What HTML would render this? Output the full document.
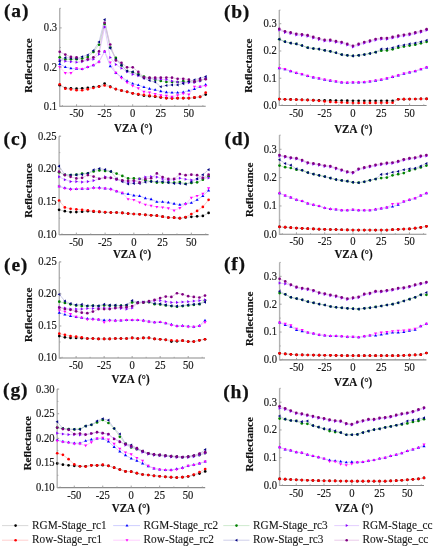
<!DOCTYPE html>
<html><head><meta charset="utf-8"><style>
html,body{margin:0;padding:0;background:#fff;}
body{width:435px;height:550px;overflow:hidden;}
svg{display:block;will-change:transform;filter:blur(0.3px);}
.t{font-family:"Liberation Serif",serif;font-size:10.6px;fill:#1a1a1a;stroke:#1a1a1a;stroke-width:0.18px;}
.al{font-family:"Liberation Serif",serif;font-size:11px;font-weight:bold;fill:#111;stroke:#111;stroke-width:0.15px;word-spacing:1.2px;}
.pl{font-family:"Liberation Serif",serif;font-size:19.5px;font-weight:bold;fill:#111;stroke:#111;stroke-width:0.25px;letter-spacing:0.8px;}
.lg{font-family:"Liberation Serif",serif;font-size:11.3px;fill:#1a1a1a;stroke:#1a1a1a;stroke-width:0.12px;}
</style></head><body>
<svg width="435" height="550" viewBox="0 0 435 550">
<rect width="435" height="550" fill="#fff"/>
<line x1="59.70" y1="106.30" x2="205.70" y2="106.30" stroke="#8a8a8a" stroke-width="1.1"/>
<line x1="59.70" y1="106.80" x2="59.70" y2="8.30" stroke="#b2b2b2" stroke-width="1.4"/>
<path d="M59.70,85.13 L65.32,88.07 L70.93,88.37 L76.55,88.66 L82.16,88.27 L87.78,87.88 L93.39,87.09 L99.01,86.31 L104.62,83.56 L110.24,86.70 L115.85,89.05 L121.47,90.62 L127.08,91.80 L132.70,93.36 L138.32,94.54 L143.93,95.72 L149.55,96.21 L155.16,96.70 L160.78,97.38 L166.39,98.07 L172.01,98.11 L177.62,98.15 L183.24,98.11 L188.85,98.07 L194.47,97.68 L200.08,96.89 L205.70,94.54" fill="none" stroke="#c4c4c4" stroke-width="0.7"/>
<path d="M59.70,57.30 L65.32,59.46 L70.93,59.36 L76.55,59.26 L82.16,58.48 L87.78,57.10 L93.39,51.93 L99.01,44.76 L104.62,23.98 L110.24,47.50 L115.85,57.97 L121.47,65.38 L127.08,71.02 L132.70,72.20 L138.32,74.35 L143.93,76.51 L149.55,78.08 L155.16,79.64 L160.78,80.98 L166.39,82.00 L172.01,82.00 L177.62,82.00 L183.24,81.21 L188.85,81.60 L194.47,82.00 L200.08,80.82 L205.70,78.86" fill="none" stroke="#b0dcb0" stroke-width="0.7"/>
<path d="M59.70,63.96 L65.32,67.10 L70.93,68.28 L76.55,68.86 L82.16,69.06 L87.78,67.10 L93.39,65.14 L99.01,61.61 L104.62,51.42 L110.24,66.20 L115.85,72.98 L121.47,76.90 L127.08,80.98 L132.70,83.56 L138.32,85.13 L143.93,87.09 L149.55,88.66 L155.16,89.84 L160.78,91.21 L166.39,92.19 L172.01,92.58 L177.62,92.58 L183.24,92.19 L188.85,90.62 L194.47,89.13 L200.08,86.70 L205.70,84.74" fill="none" stroke="#b8b8ff" stroke-width="0.7"/>
<path d="M59.70,60.04 L65.32,61.22 L70.93,61.71 L76.55,62.20 L82.16,61.61 L87.78,60.04 L93.39,59.26 L99.01,54.16 L104.62,27.12 L110.24,57.46 L115.85,64.47 L121.47,68.28 L127.08,71.80 L132.70,74.35 L138.32,75.72 L143.93,78.08 L149.55,78.47 L155.16,78.86 L160.78,79.25 L166.39,79.64 L172.01,80.98 L177.62,82.00 L183.24,82.78 L188.85,82.78 L194.47,82.39 L200.08,80.98 L205.70,78.08" fill="none" stroke="#d8b8ff" stroke-width="0.7"/>
<path d="M59.70,84.35 L65.32,88.66 L70.93,89.44 L76.55,90.23 L82.16,90.23 L87.78,89.33 L93.39,88.01 L99.01,86.70 L104.62,85.52 L110.24,87.09 L115.85,89.05 L121.47,90.62 L127.08,91.80 L132.70,93.36 L138.32,94.15 L143.93,94.93 L149.55,95.60 L155.16,96.26 L160.78,97.17 L166.39,98.15 L172.01,98.58 L177.62,98.15 L183.24,98.15 L188.85,98.15 L194.47,97.44 L200.08,96.77 L205.70,92.58" fill="none" stroke="#ffb8b8" stroke-width="0.7"/>
<path d="M59.70,61.22 L65.32,57.69 L70.93,58.08 L76.55,58.48 L82.16,56.71 L87.78,54.95 L93.39,50.64 L99.01,42.01 L104.62,19.67 L110.24,48.09 L115.85,59.26 L121.47,65.14 L127.08,71.02 L132.70,71.80 L138.32,74.94 L143.93,78.08 L149.55,80.55 L155.16,82.00 L160.78,86.70 L166.39,85.52 L172.01,84.90 L177.62,84.90 L183.24,83.56 L188.85,81.49 L194.47,79.88 L200.08,78.27 L205.70,76.51" fill="none" stroke="#b8b8e0" stroke-width="0.7"/>
<path d="M59.70,67.10 L65.32,72.98 L70.93,72.98 L76.55,68.28 L82.16,69.06 L87.78,67.10 L93.39,65.14 L99.01,62.00 L104.62,51.42 L110.24,62.40 L115.85,72.74 L121.47,78.08 L127.08,82.58 L132.70,85.92 L138.32,88.27 L143.93,91.80 L149.55,92.58 L155.16,93.95 L160.78,95.32 L166.39,95.83 L172.01,96.77 L177.62,95.32 L183.24,93.52 L188.85,94.54 L194.47,86.70 L200.08,86.70 L205.70,85.92" fill="none" stroke="#ffb8ff" stroke-width="0.7"/>
<path d="M59.70,51.81 L65.32,54.56 L70.93,56.91 L76.55,57.30 L82.16,60.98 L87.78,59.26 L93.39,57.30 L99.01,51.42 L104.62,22.80 L110.24,44.48 L115.85,60.44 L121.47,62.87 L127.08,67.30 L132.70,67.30 L138.32,71.92 L143.93,77.29 L149.55,77.68 L155.16,77.68 L160.78,77.68 L166.39,77.57 L172.01,77.68 L177.62,78.86 L183.24,78.86 L188.85,79.64 L194.47,81.49 L200.08,79.64 L205.70,79.25" fill="none" stroke="#dcb4dc" stroke-width="0.7"/>
<circle cx="59.70" cy="85.13" r="1.35" fill="#000000"/>
<circle cx="65.32" cy="88.07" r="1.35" fill="#000000"/>
<circle cx="70.93" cy="88.37" r="1.35" fill="#000000"/>
<circle cx="76.55" cy="88.66" r="1.35" fill="#000000"/>
<circle cx="82.16" cy="88.27" r="1.35" fill="#000000"/>
<circle cx="87.78" cy="87.88" r="1.35" fill="#000000"/>
<circle cx="93.39" cy="87.09" r="1.35" fill="#000000"/>
<circle cx="99.01" cy="86.31" r="1.35" fill="#000000"/>
<circle cx="104.62" cy="83.56" r="1.35" fill="#000000"/>
<circle cx="110.24" cy="86.70" r="1.35" fill="#000000"/>
<circle cx="115.85" cy="89.05" r="1.35" fill="#000000"/>
<circle cx="121.47" cy="90.62" r="1.35" fill="#000000"/>
<circle cx="127.08" cy="91.80" r="1.35" fill="#000000"/>
<circle cx="132.70" cy="93.36" r="1.35" fill="#000000"/>
<circle cx="138.32" cy="94.54" r="1.35" fill="#000000"/>
<circle cx="143.93" cy="95.72" r="1.35" fill="#000000"/>
<circle cx="149.55" cy="96.21" r="1.35" fill="#000000"/>
<circle cx="155.16" cy="96.70" r="1.35" fill="#000000"/>
<circle cx="160.78" cy="97.38" r="1.35" fill="#000000"/>
<circle cx="166.39" cy="98.07" r="1.35" fill="#000000"/>
<circle cx="172.01" cy="98.11" r="1.35" fill="#000000"/>
<circle cx="177.62" cy="98.15" r="1.35" fill="#000000"/>
<circle cx="183.24" cy="98.11" r="1.35" fill="#000000"/>
<circle cx="188.85" cy="98.07" r="1.35" fill="#000000"/>
<circle cx="194.47" cy="97.68" r="1.35" fill="#000000"/>
<circle cx="200.08" cy="96.89" r="1.35" fill="#000000"/>
<circle cx="205.70" cy="94.54" r="1.35" fill="#000000"/>
<circle cx="59.70" cy="57.30" r="1.35" fill="#008000"/>
<circle cx="65.32" cy="59.46" r="1.35" fill="#008000"/>
<circle cx="70.93" cy="59.36" r="1.35" fill="#008000"/>
<circle cx="76.55" cy="59.26" r="1.35" fill="#008000"/>
<circle cx="82.16" cy="58.48" r="1.35" fill="#008000"/>
<circle cx="87.78" cy="57.10" r="1.35" fill="#008000"/>
<circle cx="93.39" cy="51.93" r="1.35" fill="#008000"/>
<circle cx="99.01" cy="44.76" r="1.35" fill="#008000"/>
<circle cx="104.62" cy="23.98" r="1.35" fill="#008000"/>
<circle cx="110.24" cy="47.50" r="1.35" fill="#008000"/>
<circle cx="115.85" cy="57.97" r="1.35" fill="#008000"/>
<circle cx="121.47" cy="65.38" r="1.35" fill="#008000"/>
<circle cx="127.08" cy="71.02" r="1.35" fill="#008000"/>
<circle cx="132.70" cy="72.20" r="1.35" fill="#008000"/>
<circle cx="138.32" cy="74.35" r="1.35" fill="#008000"/>
<circle cx="143.93" cy="76.51" r="1.35" fill="#008000"/>
<circle cx="149.55" cy="78.08" r="1.35" fill="#008000"/>
<circle cx="155.16" cy="79.64" r="1.35" fill="#008000"/>
<circle cx="160.78" cy="80.98" r="1.35" fill="#008000"/>
<circle cx="166.39" cy="82.00" r="1.35" fill="#008000"/>
<circle cx="172.01" cy="82.00" r="1.35" fill="#008000"/>
<circle cx="177.62" cy="82.00" r="1.35" fill="#008000"/>
<circle cx="183.24" cy="81.21" r="1.35" fill="#008000"/>
<circle cx="188.85" cy="81.60" r="1.35" fill="#008000"/>
<circle cx="194.47" cy="82.00" r="1.35" fill="#008000"/>
<circle cx="200.08" cy="80.82" r="1.35" fill="#008000"/>
<circle cx="205.70" cy="78.86" r="1.35" fill="#008000"/>
<polygon points="59.70,62.31 58.13,64.95 61.27,64.95" fill="#0000ff"/>
<polygon points="65.32,65.45 63.75,68.09 66.88,68.09" fill="#0000ff"/>
<polygon points="70.93,66.63 69.36,69.27 72.50,69.27" fill="#0000ff"/>
<polygon points="76.55,67.21 74.98,69.85 78.11,69.85" fill="#0000ff"/>
<polygon points="82.16,67.41 80.59,70.05 83.73,70.05" fill="#0000ff"/>
<polygon points="87.78,65.45 86.21,68.09 89.34,68.09" fill="#0000ff"/>
<polygon points="93.39,63.49 91.82,66.13 94.96,66.13" fill="#0000ff"/>
<polygon points="99.01,59.96 97.44,62.60 100.58,62.60" fill="#0000ff"/>
<polygon points="104.62,49.77 103.06,52.41 106.19,52.41" fill="#0000ff"/>
<polygon points="110.24,64.55 108.67,67.19 111.81,67.19" fill="#0000ff"/>
<polygon points="115.85,71.33 114.29,73.97 117.42,73.97" fill="#0000ff"/>
<polygon points="121.47,75.25 119.90,77.89 123.04,77.89" fill="#0000ff"/>
<polygon points="127.08,79.33 125.52,81.97 128.65,81.97" fill="#0000ff"/>
<polygon points="132.70,81.91 131.13,84.55 134.27,84.55" fill="#0000ff"/>
<polygon points="138.32,83.48 136.75,86.12 139.88,86.12" fill="#0000ff"/>
<polygon points="143.93,85.44 142.36,88.08 145.50,88.08" fill="#0000ff"/>
<polygon points="149.55,87.01 147.98,89.65 151.11,89.65" fill="#0000ff"/>
<polygon points="155.16,88.19 153.59,90.83 156.73,90.83" fill="#0000ff"/>
<polygon points="160.78,89.56 159.21,92.20 162.34,92.20" fill="#0000ff"/>
<polygon points="166.39,90.54 164.82,93.18 167.96,93.18" fill="#0000ff"/>
<polygon points="172.01,90.93 170.44,93.57 173.58,93.57" fill="#0000ff"/>
<polygon points="177.62,90.93 176.06,93.57 179.19,93.57" fill="#0000ff"/>
<polygon points="183.24,90.54 181.67,93.18 184.81,93.18" fill="#0000ff"/>
<polygon points="188.85,88.97 187.29,91.61 190.42,91.61" fill="#0000ff"/>
<polygon points="194.47,87.48 192.90,90.12 196.04,90.12" fill="#0000ff"/>
<polygon points="200.08,85.05 198.52,87.69 201.65,87.69" fill="#0000ff"/>
<polygon points="205.70,83.09 204.13,85.73 207.27,85.73" fill="#0000ff"/>
<polygon points="61.35,60.04 58.71,58.48 58.71,61.61" fill="#8a00ff"/>
<polygon points="66.97,61.22 64.33,59.65 64.33,62.79" fill="#8a00ff"/>
<polygon points="72.58,61.71 69.94,60.14 69.94,63.28" fill="#8a00ff"/>
<polygon points="78.20,62.20 75.56,60.63 75.56,63.77" fill="#8a00ff"/>
<polygon points="83.81,61.61 81.17,60.04 81.17,63.18" fill="#8a00ff"/>
<polygon points="89.43,60.04 86.79,58.48 86.79,61.61" fill="#8a00ff"/>
<polygon points="95.04,59.26 92.40,57.69 92.40,60.83" fill="#8a00ff"/>
<polygon points="100.66,54.16 98.02,52.60 98.02,55.73" fill="#8a00ff"/>
<polygon points="106.27,27.12 103.63,25.55 103.63,28.68" fill="#8a00ff"/>
<polygon points="111.89,57.46 109.25,55.89 109.25,59.02" fill="#8a00ff"/>
<polygon points="117.50,64.47 114.86,62.91 114.86,66.04" fill="#8a00ff"/>
<polygon points="123.12,68.28 120.48,66.71 120.48,69.84" fill="#8a00ff"/>
<polygon points="128.73,71.80 126.09,70.24 126.09,73.37" fill="#8a00ff"/>
<polygon points="134.35,74.35 131.71,72.78 131.71,75.92" fill="#8a00ff"/>
<polygon points="139.97,75.72 137.33,74.16 137.33,77.29" fill="#8a00ff"/>
<polygon points="145.58,78.08 142.94,76.51 142.94,79.64" fill="#8a00ff"/>
<polygon points="151.20,78.47 148.56,76.90 148.56,80.04" fill="#8a00ff"/>
<polygon points="156.81,78.86 154.17,77.29 154.17,80.43" fill="#8a00ff"/>
<polygon points="162.43,79.25 159.79,77.68 159.79,80.82" fill="#8a00ff"/>
<polygon points="168.04,79.64 165.40,78.08 165.40,81.21" fill="#8a00ff"/>
<polygon points="173.66,80.98 171.02,79.41 171.02,82.54" fill="#8a00ff"/>
<polygon points="179.27,82.00 176.63,80.43 176.63,83.56" fill="#8a00ff"/>
<polygon points="184.89,82.78 182.25,81.21 182.25,84.35" fill="#8a00ff"/>
<polygon points="190.50,82.78 187.86,81.21 187.86,84.35" fill="#8a00ff"/>
<polygon points="196.12,82.39 193.48,80.82 193.48,83.96" fill="#8a00ff"/>
<polygon points="201.73,80.98 199.09,79.41 199.09,82.54" fill="#8a00ff"/>
<polygon points="207.35,78.08 204.71,76.51 204.71,79.64" fill="#8a00ff"/>
<circle cx="59.70" cy="84.35" r="1.35" fill="#ff0000"/>
<circle cx="65.32" cy="88.66" r="1.35" fill="#ff0000"/>
<circle cx="70.93" cy="89.44" r="1.35" fill="#ff0000"/>
<circle cx="76.55" cy="90.23" r="1.35" fill="#ff0000"/>
<circle cx="82.16" cy="90.23" r="1.35" fill="#ff0000"/>
<circle cx="87.78" cy="89.33" r="1.35" fill="#ff0000"/>
<circle cx="93.39" cy="88.01" r="1.35" fill="#ff0000"/>
<circle cx="99.01" cy="86.70" r="1.35" fill="#ff0000"/>
<circle cx="104.62" cy="85.52" r="1.35" fill="#ff0000"/>
<circle cx="110.24" cy="87.09" r="1.35" fill="#ff0000"/>
<circle cx="115.85" cy="89.05" r="1.35" fill="#ff0000"/>
<circle cx="121.47" cy="90.62" r="1.35" fill="#ff0000"/>
<circle cx="127.08" cy="91.80" r="1.35" fill="#ff0000"/>
<circle cx="132.70" cy="93.36" r="1.35" fill="#ff0000"/>
<circle cx="138.32" cy="94.15" r="1.35" fill="#ff0000"/>
<circle cx="143.93" cy="94.93" r="1.35" fill="#ff0000"/>
<circle cx="149.55" cy="95.60" r="1.35" fill="#ff0000"/>
<circle cx="155.16" cy="96.26" r="1.35" fill="#ff0000"/>
<circle cx="160.78" cy="97.17" r="1.35" fill="#ff0000"/>
<circle cx="166.39" cy="98.15" r="1.35" fill="#ff0000"/>
<circle cx="172.01" cy="98.58" r="1.35" fill="#ff0000"/>
<circle cx="177.62" cy="98.15" r="1.35" fill="#ff0000"/>
<circle cx="183.24" cy="98.15" r="1.35" fill="#ff0000"/>
<circle cx="188.85" cy="98.15" r="1.35" fill="#ff0000"/>
<circle cx="194.47" cy="97.44" r="1.35" fill="#ff0000"/>
<circle cx="200.08" cy="96.77" r="1.35" fill="#ff0000"/>
<circle cx="205.70" cy="92.58" r="1.35" fill="#ff0000"/>
<polygon points="58.05,61.22 60.69,59.65 60.69,62.79" fill="#000080"/>
<polygon points="63.67,57.69 66.31,56.12 66.31,59.26" fill="#000080"/>
<polygon points="69.28,58.08 71.92,56.52 71.92,59.65" fill="#000080"/>
<polygon points="74.90,58.48 77.54,56.91 77.54,60.04" fill="#000080"/>
<polygon points="80.51,56.71 83.15,55.14 83.15,58.28" fill="#000080"/>
<polygon points="86.13,54.95 88.77,53.38 88.77,56.52" fill="#000080"/>
<polygon points="91.74,50.64 94.38,49.07 94.38,52.20" fill="#000080"/>
<polygon points="97.36,42.01 100.00,40.44 100.00,43.58" fill="#000080"/>
<polygon points="102.97,19.67 105.61,18.10 105.61,21.24" fill="#000080"/>
<polygon points="108.59,48.09 111.23,46.52 111.23,49.66" fill="#000080"/>
<polygon points="114.20,59.26 116.84,57.69 116.84,60.83" fill="#000080"/>
<polygon points="119.82,65.14 122.46,63.57 122.46,66.71" fill="#000080"/>
<polygon points="125.43,71.02 128.07,69.45 128.07,72.59" fill="#000080"/>
<polygon points="131.05,71.80 133.69,70.24 133.69,73.37" fill="#000080"/>
<polygon points="136.67,74.94 139.31,73.37 139.31,76.51" fill="#000080"/>
<polygon points="142.28,78.08 144.92,76.51 144.92,79.64" fill="#000080"/>
<polygon points="147.90,80.55 150.54,78.98 150.54,82.11" fill="#000080"/>
<polygon points="153.51,82.00 156.15,80.43 156.15,83.56" fill="#000080"/>
<polygon points="159.13,86.70 161.77,85.13 161.77,88.27" fill="#000080"/>
<polygon points="164.74,85.52 167.38,83.96 167.38,87.09" fill="#000080"/>
<polygon points="170.36,84.90 173.00,83.33 173.00,86.46" fill="#000080"/>
<polygon points="175.97,84.90 178.61,83.33 178.61,86.46" fill="#000080"/>
<polygon points="181.59,83.56 184.23,82.00 184.23,85.13" fill="#000080"/>
<polygon points="187.20,81.49 189.84,79.92 189.84,83.05" fill="#000080"/>
<polygon points="192.82,79.88 195.46,78.31 195.46,81.45" fill="#000080"/>
<polygon points="198.43,78.27 201.07,76.70 201.07,79.84" fill="#000080"/>
<polygon points="204.05,76.51 206.69,74.94 206.69,78.08" fill="#000080"/>
<polygon points="59.70,68.75 58.13,66.11 61.27,66.11" fill="#ff00ff"/>
<polygon points="65.32,74.63 63.75,71.99 66.88,71.99" fill="#ff00ff"/>
<polygon points="70.93,74.63 69.36,71.99 72.50,71.99" fill="#ff00ff"/>
<polygon points="76.55,69.93 74.98,67.29 78.11,67.29" fill="#ff00ff"/>
<polygon points="82.16,70.71 80.59,68.07 83.73,68.07" fill="#ff00ff"/>
<polygon points="87.78,68.75 86.21,66.11 89.34,66.11" fill="#ff00ff"/>
<polygon points="93.39,66.79 91.82,64.15 94.96,64.15" fill="#ff00ff"/>
<polygon points="99.01,63.65 97.44,61.01 100.58,61.01" fill="#ff00ff"/>
<polygon points="104.62,53.07 103.06,50.43 106.19,50.43" fill="#ff00ff"/>
<polygon points="110.24,64.05 108.67,61.41 111.81,61.41" fill="#ff00ff"/>
<polygon points="115.85,74.39 114.29,71.75 117.42,71.75" fill="#ff00ff"/>
<polygon points="121.47,79.73 119.90,77.09 123.04,77.09" fill="#ff00ff"/>
<polygon points="127.08,84.23 125.52,81.59 128.65,81.59" fill="#ff00ff"/>
<polygon points="132.70,87.57 131.13,84.93 134.27,84.93" fill="#ff00ff"/>
<polygon points="138.32,89.92 136.75,87.28 139.88,87.28" fill="#ff00ff"/>
<polygon points="143.93,93.45 142.36,90.81 145.50,90.81" fill="#ff00ff"/>
<polygon points="149.55,94.23 147.98,91.59 151.11,91.59" fill="#ff00ff"/>
<polygon points="155.16,95.60 153.59,92.96 156.73,92.96" fill="#ff00ff"/>
<polygon points="160.78,96.97 159.21,94.33 162.34,94.33" fill="#ff00ff"/>
<polygon points="166.39,97.48 164.82,94.84 167.96,94.84" fill="#ff00ff"/>
<polygon points="172.01,98.42 170.44,95.78 173.58,95.78" fill="#ff00ff"/>
<polygon points="177.62,96.97 176.06,94.33 179.19,94.33" fill="#ff00ff"/>
<polygon points="183.24,95.17 181.67,92.53 184.81,92.53" fill="#ff00ff"/>
<polygon points="188.85,96.19 187.29,93.55 190.42,93.55" fill="#ff00ff"/>
<polygon points="194.47,88.35 192.90,85.71 196.04,85.71" fill="#ff00ff"/>
<polygon points="200.08,88.35 198.52,85.71 201.65,85.71" fill="#ff00ff"/>
<polygon points="205.70,87.57 204.13,84.93 207.27,84.93" fill="#ff00ff"/>
<circle cx="59.70" cy="51.81" r="1.35" fill="#800080"/>
<circle cx="65.32" cy="54.56" r="1.35" fill="#800080"/>
<circle cx="70.93" cy="56.91" r="1.35" fill="#800080"/>
<circle cx="76.55" cy="57.30" r="1.35" fill="#800080"/>
<circle cx="82.16" cy="60.98" r="1.35" fill="#800080"/>
<circle cx="87.78" cy="59.26" r="1.35" fill="#800080"/>
<circle cx="93.39" cy="57.30" r="1.35" fill="#800080"/>
<circle cx="99.01" cy="51.42" r="1.35" fill="#800080"/>
<circle cx="104.62" cy="22.80" r="1.35" fill="#800080"/>
<circle cx="110.24" cy="44.48" r="1.35" fill="#800080"/>
<circle cx="115.85" cy="60.44" r="1.35" fill="#800080"/>
<circle cx="121.47" cy="62.87" r="1.35" fill="#800080"/>
<circle cx="127.08" cy="67.30" r="1.35" fill="#800080"/>
<circle cx="132.70" cy="67.30" r="1.35" fill="#800080"/>
<circle cx="138.32" cy="71.92" r="1.35" fill="#800080"/>
<circle cx="143.93" cy="77.29" r="1.35" fill="#800080"/>
<circle cx="149.55" cy="77.68" r="1.35" fill="#800080"/>
<circle cx="155.16" cy="77.68" r="1.35" fill="#800080"/>
<circle cx="160.78" cy="77.68" r="1.35" fill="#800080"/>
<circle cx="166.39" cy="77.57" r="1.35" fill="#800080"/>
<circle cx="172.01" cy="77.68" r="1.35" fill="#800080"/>
<circle cx="177.62" cy="78.86" r="1.35" fill="#800080"/>
<circle cx="183.24" cy="78.86" r="1.35" fill="#800080"/>
<circle cx="188.85" cy="79.64" r="1.35" fill="#800080"/>
<circle cx="194.47" cy="81.49" r="1.35" fill="#800080"/>
<circle cx="200.08" cy="79.64" r="1.35" fill="#800080"/>
<circle cx="205.70" cy="79.25" r="1.35" fill="#800080"/>
<line x1="76.55" y1="106.30" x2="76.55" y2="104.30" stroke="#9a9a9a" stroke-width="0.9"/>
<text x="0" y="0" class="t" text-anchor="middle" transform="translate(76.55,117.30) scale(1,1.1)">-50</text>
<line x1="104.62" y1="106.30" x2="104.62" y2="104.30" stroke="#9a9a9a" stroke-width="0.9"/>
<text x="0" y="0" class="t" text-anchor="middle" transform="translate(104.62,117.30) scale(1,1.1)">-25</text>
<line x1="132.70" y1="106.30" x2="132.70" y2="104.30" stroke="#9a9a9a" stroke-width="0.9"/>
<text x="0" y="0" class="t" text-anchor="middle" transform="translate(132.70,117.30) scale(1,1.1)">0</text>
<line x1="160.78" y1="106.30" x2="160.78" y2="104.30" stroke="#9a9a9a" stroke-width="0.9"/>
<text x="0" y="0" class="t" text-anchor="middle" transform="translate(160.78,117.30) scale(1,1.1)">25</text>
<line x1="188.85" y1="106.30" x2="188.85" y2="104.30" stroke="#9a9a9a" stroke-width="0.9"/>
<text x="0" y="0" class="t" text-anchor="middle" transform="translate(188.85,117.30) scale(1,1.1)">50</text>
<line x1="62.51" y1="106.30" x2="62.51" y2="105.10" stroke="#9a9a9a" stroke-width="0.8"/>
<line x1="90.58" y1="106.30" x2="90.58" y2="105.10" stroke="#9a9a9a" stroke-width="0.8"/>
<line x1="118.66" y1="106.30" x2="118.66" y2="105.10" stroke="#9a9a9a" stroke-width="0.8"/>
<line x1="146.74" y1="106.30" x2="146.74" y2="105.10" stroke="#9a9a9a" stroke-width="0.8"/>
<line x1="174.82" y1="106.30" x2="174.82" y2="105.10" stroke="#9a9a9a" stroke-width="0.8"/>
<line x1="202.89" y1="106.30" x2="202.89" y2="105.10" stroke="#9a9a9a" stroke-width="0.8"/>
<line x1="59.70" y1="106.30" x2="61.70" y2="106.30" stroke="#9a9a9a" stroke-width="0.9"/>
<text x="0" y="0" class="t" text-anchor="end" transform="translate(57.10,109.70) scale(1,1.1)">0.1</text>
<line x1="59.70" y1="67.10" x2="61.70" y2="67.10" stroke="#9a9a9a" stroke-width="0.9"/>
<text x="0" y="0" class="t" text-anchor="end" transform="translate(57.10,70.50) scale(1,1.1)">0.2</text>
<line x1="59.70" y1="27.90" x2="61.70" y2="27.90" stroke="#9a9a9a" stroke-width="0.9"/>
<text x="0" y="0" class="t" text-anchor="end" transform="translate(57.10,31.30) scale(1,1.1)">0.3</text>
<line x1="59.70" y1="86.70" x2="60.90" y2="86.70" stroke="#9a9a9a" stroke-width="0.8"/>
<line x1="59.70" y1="47.50" x2="60.90" y2="47.50" stroke="#9a9a9a" stroke-width="0.8"/>
<line x1="59.70" y1="8.30" x2="60.90" y2="8.30" stroke="#9a9a9a" stroke-width="0.8"/>
<text x="4.06" y="17.00" class="pl">(a)</text>
<text x="0" y="0" class="al" text-anchor="middle" transform="translate(32.40,65.50) rotate(-90)">Reflectance</text>
<text x="0" y="0" class="al" text-anchor="middle" transform="translate(133.20,131.70) scale(1,1.1)">VZA (&#176;)</text>
<line x1="279.30" y1="105.50" x2="426.60" y2="105.50" stroke="#8a8a8a" stroke-width="1.1"/>
<line x1="279.30" y1="106.00" x2="279.30" y2="10.10" stroke="#b2b2b2" stroke-width="1.4"/>
<path d="M279.30,99.09 L284.97,99.27 L290.63,99.45 L296.30,99.62 L301.96,99.80 L307.63,99.97 L313.29,100.15 L318.96,100.32 L324.62,100.39 L330.29,100.46 L335.95,100.53 L341.62,100.59 L347.28,100.66 L352.95,100.73 L358.62,100.73 L364.28,100.73 L369.95,100.73 L375.61,100.73 L381.28,100.73 L386.94,100.73 L392.61,100.73 L398.27,99.23 L403.94,99.15 L409.60,99.07 L415.27,98.99 L420.93,98.90 L426.60,98.82" fill="none" stroke="#c4c4c4" stroke-width="0.7"/>
<path d="M279.30,39.27 L284.97,41.72 L290.63,43.08 L296.30,43.90 L301.96,45.53 L307.63,47.71 L313.29,48.53 L318.96,49.08 L324.62,50.33 L330.29,51.31 L335.95,52.73 L341.62,54.61 L347.28,55.35 L352.95,55.89 L358.62,55.35 L364.28,54.61 L369.95,53.52 L375.61,52.21 L381.28,50.71 L386.94,50.44 L392.61,49.35 L398.27,47.71 L403.94,46.62 L409.60,45.53 L415.27,44.72 L420.93,43.35 L426.60,41.85" fill="none" stroke="#b0dcb0" stroke-width="0.7"/>
<path d="M279.30,68.21 L284.97,69.30 L290.63,71.16 L296.30,73.06 L301.96,74.32 L307.63,76.12 L313.29,77.43 L318.96,78.52 L324.62,79.88 L330.29,80.70 L335.95,81.62 L341.62,82.52 L347.28,82.88 L352.95,82.52 L358.62,82.52 L364.28,82.20 L369.95,81.62 L375.61,80.70 L381.28,79.88 L386.94,78.52 L392.61,77.02 L398.27,75.52 L403.94,73.72 L409.60,72.41 L415.27,71.16 L420.93,69.30 L426.60,67.42" fill="none" stroke="#b8b8ff" stroke-width="0.7"/>
<path d="M279.30,30.00 L284.97,32.45 L290.63,33.54 L296.30,34.90 L301.96,35.45 L307.63,36.27 L313.29,38.01 L318.96,39.54 L324.62,41.01 L330.29,41.01 L335.95,42.26 L341.62,43.08 L347.28,44.99 L352.95,46.90 L358.62,44.99 L364.28,43.08 L369.95,41.72 L375.61,40.08 L381.28,39.13 L386.94,39.13 L392.61,38.01 L398.27,36.81 L403.94,35.83 L409.60,34.90 L415.27,33.54 L420.93,32.18 L426.60,30.27" fill="none" stroke="#d8b8ff" stroke-width="0.7"/>
<path d="M279.30,99.09 L284.97,99.30 L290.63,99.50 L296.30,99.71 L301.96,99.91 L307.63,100.12 L313.29,100.32 L318.96,100.87 L324.62,101.41 L330.29,101.96 L335.95,102.23 L341.62,102.50 L347.28,102.77 L352.95,103.05 L358.62,103.01 L364.28,102.97 L369.95,102.93 L375.61,102.89 L381.28,102.85 L386.94,102.81 L392.61,102.77 L398.27,99.23 L403.94,99.15 L409.60,99.07 L415.27,98.99 L420.93,98.90 L426.60,98.82" fill="none" stroke="#ffb8b8" stroke-width="0.7"/>
<path d="M279.30,39.27 L284.97,41.72 L290.63,43.08 L296.30,43.90 L301.96,45.53 L307.63,47.71 L313.29,48.53 L318.96,49.08 L324.62,50.33 L330.29,51.31 L335.95,52.73 L341.62,54.61 L347.28,55.35 L352.95,55.89 L358.62,55.35 L364.28,54.61 L369.95,53.52 L375.61,52.21 L381.28,49.08 L386.94,48.81 L392.61,47.71 L398.27,46.08 L403.94,44.99 L409.60,43.90 L415.27,43.08 L420.93,41.72 L426.60,40.22" fill="none" stroke="#b8b8e0" stroke-width="0.7"/>
<path d="M279.30,67.94 L284.97,69.03 L290.63,70.88 L296.30,72.79 L301.96,74.05 L307.63,75.84 L313.29,77.15 L318.96,78.24 L324.62,79.61 L330.29,80.42 L335.95,81.35 L341.62,82.25 L347.28,82.60 L352.95,82.25 L358.62,82.25 L364.28,81.92 L369.95,81.35 L375.61,80.42 L381.28,79.61 L386.94,78.24 L392.61,76.74 L398.27,75.24 L403.94,73.45 L409.60,72.14 L415.27,70.88 L420.93,69.03 L426.60,67.15" fill="none" stroke="#ffb8ff" stroke-width="0.7"/>
<path d="M279.30,28.91 L284.97,31.36 L290.63,32.45 L296.30,33.81 L301.96,34.36 L307.63,35.18 L313.29,36.92 L318.96,38.45 L324.62,39.92 L330.29,39.92 L335.95,41.17 L341.62,41.99 L347.28,43.90 L352.95,45.81 L358.62,43.90 L364.28,41.99 L369.95,40.63 L375.61,38.99 L381.28,38.04 L386.94,38.04 L392.61,36.92 L398.27,35.72 L403.94,34.74 L409.60,33.81 L415.27,32.45 L420.93,31.09 L426.60,29.18" fill="none" stroke="#dcb4dc" stroke-width="0.7"/>
<circle cx="279.30" cy="99.09" r="1.35" fill="#000000"/>
<circle cx="284.97" cy="99.27" r="1.35" fill="#000000"/>
<circle cx="290.63" cy="99.45" r="1.35" fill="#000000"/>
<circle cx="296.30" cy="99.62" r="1.35" fill="#000000"/>
<circle cx="301.96" cy="99.80" r="1.35" fill="#000000"/>
<circle cx="307.63" cy="99.97" r="1.35" fill="#000000"/>
<circle cx="313.29" cy="100.15" r="1.35" fill="#000000"/>
<circle cx="318.96" cy="100.32" r="1.35" fill="#000000"/>
<circle cx="324.62" cy="100.39" r="1.35" fill="#000000"/>
<circle cx="330.29" cy="100.46" r="1.35" fill="#000000"/>
<circle cx="335.95" cy="100.53" r="1.35" fill="#000000"/>
<circle cx="341.62" cy="100.59" r="1.35" fill="#000000"/>
<circle cx="347.28" cy="100.66" r="1.35" fill="#000000"/>
<circle cx="352.95" cy="100.73" r="1.35" fill="#000000"/>
<circle cx="358.62" cy="100.73" r="1.35" fill="#000000"/>
<circle cx="364.28" cy="100.73" r="1.35" fill="#000000"/>
<circle cx="369.95" cy="100.73" r="1.35" fill="#000000"/>
<circle cx="375.61" cy="100.73" r="1.35" fill="#000000"/>
<circle cx="381.28" cy="100.73" r="1.35" fill="#000000"/>
<circle cx="386.94" cy="100.73" r="1.35" fill="#000000"/>
<circle cx="392.61" cy="100.73" r="1.35" fill="#000000"/>
<circle cx="398.27" cy="99.23" r="1.35" fill="#000000"/>
<circle cx="403.94" cy="99.15" r="1.35" fill="#000000"/>
<circle cx="409.60" cy="99.07" r="1.35" fill="#000000"/>
<circle cx="415.27" cy="98.99" r="1.35" fill="#000000"/>
<circle cx="420.93" cy="98.90" r="1.35" fill="#000000"/>
<circle cx="426.60" cy="98.82" r="1.35" fill="#000000"/>
<circle cx="279.30" cy="39.27" r="1.35" fill="#008000"/>
<circle cx="284.97" cy="41.72" r="1.35" fill="#008000"/>
<circle cx="290.63" cy="43.08" r="1.35" fill="#008000"/>
<circle cx="296.30" cy="43.90" r="1.35" fill="#008000"/>
<circle cx="301.96" cy="45.53" r="1.35" fill="#008000"/>
<circle cx="307.63" cy="47.71" r="1.35" fill="#008000"/>
<circle cx="313.29" cy="48.53" r="1.35" fill="#008000"/>
<circle cx="318.96" cy="49.08" r="1.35" fill="#008000"/>
<circle cx="324.62" cy="50.33" r="1.35" fill="#008000"/>
<circle cx="330.29" cy="51.31" r="1.35" fill="#008000"/>
<circle cx="335.95" cy="52.73" r="1.35" fill="#008000"/>
<circle cx="341.62" cy="54.61" r="1.35" fill="#008000"/>
<circle cx="347.28" cy="55.35" r="1.35" fill="#008000"/>
<circle cx="352.95" cy="55.89" r="1.35" fill="#008000"/>
<circle cx="358.62" cy="55.35" r="1.35" fill="#008000"/>
<circle cx="364.28" cy="54.61" r="1.35" fill="#008000"/>
<circle cx="369.95" cy="53.52" r="1.35" fill="#008000"/>
<circle cx="375.61" cy="52.21" r="1.35" fill="#008000"/>
<circle cx="381.28" cy="50.71" r="1.35" fill="#008000"/>
<circle cx="386.94" cy="50.44" r="1.35" fill="#008000"/>
<circle cx="392.61" cy="49.35" r="1.35" fill="#008000"/>
<circle cx="398.27" cy="47.71" r="1.35" fill="#008000"/>
<circle cx="403.94" cy="46.62" r="1.35" fill="#008000"/>
<circle cx="409.60" cy="45.53" r="1.35" fill="#008000"/>
<circle cx="415.27" cy="44.72" r="1.35" fill="#008000"/>
<circle cx="420.93" cy="43.35" r="1.35" fill="#008000"/>
<circle cx="426.60" cy="41.85" r="1.35" fill="#008000"/>
<polygon points="279.30,66.56 277.73,69.20 280.87,69.20" fill="#0000ff"/>
<polygon points="284.97,67.65 283.40,70.29 286.53,70.29" fill="#0000ff"/>
<polygon points="290.63,69.51 289.06,72.15 292.20,72.15" fill="#0000ff"/>
<polygon points="296.30,71.41 294.73,74.05 297.86,74.05" fill="#0000ff"/>
<polygon points="301.96,72.67 300.39,75.31 303.53,75.31" fill="#0000ff"/>
<polygon points="307.63,74.47 306.06,77.11 309.19,77.11" fill="#0000ff"/>
<polygon points="313.29,75.78 311.72,78.42 314.86,78.42" fill="#0000ff"/>
<polygon points="318.96,76.87 317.39,79.51 320.53,79.51" fill="#0000ff"/>
<polygon points="324.62,78.23 323.06,80.87 326.19,80.87" fill="#0000ff"/>
<polygon points="330.29,79.05 328.72,81.69 331.86,81.69" fill="#0000ff"/>
<polygon points="335.95,79.97 334.39,82.61 337.52,82.61" fill="#0000ff"/>
<polygon points="341.62,80.87 340.05,83.51 343.19,83.51" fill="#0000ff"/>
<polygon points="347.28,81.23 345.72,83.87 348.85,83.87" fill="#0000ff"/>
<polygon points="352.95,80.87 351.38,83.51 354.52,83.51" fill="#0000ff"/>
<polygon points="358.62,80.87 357.05,83.51 360.18,83.51" fill="#0000ff"/>
<polygon points="364.28,80.55 362.71,83.19 365.85,83.19" fill="#0000ff"/>
<polygon points="369.95,79.97 368.38,82.61 371.51,82.61" fill="#0000ff"/>
<polygon points="375.61,79.05 374.04,81.69 377.18,81.69" fill="#0000ff"/>
<polygon points="381.28,78.23 379.71,80.87 382.84,80.87" fill="#0000ff"/>
<polygon points="386.94,76.87 385.37,79.51 388.51,79.51" fill="#0000ff"/>
<polygon points="392.61,75.37 391.04,78.01 394.18,78.01" fill="#0000ff"/>
<polygon points="398.27,73.87 396.71,76.51 399.84,76.51" fill="#0000ff"/>
<polygon points="403.94,72.07 402.37,74.71 405.51,74.71" fill="#0000ff"/>
<polygon points="409.60,70.76 408.04,73.40 411.17,73.40" fill="#0000ff"/>
<polygon points="415.27,69.51 413.70,72.15 416.84,72.15" fill="#0000ff"/>
<polygon points="420.93,67.65 419.37,70.29 422.50,70.29" fill="#0000ff"/>
<polygon points="426.60,65.77 425.03,68.41 428.17,68.41" fill="#0000ff"/>
<polygon points="280.95,30.00 278.31,28.43 278.31,31.57" fill="#8a00ff"/>
<polygon points="286.62,32.45 283.98,30.88 283.98,34.02" fill="#8a00ff"/>
<polygon points="292.28,33.54 289.64,31.97 289.64,35.11" fill="#8a00ff"/>
<polygon points="297.95,34.90 295.31,33.34 295.31,36.47" fill="#8a00ff"/>
<polygon points="303.61,35.45 300.97,33.88 300.97,37.02" fill="#8a00ff"/>
<polygon points="309.28,36.27 306.64,34.70 306.64,37.83" fill="#8a00ff"/>
<polygon points="314.94,38.01 312.30,36.44 312.30,39.58" fill="#8a00ff"/>
<polygon points="320.61,39.54 317.97,37.97 317.97,41.11" fill="#8a00ff"/>
<polygon points="326.27,41.01 323.63,39.44 323.63,42.58" fill="#8a00ff"/>
<polygon points="331.94,41.01 329.30,39.44 329.30,42.58" fill="#8a00ff"/>
<polygon points="337.60,42.26 334.96,40.70 334.96,43.83" fill="#8a00ff"/>
<polygon points="343.27,43.08 340.63,41.51 340.63,44.65" fill="#8a00ff"/>
<polygon points="348.93,44.99 346.29,43.42 346.29,46.56" fill="#8a00ff"/>
<polygon points="354.60,46.90 351.96,45.33 351.96,48.46" fill="#8a00ff"/>
<polygon points="360.27,44.99 357.63,43.42 357.63,46.56" fill="#8a00ff"/>
<polygon points="365.93,43.08 363.29,41.51 363.29,44.65" fill="#8a00ff"/>
<polygon points="371.60,41.72 368.96,40.15 368.96,43.29" fill="#8a00ff"/>
<polygon points="377.26,40.08 374.62,38.52 374.62,41.65" fill="#8a00ff"/>
<polygon points="382.93,39.13 380.29,37.56 380.29,40.70" fill="#8a00ff"/>
<polygon points="388.59,39.13 385.95,37.56 385.95,40.70" fill="#8a00ff"/>
<polygon points="394.26,38.01 391.62,36.44 391.62,39.58" fill="#8a00ff"/>
<polygon points="399.92,36.81 397.28,35.24 397.28,38.38" fill="#8a00ff"/>
<polygon points="405.59,35.83 402.95,34.26 402.95,37.40" fill="#8a00ff"/>
<polygon points="411.25,34.90 408.61,33.34 408.61,36.47" fill="#8a00ff"/>
<polygon points="416.92,33.54 414.28,31.97 414.28,35.11" fill="#8a00ff"/>
<polygon points="422.58,32.18 419.94,30.61 419.94,33.75" fill="#8a00ff"/>
<polygon points="428.25,30.27 425.61,28.70 425.61,31.84" fill="#8a00ff"/>
<circle cx="279.30" cy="99.09" r="1.35" fill="#ff0000"/>
<circle cx="284.97" cy="99.30" r="1.35" fill="#ff0000"/>
<circle cx="290.63" cy="99.50" r="1.35" fill="#ff0000"/>
<circle cx="296.30" cy="99.71" r="1.35" fill="#ff0000"/>
<circle cx="301.96" cy="99.91" r="1.35" fill="#ff0000"/>
<circle cx="307.63" cy="100.12" r="1.35" fill="#ff0000"/>
<circle cx="313.29" cy="100.32" r="1.35" fill="#ff0000"/>
<circle cx="318.96" cy="100.87" r="1.35" fill="#ff0000"/>
<circle cx="324.62" cy="101.41" r="1.35" fill="#ff0000"/>
<circle cx="330.29" cy="101.96" r="1.35" fill="#ff0000"/>
<circle cx="335.95" cy="102.23" r="1.35" fill="#ff0000"/>
<circle cx="341.62" cy="102.50" r="1.35" fill="#ff0000"/>
<circle cx="347.28" cy="102.77" r="1.35" fill="#ff0000"/>
<circle cx="352.95" cy="103.05" r="1.35" fill="#ff0000"/>
<circle cx="358.62" cy="103.01" r="1.35" fill="#ff0000"/>
<circle cx="364.28" cy="102.97" r="1.35" fill="#ff0000"/>
<circle cx="369.95" cy="102.93" r="1.35" fill="#ff0000"/>
<circle cx="375.61" cy="102.89" r="1.35" fill="#ff0000"/>
<circle cx="381.28" cy="102.85" r="1.35" fill="#ff0000"/>
<circle cx="386.94" cy="102.81" r="1.35" fill="#ff0000"/>
<circle cx="392.61" cy="102.77" r="1.35" fill="#ff0000"/>
<circle cx="398.27" cy="99.23" r="1.35" fill="#ff0000"/>
<circle cx="403.94" cy="99.15" r="1.35" fill="#ff0000"/>
<circle cx="409.60" cy="99.07" r="1.35" fill="#ff0000"/>
<circle cx="415.27" cy="98.99" r="1.35" fill="#ff0000"/>
<circle cx="420.93" cy="98.90" r="1.35" fill="#ff0000"/>
<circle cx="426.60" cy="98.82" r="1.35" fill="#ff0000"/>
<polygon points="277.65,39.27 280.29,37.70 280.29,40.83" fill="#000080"/>
<polygon points="283.32,41.72 285.96,40.15 285.96,43.29" fill="#000080"/>
<polygon points="288.98,43.08 291.62,41.51 291.62,44.65" fill="#000080"/>
<polygon points="294.65,43.90 297.29,42.33 297.29,45.47" fill="#000080"/>
<polygon points="300.31,45.53 302.95,43.97 302.95,47.10" fill="#000080"/>
<polygon points="305.98,47.71 308.62,46.15 308.62,49.28" fill="#000080"/>
<polygon points="311.64,48.53 314.28,46.97 314.28,50.10" fill="#000080"/>
<polygon points="317.31,49.08 319.95,47.51 319.95,50.65" fill="#000080"/>
<polygon points="322.97,50.33 325.61,48.76 325.61,51.90" fill="#000080"/>
<polygon points="328.64,51.31 331.28,49.75 331.28,52.88" fill="#000080"/>
<polygon points="334.30,52.73 336.94,51.16 336.94,54.30" fill="#000080"/>
<polygon points="339.97,54.61 342.61,53.04 342.61,56.18" fill="#000080"/>
<polygon points="345.63,55.35 348.27,53.78 348.27,56.91" fill="#000080"/>
<polygon points="351.30,55.89 353.94,54.32 353.94,57.46" fill="#000080"/>
<polygon points="356.97,55.35 359.61,53.78 359.61,56.91" fill="#000080"/>
<polygon points="362.63,54.61 365.27,53.04 365.27,56.18" fill="#000080"/>
<polygon points="368.30,53.52 370.94,51.95 370.94,55.09" fill="#000080"/>
<polygon points="373.96,52.21 376.60,50.64 376.60,53.78" fill="#000080"/>
<polygon points="379.63,49.08 382.27,47.51 382.27,50.65" fill="#000080"/>
<polygon points="385.29,48.81 387.93,47.24 387.93,50.37" fill="#000080"/>
<polygon points="390.96,47.71 393.60,46.15 393.60,49.28" fill="#000080"/>
<polygon points="396.62,46.08 399.26,44.51 399.26,47.65" fill="#000080"/>
<polygon points="402.29,44.99 404.93,43.42 404.93,46.56" fill="#000080"/>
<polygon points="407.95,43.90 410.59,42.33 410.59,45.47" fill="#000080"/>
<polygon points="413.62,43.08 416.26,41.51 416.26,44.65" fill="#000080"/>
<polygon points="419.28,41.72 421.92,40.15 421.92,43.29" fill="#000080"/>
<polygon points="424.95,40.22 427.59,38.65 427.59,41.79" fill="#000080"/>
<polygon points="279.30,69.59 277.73,66.95 280.87,66.95" fill="#ff00ff"/>
<polygon points="284.97,70.68 283.40,68.04 286.53,68.04" fill="#ff00ff"/>
<polygon points="290.63,72.53 289.06,69.89 292.20,69.89" fill="#ff00ff"/>
<polygon points="296.30,74.44 294.73,71.80 297.86,71.80" fill="#ff00ff"/>
<polygon points="301.96,75.70 300.39,73.06 303.53,73.06" fill="#ff00ff"/>
<polygon points="307.63,77.49 306.06,74.85 309.19,74.85" fill="#ff00ff"/>
<polygon points="313.29,78.80 311.72,76.16 314.86,76.16" fill="#ff00ff"/>
<polygon points="318.96,79.89 317.39,77.25 320.53,77.25" fill="#ff00ff"/>
<polygon points="324.62,81.26 323.06,78.62 326.19,78.62" fill="#ff00ff"/>
<polygon points="330.29,82.07 328.72,79.43 331.86,79.43" fill="#ff00ff"/>
<polygon points="335.95,83.00 334.39,80.36 337.52,80.36" fill="#ff00ff"/>
<polygon points="341.62,83.90 340.05,81.26 343.19,81.26" fill="#ff00ff"/>
<polygon points="347.28,84.25 345.72,81.61 348.85,81.61" fill="#ff00ff"/>
<polygon points="352.95,83.90 351.38,81.26 354.52,81.26" fill="#ff00ff"/>
<polygon points="358.62,83.90 357.05,81.26 360.18,81.26" fill="#ff00ff"/>
<polygon points="364.28,83.57 362.71,80.93 365.85,80.93" fill="#ff00ff"/>
<polygon points="369.95,83.00 368.38,80.36 371.51,80.36" fill="#ff00ff"/>
<polygon points="375.61,82.07 374.04,79.43 377.18,79.43" fill="#ff00ff"/>
<polygon points="381.28,81.26 379.71,78.62 382.84,78.62" fill="#ff00ff"/>
<polygon points="386.94,79.89 385.37,77.25 388.51,77.25" fill="#ff00ff"/>
<polygon points="392.61,78.39 391.04,75.75 394.18,75.75" fill="#ff00ff"/>
<polygon points="398.27,76.89 396.71,74.25 399.84,74.25" fill="#ff00ff"/>
<polygon points="403.94,75.10 402.37,72.46 405.51,72.46" fill="#ff00ff"/>
<polygon points="409.60,73.79 408.04,71.15 411.17,71.15" fill="#ff00ff"/>
<polygon points="415.27,72.53 413.70,69.89 416.84,69.89" fill="#ff00ff"/>
<polygon points="420.93,70.68 419.37,68.04 422.50,68.04" fill="#ff00ff"/>
<polygon points="426.60,68.80 425.03,66.16 428.17,66.16" fill="#ff00ff"/>
<circle cx="279.30" cy="28.91" r="1.35" fill="#800080"/>
<circle cx="284.97" cy="31.36" r="1.35" fill="#800080"/>
<circle cx="290.63" cy="32.45" r="1.35" fill="#800080"/>
<circle cx="296.30" cy="33.81" r="1.35" fill="#800080"/>
<circle cx="301.96" cy="34.36" r="1.35" fill="#800080"/>
<circle cx="307.63" cy="35.18" r="1.35" fill="#800080"/>
<circle cx="313.29" cy="36.92" r="1.35" fill="#800080"/>
<circle cx="318.96" cy="38.45" r="1.35" fill="#800080"/>
<circle cx="324.62" cy="39.92" r="1.35" fill="#800080"/>
<circle cx="330.29" cy="39.92" r="1.35" fill="#800080"/>
<circle cx="335.95" cy="41.17" r="1.35" fill="#800080"/>
<circle cx="341.62" cy="41.99" r="1.35" fill="#800080"/>
<circle cx="347.28" cy="43.90" r="1.35" fill="#800080"/>
<circle cx="352.95" cy="45.81" r="1.35" fill="#800080"/>
<circle cx="358.62" cy="43.90" r="1.35" fill="#800080"/>
<circle cx="364.28" cy="41.99" r="1.35" fill="#800080"/>
<circle cx="369.95" cy="40.63" r="1.35" fill="#800080"/>
<circle cx="375.61" cy="38.99" r="1.35" fill="#800080"/>
<circle cx="381.28" cy="38.04" r="1.35" fill="#800080"/>
<circle cx="386.94" cy="38.04" r="1.35" fill="#800080"/>
<circle cx="392.61" cy="36.92" r="1.35" fill="#800080"/>
<circle cx="398.27" cy="35.72" r="1.35" fill="#800080"/>
<circle cx="403.94" cy="34.74" r="1.35" fill="#800080"/>
<circle cx="409.60" cy="33.81" r="1.35" fill="#800080"/>
<circle cx="415.27" cy="32.45" r="1.35" fill="#800080"/>
<circle cx="420.93" cy="31.09" r="1.35" fill="#800080"/>
<circle cx="426.60" cy="29.18" r="1.35" fill="#800080"/>
<line x1="296.30" y1="105.50" x2="296.30" y2="103.50" stroke="#9a9a9a" stroke-width="0.9"/>
<text x="0" y="0" class="t" text-anchor="middle" transform="translate(296.30,116.50) scale(1,1.1)">-50</text>
<line x1="324.62" y1="105.50" x2="324.62" y2="103.50" stroke="#9a9a9a" stroke-width="0.9"/>
<text x="0" y="0" class="t" text-anchor="middle" transform="translate(324.62,116.50) scale(1,1.1)">-25</text>
<line x1="352.95" y1="105.50" x2="352.95" y2="103.50" stroke="#9a9a9a" stroke-width="0.9"/>
<text x="0" y="0" class="t" text-anchor="middle" transform="translate(352.95,116.50) scale(1,1.1)">0</text>
<line x1="381.28" y1="105.50" x2="381.28" y2="103.50" stroke="#9a9a9a" stroke-width="0.9"/>
<text x="0" y="0" class="t" text-anchor="middle" transform="translate(381.28,116.50) scale(1,1.1)">25</text>
<line x1="409.60" y1="105.50" x2="409.60" y2="103.50" stroke="#9a9a9a" stroke-width="0.9"/>
<text x="0" y="0" class="t" text-anchor="middle" transform="translate(409.60,116.50) scale(1,1.1)">50</text>
<line x1="282.13" y1="105.50" x2="282.13" y2="104.30" stroke="#9a9a9a" stroke-width="0.8"/>
<line x1="310.46" y1="105.50" x2="310.46" y2="104.30" stroke="#9a9a9a" stroke-width="0.8"/>
<line x1="338.79" y1="105.50" x2="338.79" y2="104.30" stroke="#9a9a9a" stroke-width="0.8"/>
<line x1="367.11" y1="105.50" x2="367.11" y2="104.30" stroke="#9a9a9a" stroke-width="0.8"/>
<line x1="395.44" y1="105.50" x2="395.44" y2="104.30" stroke="#9a9a9a" stroke-width="0.8"/>
<line x1="423.77" y1="105.50" x2="423.77" y2="104.30" stroke="#9a9a9a" stroke-width="0.8"/>
<line x1="279.30" y1="105.50" x2="281.30" y2="105.50" stroke="#9a9a9a" stroke-width="0.9"/>
<text x="0" y="0" class="t" text-anchor="end" transform="translate(276.70,108.90) scale(1,1.1)">0.0</text>
<line x1="279.30" y1="78.24" x2="281.30" y2="78.24" stroke="#9a9a9a" stroke-width="0.9"/>
<text x="0" y="0" class="t" text-anchor="end" transform="translate(276.70,81.64) scale(1,1.1)">0.1</text>
<line x1="279.30" y1="50.99" x2="281.30" y2="50.99" stroke="#9a9a9a" stroke-width="0.9"/>
<text x="0" y="0" class="t" text-anchor="end" transform="translate(276.70,54.39) scale(1,1.1)">0.2</text>
<line x1="279.30" y1="23.73" x2="281.30" y2="23.73" stroke="#9a9a9a" stroke-width="0.9"/>
<text x="0" y="0" class="t" text-anchor="end" transform="translate(276.70,27.13) scale(1,1.1)">0.3</text>
<line x1="279.30" y1="91.87" x2="280.50" y2="91.87" stroke="#9a9a9a" stroke-width="0.8"/>
<line x1="279.30" y1="64.61" x2="280.50" y2="64.61" stroke="#9a9a9a" stroke-width="0.8"/>
<line x1="279.30" y1="37.36" x2="280.50" y2="37.36" stroke="#9a9a9a" stroke-width="0.8"/>
<line x1="279.30" y1="10.10" x2="280.50" y2="10.10" stroke="#9a9a9a" stroke-width="0.8"/>
<text x="223.90" y="17.90" class="pl">(b)</text>
<text x="0" y="0" class="al" text-anchor="middle" transform="translate(252.40,65.70) rotate(-90)">Reflectance</text>
<text x="0" y="0" class="al" text-anchor="middle" transform="translate(353.30,132.50) scale(1,1.1)">VZA (&#176;)</text>
<line x1="59.10" y1="234.60" x2="208.60" y2="234.60" stroke="#8a8a8a" stroke-width="1.1"/>
<line x1="59.10" y1="235.10" x2="59.10" y2="136.20" stroke="#b2b2b2" stroke-width="1.4"/>
<path d="M59.10,209.87 L64.85,211.18 L70.60,212.10 L76.35,212.10 L82.10,211.64 L87.85,211.18 L93.60,211.64 L99.35,211.97 L105.10,212.30 L110.85,212.49 L116.60,212.49 L122.35,212.95 L128.10,213.61 L133.85,214.00 L139.60,214.26 L145.35,214.79 L151.10,215.25 L156.85,215.71 L162.60,216.63 L168.35,217.54 L174.10,217.68 L179.85,218.20 L185.60,217.41 L191.35,216.82 L197.10,216.30 L202.85,215.97 L208.60,212.95" fill="none" stroke="#c4c4c4" stroke-width="0.7"/>
<path d="M59.10,172.28 L64.85,174.90 L70.60,175.04 L76.35,174.71 L82.10,173.59 L87.85,173.26 L93.60,171.43 L99.35,170.44 L105.10,170.97 L110.85,171.62 L116.60,173.59 L122.35,175.95 L128.10,178.38 L133.85,178.38 L139.60,178.84 L145.35,180.15 L151.10,181.46 L156.85,182.58 L162.60,182.58 L168.35,182.38 L174.10,182.58 L179.85,182.12 L185.60,183.76 L191.35,182.91 L197.10,182.32 L202.85,179.63 L208.60,176.28" fill="none" stroke="#b0dcb0" stroke-width="0.7"/>
<path d="M59.10,186.19 L64.85,188.02 L70.60,188.94 L76.35,188.94 L82.10,188.68 L87.85,188.68 L93.60,187.63 L99.35,187.63 L105.10,188.42 L110.85,188.94 L116.60,191.30 L122.35,193.27 L128.10,193.93 L133.85,195.50 L139.60,195.90 L145.35,198.19 L151.10,199.18 L156.85,201.87 L162.60,201.87 L168.35,202.46 L174.10,203.70 L179.85,204.69 L185.60,203.57 L191.35,202.78 L197.10,199.83 L202.85,195.96 L208.60,190.52" fill="none" stroke="#b8b8ff" stroke-width="0.7"/>
<path d="M59.10,176.87 L64.85,179.69 L70.60,181.60 L76.35,181.60 L82.10,182.12 L87.85,181.60 L93.60,180.61 L99.35,178.77 L105.10,176.87 L110.85,177.86 L116.60,179.69 L122.35,180.94 L128.10,182.51 L133.85,181.60 L139.60,178.91 L145.35,177.07 L151.10,176.54 L156.85,177.07 L162.60,178.91 L168.35,180.15 L174.10,179.50 L179.85,178.18 L185.60,179.23 L191.35,180.09 L197.10,179.23 L202.85,177.92 L208.60,177.92" fill="none" stroke="#d8b8ff" stroke-width="0.7"/>
<path d="M59.10,200.62 L64.85,207.44 L70.60,208.75 L76.35,209.34 L82.10,209.87 L87.85,210.26 L93.60,211.18 L99.35,211.64 L105.10,212.10 L110.85,212.49 L116.60,212.49 L122.35,212.95 L128.10,213.61 L133.85,214.00 L139.60,214.26 L145.35,214.79 L151.10,215.25 L156.85,215.71 L162.60,216.63 L168.35,217.54 L174.10,217.68 L179.85,218.20 L185.60,217.08 L191.35,214.00 L197.10,210.92 L202.85,206.92 L208.60,199.83" fill="none" stroke="#ffb8b8" stroke-width="0.7"/>
<path d="M59.10,166.18 L64.85,174.71 L70.60,175.04 L76.35,174.90 L82.10,174.58 L87.85,173.26 L93.60,169.92 L99.35,168.61 L105.10,169.52 L110.85,171.43 L116.60,178.77 L122.35,181.60 L128.10,183.96 L133.85,183.43 L139.60,183.43 L145.35,182.12 L151.10,181.46 L156.85,181.46 L162.60,181.46 L168.35,182.58 L174.10,183.43 L179.85,183.43 L185.60,184.28 L191.35,182.12 L197.10,178.84 L202.85,174.71 L208.60,169.66" fill="none" stroke="#b8b8e0" stroke-width="0.7"/>
<path d="M59.10,186.52 L64.85,188.42 L70.60,189.53 L76.35,188.94 L82.10,188.68 L87.85,188.68 L93.60,188.02 L99.35,188.42 L105.10,188.42 L110.85,189.53 L116.60,191.30 L122.35,192.62 L128.10,199.18 L133.85,199.96 L139.60,202.39 L145.35,204.69 L151.10,205.74 L156.85,206.92 L162.60,207.38 L168.35,208.36 L174.10,210.52 L179.85,208.03 L185.60,204.10 L191.35,197.80 L197.10,195.96 L202.85,193.80 L208.60,188.29" fill="none" stroke="#ffb8ff" stroke-width="0.7"/>
<path d="M59.10,171.69 L64.85,175.04 L70.60,176.87 L76.35,178.38 L82.10,177.86 L87.85,175.04 L93.60,176.54 L99.35,178.77 L105.10,177.86 L110.85,177.86 L116.60,179.17 L122.35,180.28 L128.10,180.94 L133.85,180.61 L139.60,182.45 L145.35,178.91 L151.10,178.18 L156.85,173.40 L162.60,177.07 L168.35,178.91 L174.10,178.91 L179.85,174.12 L185.60,175.17 L191.35,174.71 L197.10,175.17 L202.85,177.92 L208.60,174.71" fill="none" stroke="#dcb4dc" stroke-width="0.7"/>
<circle cx="59.10" cy="209.87" r="1.35" fill="#000000"/>
<circle cx="64.85" cy="211.18" r="1.35" fill="#000000"/>
<circle cx="70.60" cy="212.10" r="1.35" fill="#000000"/>
<circle cx="76.35" cy="212.10" r="1.35" fill="#000000"/>
<circle cx="82.10" cy="211.64" r="1.35" fill="#000000"/>
<circle cx="87.85" cy="211.18" r="1.35" fill="#000000"/>
<circle cx="93.60" cy="211.64" r="1.35" fill="#000000"/>
<circle cx="99.35" cy="211.97" r="1.35" fill="#000000"/>
<circle cx="105.10" cy="212.30" r="1.35" fill="#000000"/>
<circle cx="110.85" cy="212.49" r="1.35" fill="#000000"/>
<circle cx="116.60" cy="212.49" r="1.35" fill="#000000"/>
<circle cx="122.35" cy="212.95" r="1.35" fill="#000000"/>
<circle cx="128.10" cy="213.61" r="1.35" fill="#000000"/>
<circle cx="133.85" cy="214.00" r="1.35" fill="#000000"/>
<circle cx="139.60" cy="214.26" r="1.35" fill="#000000"/>
<circle cx="145.35" cy="214.79" r="1.35" fill="#000000"/>
<circle cx="151.10" cy="215.25" r="1.35" fill="#000000"/>
<circle cx="156.85" cy="215.71" r="1.35" fill="#000000"/>
<circle cx="162.60" cy="216.63" r="1.35" fill="#000000"/>
<circle cx="168.35" cy="217.54" r="1.35" fill="#000000"/>
<circle cx="174.10" cy="217.68" r="1.35" fill="#000000"/>
<circle cx="179.85" cy="218.20" r="1.35" fill="#000000"/>
<circle cx="185.60" cy="217.41" r="1.35" fill="#000000"/>
<circle cx="191.35" cy="216.82" r="1.35" fill="#000000"/>
<circle cx="197.10" cy="216.30" r="1.35" fill="#000000"/>
<circle cx="202.85" cy="215.97" r="1.35" fill="#000000"/>
<circle cx="208.60" cy="212.95" r="1.35" fill="#000000"/>
<circle cx="59.10" cy="172.28" r="1.35" fill="#008000"/>
<circle cx="64.85" cy="174.90" r="1.35" fill="#008000"/>
<circle cx="70.60" cy="175.04" r="1.35" fill="#008000"/>
<circle cx="76.35" cy="174.71" r="1.35" fill="#008000"/>
<circle cx="82.10" cy="173.59" r="1.35" fill="#008000"/>
<circle cx="87.85" cy="173.26" r="1.35" fill="#008000"/>
<circle cx="93.60" cy="171.43" r="1.35" fill="#008000"/>
<circle cx="99.35" cy="170.44" r="1.35" fill="#008000"/>
<circle cx="105.10" cy="170.97" r="1.35" fill="#008000"/>
<circle cx="110.85" cy="171.62" r="1.35" fill="#008000"/>
<circle cx="116.60" cy="173.59" r="1.35" fill="#008000"/>
<circle cx="122.35" cy="175.95" r="1.35" fill="#008000"/>
<circle cx="128.10" cy="178.38" r="1.35" fill="#008000"/>
<circle cx="133.85" cy="178.38" r="1.35" fill="#008000"/>
<circle cx="139.60" cy="178.84" r="1.35" fill="#008000"/>
<circle cx="145.35" cy="180.15" r="1.35" fill="#008000"/>
<circle cx="151.10" cy="181.46" r="1.35" fill="#008000"/>
<circle cx="156.85" cy="182.58" r="1.35" fill="#008000"/>
<circle cx="162.60" cy="182.58" r="1.35" fill="#008000"/>
<circle cx="168.35" cy="182.38" r="1.35" fill="#008000"/>
<circle cx="174.10" cy="182.58" r="1.35" fill="#008000"/>
<circle cx="179.85" cy="182.12" r="1.35" fill="#008000"/>
<circle cx="185.60" cy="183.76" r="1.35" fill="#008000"/>
<circle cx="191.35" cy="182.91" r="1.35" fill="#008000"/>
<circle cx="197.10" cy="182.32" r="1.35" fill="#008000"/>
<circle cx="202.85" cy="179.63" r="1.35" fill="#008000"/>
<circle cx="208.60" cy="176.28" r="1.35" fill="#008000"/>
<polygon points="59.10,184.54 57.53,187.18 60.67,187.18" fill="#0000ff"/>
<polygon points="64.85,186.37 63.28,189.01 66.42,189.01" fill="#0000ff"/>
<polygon points="70.60,187.29 69.03,189.93 72.17,189.93" fill="#0000ff"/>
<polygon points="76.35,187.29 74.78,189.93 77.92,189.93" fill="#0000ff"/>
<polygon points="82.10,187.03 80.53,189.67 83.67,189.67" fill="#0000ff"/>
<polygon points="87.85,187.03 86.28,189.67 89.42,189.67" fill="#0000ff"/>
<polygon points="93.60,185.98 92.03,188.62 95.17,188.62" fill="#0000ff"/>
<polygon points="99.35,185.98 97.78,188.62 100.92,188.62" fill="#0000ff"/>
<polygon points="105.10,186.77 103.53,189.41 106.67,189.41" fill="#0000ff"/>
<polygon points="110.85,187.29 109.28,189.93 112.42,189.93" fill="#0000ff"/>
<polygon points="116.60,189.65 115.03,192.29 118.17,192.29" fill="#0000ff"/>
<polygon points="122.35,191.62 120.78,194.26 123.92,194.26" fill="#0000ff"/>
<polygon points="128.10,192.28 126.53,194.92 129.67,194.92" fill="#0000ff"/>
<polygon points="133.85,193.85 132.28,196.49 135.42,196.49" fill="#0000ff"/>
<polygon points="139.60,194.25 138.03,196.89 141.17,196.89" fill="#0000ff"/>
<polygon points="145.35,196.54 143.78,199.18 146.92,199.18" fill="#0000ff"/>
<polygon points="151.10,197.53 149.53,200.17 152.67,200.17" fill="#0000ff"/>
<polygon points="156.85,200.22 155.28,202.86 158.42,202.86" fill="#0000ff"/>
<polygon points="162.60,200.22 161.03,202.86 164.17,202.86" fill="#0000ff"/>
<polygon points="168.35,200.81 166.78,203.45 169.92,203.45" fill="#0000ff"/>
<polygon points="174.10,202.05 172.53,204.69 175.67,204.69" fill="#0000ff"/>
<polygon points="179.85,203.04 178.28,205.68 181.42,205.68" fill="#0000ff"/>
<polygon points="185.60,201.92 184.03,204.56 187.17,204.56" fill="#0000ff"/>
<polygon points="191.35,201.13 189.78,203.77 192.92,203.77" fill="#0000ff"/>
<polygon points="197.10,198.18 195.53,200.82 198.67,200.82" fill="#0000ff"/>
<polygon points="202.85,194.31 201.28,196.95 204.42,196.95" fill="#0000ff"/>
<polygon points="208.60,188.87 207.03,191.51 210.17,191.51" fill="#0000ff"/>
<polygon points="60.75,176.87 58.11,175.30 58.11,178.44" fill="#8a00ff"/>
<polygon points="66.50,179.69 63.86,178.13 63.86,181.26" fill="#8a00ff"/>
<polygon points="72.25,181.60 69.61,180.03 69.61,183.16" fill="#8a00ff"/>
<polygon points="78.00,181.60 75.36,180.03 75.36,183.16" fill="#8a00ff"/>
<polygon points="83.75,182.12 81.11,180.55 81.11,183.69" fill="#8a00ff"/>
<polygon points="89.50,181.60 86.86,180.03 86.86,183.16" fill="#8a00ff"/>
<polygon points="95.25,180.61 92.61,179.04 92.61,182.18" fill="#8a00ff"/>
<polygon points="101.00,178.77 98.36,177.21 98.36,180.34" fill="#8a00ff"/>
<polygon points="106.75,176.87 104.11,175.30 104.11,178.44" fill="#8a00ff"/>
<polygon points="112.50,177.86 109.86,176.29 109.86,179.42" fill="#8a00ff"/>
<polygon points="118.25,179.69 115.61,178.13 115.61,181.26" fill="#8a00ff"/>
<polygon points="124.00,180.94 121.36,179.37 121.36,182.51" fill="#8a00ff"/>
<polygon points="129.75,182.51 127.11,180.95 127.11,184.08" fill="#8a00ff"/>
<polygon points="135.50,181.60 132.86,180.03 132.86,183.16" fill="#8a00ff"/>
<polygon points="141.25,178.91 138.61,177.34 138.61,180.47" fill="#8a00ff"/>
<polygon points="147.00,177.07 144.36,175.50 144.36,178.64" fill="#8a00ff"/>
<polygon points="152.75,176.54 150.11,174.98 150.11,178.11" fill="#8a00ff"/>
<polygon points="158.50,177.07 155.86,175.50 155.86,178.64" fill="#8a00ff"/>
<polygon points="164.25,178.91 161.61,177.34 161.61,180.47" fill="#8a00ff"/>
<polygon points="170.00,180.15 167.36,178.58 167.36,181.72" fill="#8a00ff"/>
<polygon points="175.75,179.50 173.11,177.93 173.11,181.06" fill="#8a00ff"/>
<polygon points="181.50,178.18 178.86,176.62 178.86,179.75" fill="#8a00ff"/>
<polygon points="187.25,179.23 184.61,177.67 184.61,180.80" fill="#8a00ff"/>
<polygon points="193.00,180.09 190.36,178.52 190.36,181.65" fill="#8a00ff"/>
<polygon points="198.75,179.23 196.11,177.67 196.11,180.80" fill="#8a00ff"/>
<polygon points="204.50,177.92 201.86,176.35 201.86,179.49" fill="#8a00ff"/>
<polygon points="210.25,177.92 207.61,176.35 207.61,179.49" fill="#8a00ff"/>
<circle cx="59.10" cy="200.62" r="1.35" fill="#ff0000"/>
<circle cx="64.85" cy="207.44" r="1.35" fill="#ff0000"/>
<circle cx="70.60" cy="208.75" r="1.35" fill="#ff0000"/>
<circle cx="76.35" cy="209.34" r="1.35" fill="#ff0000"/>
<circle cx="82.10" cy="209.87" r="1.35" fill="#ff0000"/>
<circle cx="87.85" cy="210.26" r="1.35" fill="#ff0000"/>
<circle cx="93.60" cy="211.18" r="1.35" fill="#ff0000"/>
<circle cx="99.35" cy="211.64" r="1.35" fill="#ff0000"/>
<circle cx="105.10" cy="212.10" r="1.35" fill="#ff0000"/>
<circle cx="110.85" cy="212.49" r="1.35" fill="#ff0000"/>
<circle cx="116.60" cy="212.49" r="1.35" fill="#ff0000"/>
<circle cx="122.35" cy="212.95" r="1.35" fill="#ff0000"/>
<circle cx="128.10" cy="213.61" r="1.35" fill="#ff0000"/>
<circle cx="133.85" cy="214.00" r="1.35" fill="#ff0000"/>
<circle cx="139.60" cy="214.26" r="1.35" fill="#ff0000"/>
<circle cx="145.35" cy="214.79" r="1.35" fill="#ff0000"/>
<circle cx="151.10" cy="215.25" r="1.35" fill="#ff0000"/>
<circle cx="156.85" cy="215.71" r="1.35" fill="#ff0000"/>
<circle cx="162.60" cy="216.63" r="1.35" fill="#ff0000"/>
<circle cx="168.35" cy="217.54" r="1.35" fill="#ff0000"/>
<circle cx="174.10" cy="217.68" r="1.35" fill="#ff0000"/>
<circle cx="179.85" cy="218.20" r="1.35" fill="#ff0000"/>
<circle cx="185.60" cy="217.08" r="1.35" fill="#ff0000"/>
<circle cx="191.35" cy="214.00" r="1.35" fill="#ff0000"/>
<circle cx="197.10" cy="210.92" r="1.35" fill="#ff0000"/>
<circle cx="202.85" cy="206.92" r="1.35" fill="#ff0000"/>
<circle cx="208.60" cy="199.83" r="1.35" fill="#ff0000"/>
<polygon points="57.45,166.18 60.09,164.61 60.09,167.75" fill="#000080"/>
<polygon points="63.20,174.71 65.84,173.14 65.84,176.27" fill="#000080"/>
<polygon points="68.95,175.04 71.59,173.47 71.59,176.60" fill="#000080"/>
<polygon points="74.70,174.90 77.34,173.34 77.34,176.47" fill="#000080"/>
<polygon points="80.45,174.58 83.09,173.01 83.09,176.14" fill="#000080"/>
<polygon points="86.20,173.26 88.84,171.70 88.84,174.83" fill="#000080"/>
<polygon points="91.95,169.92 94.59,168.35 94.59,171.49" fill="#000080"/>
<polygon points="97.70,168.61 100.34,167.04 100.34,170.17" fill="#000080"/>
<polygon points="103.45,169.52 106.09,167.96 106.09,171.09" fill="#000080"/>
<polygon points="109.20,171.43 111.84,169.86 111.84,172.99" fill="#000080"/>
<polygon points="114.95,178.77 117.59,177.21 117.59,180.34" fill="#000080"/>
<polygon points="120.70,181.60 123.34,180.03 123.34,183.16" fill="#000080"/>
<polygon points="126.45,183.96 129.09,182.39 129.09,185.52" fill="#000080"/>
<polygon points="132.20,183.43 134.84,181.86 134.84,185.00" fill="#000080"/>
<polygon points="137.95,183.43 140.59,181.86 140.59,185.00" fill="#000080"/>
<polygon points="143.70,182.12 146.34,180.55 146.34,183.69" fill="#000080"/>
<polygon points="149.45,181.46 152.09,179.90 152.09,183.03" fill="#000080"/>
<polygon points="155.20,181.46 157.84,179.90 157.84,183.03" fill="#000080"/>
<polygon points="160.95,181.46 163.59,179.90 163.59,183.03" fill="#000080"/>
<polygon points="166.70,182.58 169.34,181.01 169.34,184.15" fill="#000080"/>
<polygon points="172.45,183.43 175.09,181.86 175.09,185.00" fill="#000080"/>
<polygon points="178.20,183.43 180.84,181.86 180.84,185.00" fill="#000080"/>
<polygon points="183.95,184.28 186.59,182.72 186.59,185.85" fill="#000080"/>
<polygon points="189.70,182.12 192.34,180.55 192.34,183.69" fill="#000080"/>
<polygon points="195.45,178.84 198.09,177.27 198.09,180.41" fill="#000080"/>
<polygon points="201.20,174.71 203.84,173.14 203.84,176.27" fill="#000080"/>
<polygon points="206.95,169.66 209.59,168.09 209.59,171.22" fill="#000080"/>
<polygon points="59.10,188.17 57.53,185.53 60.67,185.53" fill="#ff00ff"/>
<polygon points="64.85,190.07 63.28,187.43 66.42,187.43" fill="#ff00ff"/>
<polygon points="70.60,191.18 69.03,188.54 72.17,188.54" fill="#ff00ff"/>
<polygon points="76.35,190.59 74.78,187.95 77.92,187.95" fill="#ff00ff"/>
<polygon points="82.10,190.33 80.53,187.69 83.67,187.69" fill="#ff00ff"/>
<polygon points="87.85,190.33 86.28,187.69 89.42,187.69" fill="#ff00ff"/>
<polygon points="93.60,189.67 92.03,187.03 95.17,187.03" fill="#ff00ff"/>
<polygon points="99.35,190.07 97.78,187.43 100.92,187.43" fill="#ff00ff"/>
<polygon points="105.10,190.07 103.53,187.43 106.67,187.43" fill="#ff00ff"/>
<polygon points="110.85,191.18 109.28,188.54 112.42,188.54" fill="#ff00ff"/>
<polygon points="116.60,192.95 115.03,190.31 118.17,190.31" fill="#ff00ff"/>
<polygon points="122.35,194.27 120.78,191.63 123.92,191.63" fill="#ff00ff"/>
<polygon points="128.10,200.83 126.53,198.19 129.67,198.19" fill="#ff00ff"/>
<polygon points="133.85,201.61 132.28,198.97 135.42,198.97" fill="#ff00ff"/>
<polygon points="139.60,204.04 138.03,201.40 141.17,201.40" fill="#ff00ff"/>
<polygon points="145.35,206.34 143.78,203.70 146.92,203.70" fill="#ff00ff"/>
<polygon points="151.10,207.39 149.53,204.75 152.67,204.75" fill="#ff00ff"/>
<polygon points="156.85,208.57 155.28,205.93 158.42,205.93" fill="#ff00ff"/>
<polygon points="162.60,209.03 161.03,206.39 164.17,206.39" fill="#ff00ff"/>
<polygon points="168.35,210.01 166.78,207.37 169.92,207.37" fill="#ff00ff"/>
<polygon points="174.10,212.17 172.53,209.53 175.67,209.53" fill="#ff00ff"/>
<polygon points="179.85,209.68 178.28,207.04 181.42,207.04" fill="#ff00ff"/>
<polygon points="185.60,205.75 184.03,203.11 187.17,203.11" fill="#ff00ff"/>
<polygon points="191.35,199.45 189.78,196.81 192.92,196.81" fill="#ff00ff"/>
<polygon points="197.10,197.61 195.53,194.97 198.67,194.97" fill="#ff00ff"/>
<polygon points="202.85,195.45 201.28,192.81 204.42,192.81" fill="#ff00ff"/>
<polygon points="208.60,189.94 207.03,187.30 210.17,187.30" fill="#ff00ff"/>
<circle cx="59.10" cy="171.69" r="1.35" fill="#800080"/>
<circle cx="64.85" cy="175.04" r="1.35" fill="#800080"/>
<circle cx="70.60" cy="176.87" r="1.35" fill="#800080"/>
<circle cx="76.35" cy="178.38" r="1.35" fill="#800080"/>
<circle cx="82.10" cy="177.86" r="1.35" fill="#800080"/>
<circle cx="87.85" cy="175.04" r="1.35" fill="#800080"/>
<circle cx="93.60" cy="176.54" r="1.35" fill="#800080"/>
<circle cx="99.35" cy="178.77" r="1.35" fill="#800080"/>
<circle cx="105.10" cy="177.86" r="1.35" fill="#800080"/>
<circle cx="110.85" cy="177.86" r="1.35" fill="#800080"/>
<circle cx="116.60" cy="179.17" r="1.35" fill="#800080"/>
<circle cx="122.35" cy="180.28" r="1.35" fill="#800080"/>
<circle cx="128.10" cy="180.94" r="1.35" fill="#800080"/>
<circle cx="133.85" cy="180.61" r="1.35" fill="#800080"/>
<circle cx="139.60" cy="182.45" r="1.35" fill="#800080"/>
<circle cx="145.35" cy="178.91" r="1.35" fill="#800080"/>
<circle cx="151.10" cy="178.18" r="1.35" fill="#800080"/>
<circle cx="156.85" cy="173.40" r="1.35" fill="#800080"/>
<circle cx="162.60" cy="177.07" r="1.35" fill="#800080"/>
<circle cx="168.35" cy="178.91" r="1.35" fill="#800080"/>
<circle cx="174.10" cy="178.91" r="1.35" fill="#800080"/>
<circle cx="179.85" cy="174.12" r="1.35" fill="#800080"/>
<circle cx="185.60" cy="175.17" r="1.35" fill="#800080"/>
<circle cx="191.35" cy="174.71" r="1.35" fill="#800080"/>
<circle cx="197.10" cy="175.17" r="1.35" fill="#800080"/>
<circle cx="202.85" cy="177.92" r="1.35" fill="#800080"/>
<circle cx="208.60" cy="174.71" r="1.35" fill="#800080"/>
<line x1="76.35" y1="234.60" x2="76.35" y2="232.60" stroke="#9a9a9a" stroke-width="0.9"/>
<text x="0" y="0" class="t" text-anchor="middle" transform="translate(76.35,245.60) scale(1,1.1)">-50</text>
<line x1="105.10" y1="234.60" x2="105.10" y2="232.60" stroke="#9a9a9a" stroke-width="0.9"/>
<text x="0" y="0" class="t" text-anchor="middle" transform="translate(105.10,245.60) scale(1,1.1)">-25</text>
<line x1="133.85" y1="234.60" x2="133.85" y2="232.60" stroke="#9a9a9a" stroke-width="0.9"/>
<text x="0" y="0" class="t" text-anchor="middle" transform="translate(133.85,245.60) scale(1,1.1)">0</text>
<line x1="162.60" y1="234.60" x2="162.60" y2="232.60" stroke="#9a9a9a" stroke-width="0.9"/>
<text x="0" y="0" class="t" text-anchor="middle" transform="translate(162.60,245.60) scale(1,1.1)">25</text>
<line x1="191.35" y1="234.60" x2="191.35" y2="232.60" stroke="#9a9a9a" stroke-width="0.9"/>
<text x="0" y="0" class="t" text-anchor="middle" transform="translate(191.35,245.60) scale(1,1.1)">50</text>
<line x1="61.97" y1="234.60" x2="61.97" y2="233.40" stroke="#9a9a9a" stroke-width="0.8"/>
<line x1="90.72" y1="234.60" x2="90.72" y2="233.40" stroke="#9a9a9a" stroke-width="0.8"/>
<line x1="119.47" y1="234.60" x2="119.47" y2="233.40" stroke="#9a9a9a" stroke-width="0.8"/>
<line x1="148.22" y1="234.60" x2="148.22" y2="233.40" stroke="#9a9a9a" stroke-width="0.8"/>
<line x1="176.97" y1="234.60" x2="176.97" y2="233.40" stroke="#9a9a9a" stroke-width="0.8"/>
<line x1="205.72" y1="234.60" x2="205.72" y2="233.40" stroke="#9a9a9a" stroke-width="0.8"/>
<line x1="59.10" y1="234.60" x2="61.10" y2="234.60" stroke="#9a9a9a" stroke-width="0.9"/>
<text x="0" y="0" class="t" text-anchor="end" transform="translate(56.50,238.00) scale(1,1.1)">0.10</text>
<line x1="59.10" y1="201.80" x2="61.10" y2="201.80" stroke="#9a9a9a" stroke-width="0.9"/>
<text x="0" y="0" class="t" text-anchor="end" transform="translate(56.50,205.20) scale(1,1.1)">0.15</text>
<line x1="59.10" y1="169.00" x2="61.10" y2="169.00" stroke="#9a9a9a" stroke-width="0.9"/>
<text x="0" y="0" class="t" text-anchor="end" transform="translate(56.50,172.40) scale(1,1.1)">0.20</text>
<line x1="59.10" y1="136.20" x2="61.10" y2="136.20" stroke="#9a9a9a" stroke-width="0.9"/>
<text x="0" y="0" class="t" text-anchor="end" transform="translate(56.50,139.60) scale(1,1.1)">0.25</text>
<line x1="59.10" y1="218.20" x2="60.30" y2="218.20" stroke="#9a9a9a" stroke-width="0.8"/>
<line x1="59.10" y1="185.40" x2="60.30" y2="185.40" stroke="#9a9a9a" stroke-width="0.8"/>
<line x1="59.10" y1="152.60" x2="60.30" y2="152.60" stroke="#9a9a9a" stroke-width="0.8"/>
<line x1="59.10" y1="136.20" x2="60.30" y2="136.20" stroke="#9a9a9a" stroke-width="0.8"/>
<text x="3.60" y="144.80" class="pl">(c)</text>
<text x="0" y="0" class="al" text-anchor="middle" transform="translate(32.20,190.50) rotate(-90)">Reflectance</text>
<text x="0" y="0" class="al" text-anchor="middle" transform="translate(132.00,258.30) scale(1,1.1)">VZA (&#176;)</text>
<line x1="279.50" y1="234.30" x2="426.40" y2="234.30" stroke="#8a8a8a" stroke-width="1.1"/>
<line x1="279.50" y1="234.80" x2="279.50" y2="135.10" stroke="#b2b2b2" stroke-width="1.4"/>
<path d="M279.50,226.79 L285.15,227.21 L290.80,227.64 L296.45,228.06 L302.10,228.35 L307.75,228.63 L313.40,228.91 L319.05,229.20 L324.70,229.34 L330.35,229.48 L336.00,229.62 L341.65,229.77 L347.30,229.91 L352.95,230.05 L358.60,230.05 L364.25,230.05 L369.90,230.05 L375.55,230.05 L381.20,230.05 L386.85,230.05 L392.50,229.68 L398.15,229.31 L403.80,229.11 L409.45,228.91 L415.10,228.16 L420.75,227.41 L426.40,226.36" fill="none" stroke="#c4c4c4" stroke-width="0.7"/>
<path d="M279.50,165.57 L285.15,167.13 L290.80,167.98 L296.45,169.76 L302.10,170.25 L307.75,172.57 L313.40,174.07 L319.05,175.35 L324.70,176.57 L330.35,178.07 L336.00,179.60 L341.65,180.45 L347.30,181.19 L352.95,182.29 L358.60,182.72 L364.25,181.78 L369.90,180.28 L375.55,179.03 L381.20,178.07 L386.85,177.61 L392.50,175.35 L398.15,174.21 L403.80,173.08 L409.45,170.67 L415.10,169.11 L420.75,167.41 L426.40,165.57" fill="none" stroke="#b0dcb0" stroke-width="0.7"/>
<path d="M279.50,193.20 L285.15,195.58 L290.80,197.45 L296.45,199.78 L302.10,201.08 L307.75,203.49 L313.40,204.82 L319.05,206.10 L324.70,207.88 L330.35,208.99 L336.00,209.39 L341.65,210.29 L347.30,210.29 L352.95,209.70 L358.60,210.29 L364.25,210.29 L369.90,210.29 L375.55,209.39 L381.20,208.39 L386.85,207.49 L392.50,206.58 L398.15,204.82 L403.80,201.59 L409.45,199.78 L415.10,198.30 L420.75,195.58 L426.40,193.20" fill="none" stroke="#b8b8ff" stroke-width="0.7"/>
<path d="M279.50,155.90 L285.15,157.21 L290.80,158.34 L296.45,159.02 L302.10,160.89 L307.75,163.33 L313.40,164.29 L319.05,165.14 L324.70,166.42 L330.35,166.93 L336.00,168.83 L341.65,170.61 L347.30,172.51 L352.95,173.08 L358.60,169.68 L364.25,168.26 L369.90,166.93 L375.55,165.71 L381.20,164.63 L386.85,163.81 L392.50,163.33 L398.15,162.03 L403.80,160.13 L409.45,159.02 L415.10,158.34 L420.75,156.81 L426.40,155.90" fill="none" stroke="#d8b8ff" stroke-width="0.7"/>
<path d="M279.50,226.79 L285.15,227.21 L290.80,227.64 L296.45,228.06 L302.10,228.35 L307.75,228.63 L313.40,228.91 L319.05,229.20 L324.70,229.34 L330.35,229.48 L336.00,229.62 L341.65,229.77 L347.30,229.91 L352.95,230.05 L358.60,230.05 L364.25,230.05 L369.90,230.05 L375.55,230.05 L381.20,230.05 L386.85,230.05 L392.50,229.68 L398.15,229.31 L403.80,229.11 L409.45,228.91 L415.10,228.16 L420.75,227.41 L426.40,226.36" fill="none" stroke="#ffb8b8" stroke-width="0.7"/>
<path d="M279.50,159.76 L285.15,163.44 L290.80,165.14 L296.45,168.83 L302.10,170.25 L307.75,172.57 L313.40,174.07 L319.05,175.35 L324.70,176.57 L330.35,178.07 L336.00,179.60 L341.65,180.45 L347.30,181.19 L352.95,182.29 L358.60,182.72 L364.25,181.78 L369.90,180.28 L375.55,179.03 L381.20,174.38 L386.85,173.93 L392.50,172.23 L398.15,171.38 L403.80,169.76 L409.45,168.83 L415.10,168.26 L420.75,166.08 L426.40,163.44" fill="none" stroke="#b8b8e0" stroke-width="0.7"/>
<path d="M279.50,193.20 L285.15,195.58 L290.80,197.45 L296.45,199.78 L302.10,201.08 L307.75,203.49 L313.40,204.82 L319.05,206.10 L324.70,207.88 L330.35,208.99 L336.00,209.39 L341.65,210.29 L347.30,210.29 L352.95,209.70 L358.60,210.29 L364.25,210.29 L369.90,210.29 L375.55,209.39 L381.20,208.39 L386.85,207.49 L392.50,203.97 L398.15,203.69 L403.80,201.59 L409.45,199.78 L415.10,198.30 L420.75,195.58 L426.40,193.20" fill="none" stroke="#ffb8ff" stroke-width="0.7"/>
<path d="M279.50,155.05 L285.15,156.36 L290.80,157.49 L296.45,158.17 L302.10,160.04 L307.75,162.48 L313.40,163.44 L319.05,164.29 L324.70,165.57 L330.35,166.08 L336.00,167.98 L341.65,169.76 L347.30,171.66 L352.95,172.23 L358.60,168.83 L364.25,167.41 L369.90,166.08 L375.55,164.86 L381.20,163.78 L386.85,162.96 L392.50,162.48 L398.15,161.18 L403.80,159.28 L409.45,158.17 L415.10,157.49 L420.75,155.96 L426.40,155.05" fill="none" stroke="#dcb4dc" stroke-width="0.7"/>
<circle cx="279.50" cy="226.79" r="1.35" fill="#000000"/>
<circle cx="285.15" cy="227.21" r="1.35" fill="#000000"/>
<circle cx="290.80" cy="227.64" r="1.35" fill="#000000"/>
<circle cx="296.45" cy="228.06" r="1.35" fill="#000000"/>
<circle cx="302.10" cy="228.35" r="1.35" fill="#000000"/>
<circle cx="307.75" cy="228.63" r="1.35" fill="#000000"/>
<circle cx="313.40" cy="228.91" r="1.35" fill="#000000"/>
<circle cx="319.05" cy="229.20" r="1.35" fill="#000000"/>
<circle cx="324.70" cy="229.34" r="1.35" fill="#000000"/>
<circle cx="330.35" cy="229.48" r="1.35" fill="#000000"/>
<circle cx="336.00" cy="229.62" r="1.35" fill="#000000"/>
<circle cx="341.65" cy="229.77" r="1.35" fill="#000000"/>
<circle cx="347.30" cy="229.91" r="1.35" fill="#000000"/>
<circle cx="352.95" cy="230.05" r="1.35" fill="#000000"/>
<circle cx="358.60" cy="230.05" r="1.35" fill="#000000"/>
<circle cx="364.25" cy="230.05" r="1.35" fill="#000000"/>
<circle cx="369.90" cy="230.05" r="1.35" fill="#000000"/>
<circle cx="375.55" cy="230.05" r="1.35" fill="#000000"/>
<circle cx="381.20" cy="230.05" r="1.35" fill="#000000"/>
<circle cx="386.85" cy="230.05" r="1.35" fill="#000000"/>
<circle cx="392.50" cy="229.68" r="1.35" fill="#000000"/>
<circle cx="398.15" cy="229.31" r="1.35" fill="#000000"/>
<circle cx="403.80" cy="229.11" r="1.35" fill="#000000"/>
<circle cx="409.45" cy="228.91" r="1.35" fill="#000000"/>
<circle cx="415.10" cy="228.16" r="1.35" fill="#000000"/>
<circle cx="420.75" cy="227.41" r="1.35" fill="#000000"/>
<circle cx="426.40" cy="226.36" r="1.35" fill="#000000"/>
<circle cx="279.50" cy="165.57" r="1.35" fill="#008000"/>
<circle cx="285.15" cy="167.13" r="1.35" fill="#008000"/>
<circle cx="290.80" cy="167.98" r="1.35" fill="#008000"/>
<circle cx="296.45" cy="169.76" r="1.35" fill="#008000"/>
<circle cx="302.10" cy="170.25" r="1.35" fill="#008000"/>
<circle cx="307.75" cy="172.57" r="1.35" fill="#008000"/>
<circle cx="313.40" cy="174.07" r="1.35" fill="#008000"/>
<circle cx="319.05" cy="175.35" r="1.35" fill="#008000"/>
<circle cx="324.70" cy="176.57" r="1.35" fill="#008000"/>
<circle cx="330.35" cy="178.07" r="1.35" fill="#008000"/>
<circle cx="336.00" cy="179.60" r="1.35" fill="#008000"/>
<circle cx="341.65" cy="180.45" r="1.35" fill="#008000"/>
<circle cx="347.30" cy="181.19" r="1.35" fill="#008000"/>
<circle cx="352.95" cy="182.29" r="1.35" fill="#008000"/>
<circle cx="358.60" cy="182.72" r="1.35" fill="#008000"/>
<circle cx="364.25" cy="181.78" r="1.35" fill="#008000"/>
<circle cx="369.90" cy="180.28" r="1.35" fill="#008000"/>
<circle cx="375.55" cy="179.03" r="1.35" fill="#008000"/>
<circle cx="381.20" cy="178.07" r="1.35" fill="#008000"/>
<circle cx="386.85" cy="177.61" r="1.35" fill="#008000"/>
<circle cx="392.50" cy="175.35" r="1.35" fill="#008000"/>
<circle cx="398.15" cy="174.21" r="1.35" fill="#008000"/>
<circle cx="403.80" cy="173.08" r="1.35" fill="#008000"/>
<circle cx="409.45" cy="170.67" r="1.35" fill="#008000"/>
<circle cx="415.10" cy="169.11" r="1.35" fill="#008000"/>
<circle cx="420.75" cy="167.41" r="1.35" fill="#008000"/>
<circle cx="426.40" cy="165.57" r="1.35" fill="#008000"/>
<polygon points="279.50,191.55 277.93,194.19 281.07,194.19" fill="#0000ff"/>
<polygon points="285.15,193.93 283.58,196.57 286.72,196.57" fill="#0000ff"/>
<polygon points="290.80,195.80 289.23,198.44 292.37,198.44" fill="#0000ff"/>
<polygon points="296.45,198.13 294.88,200.77 298.02,200.77" fill="#0000ff"/>
<polygon points="302.10,199.43 300.53,202.07 303.67,202.07" fill="#0000ff"/>
<polygon points="307.75,201.84 306.18,204.48 309.32,204.48" fill="#0000ff"/>
<polygon points="313.40,203.17 311.83,205.81 314.97,205.81" fill="#0000ff"/>
<polygon points="319.05,204.45 317.48,207.09 320.62,207.09" fill="#0000ff"/>
<polygon points="324.70,206.23 323.13,208.87 326.27,208.87" fill="#0000ff"/>
<polygon points="330.35,207.34 328.78,209.98 331.92,209.98" fill="#0000ff"/>
<polygon points="336.00,207.74 334.43,210.38 337.57,210.38" fill="#0000ff"/>
<polygon points="341.65,208.64 340.08,211.28 343.22,211.28" fill="#0000ff"/>
<polygon points="347.30,208.64 345.73,211.28 348.87,211.28" fill="#0000ff"/>
<polygon points="352.95,208.05 351.38,210.69 354.52,210.69" fill="#0000ff"/>
<polygon points="358.60,208.64 357.03,211.28 360.17,211.28" fill="#0000ff"/>
<polygon points="364.25,208.64 362.68,211.28 365.82,211.28" fill="#0000ff"/>
<polygon points="369.90,208.64 368.33,211.28 371.47,211.28" fill="#0000ff"/>
<polygon points="375.55,207.74 373.98,210.38 377.12,210.38" fill="#0000ff"/>
<polygon points="381.20,206.74 379.63,209.38 382.77,209.38" fill="#0000ff"/>
<polygon points="386.85,205.84 385.28,208.48 388.42,208.48" fill="#0000ff"/>
<polygon points="392.50,204.93 390.93,207.57 394.07,207.57" fill="#0000ff"/>
<polygon points="398.15,203.17 396.58,205.81 399.72,205.81" fill="#0000ff"/>
<polygon points="403.80,199.94 402.23,202.58 405.37,202.58" fill="#0000ff"/>
<polygon points="409.45,198.13 407.88,200.77 411.02,200.77" fill="#0000ff"/>
<polygon points="415.10,196.65 413.53,199.29 416.67,199.29" fill="#0000ff"/>
<polygon points="420.75,193.93 419.18,196.57 422.32,196.57" fill="#0000ff"/>
<polygon points="426.40,191.55 424.83,194.19 427.97,194.19" fill="#0000ff"/>
<polygon points="281.15,155.90 278.51,154.34 278.51,157.47" fill="#8a00ff"/>
<polygon points="286.80,157.21 284.16,155.64 284.16,158.77" fill="#8a00ff"/>
<polygon points="292.45,158.34 289.81,156.77 289.81,159.91" fill="#8a00ff"/>
<polygon points="298.10,159.02 295.46,157.45 295.46,160.59" fill="#8a00ff"/>
<polygon points="303.75,160.89 301.11,159.32 301.11,162.46" fill="#8a00ff"/>
<polygon points="309.40,163.33 306.76,161.76 306.76,164.90" fill="#8a00ff"/>
<polygon points="315.05,164.29 312.41,162.73 312.41,165.86" fill="#8a00ff"/>
<polygon points="320.70,165.14 318.06,163.58 318.06,166.71" fill="#8a00ff"/>
<polygon points="326.35,166.42 323.71,164.85 323.71,167.99" fill="#8a00ff"/>
<polygon points="332.00,166.93 329.36,165.36 329.36,168.50" fill="#8a00ff"/>
<polygon points="337.65,168.83 335.01,167.26 335.01,170.40" fill="#8a00ff"/>
<polygon points="343.30,170.61 340.66,169.05 340.66,172.18" fill="#8a00ff"/>
<polygon points="348.95,172.51 346.31,170.95 346.31,174.08" fill="#8a00ff"/>
<polygon points="354.60,173.08 351.96,171.51 351.96,174.65" fill="#8a00ff"/>
<polygon points="360.25,169.68 357.61,168.11 357.61,171.25" fill="#8a00ff"/>
<polygon points="365.90,168.26 363.26,166.69 363.26,169.83" fill="#8a00ff"/>
<polygon points="371.55,166.93 368.91,165.36 368.91,168.50" fill="#8a00ff"/>
<polygon points="377.20,165.71 374.56,164.14 374.56,167.28" fill="#8a00ff"/>
<polygon points="382.85,164.63 380.21,163.07 380.21,166.20" fill="#8a00ff"/>
<polygon points="388.50,163.81 385.86,162.24 385.86,165.38" fill="#8a00ff"/>
<polygon points="394.15,163.33 391.51,161.76 391.51,164.90" fill="#8a00ff"/>
<polygon points="399.80,162.03 397.16,160.46 397.16,163.59" fill="#8a00ff"/>
<polygon points="405.45,160.13 402.81,158.56 402.81,161.69" fill="#8a00ff"/>
<polygon points="411.10,159.02 408.46,157.45 408.46,160.59" fill="#8a00ff"/>
<polygon points="416.75,158.34 414.11,156.77 414.11,159.91" fill="#8a00ff"/>
<polygon points="422.40,156.81 419.76,155.24 419.76,158.38" fill="#8a00ff"/>
<polygon points="428.05,155.90 425.41,154.34 425.41,157.47" fill="#8a00ff"/>
<circle cx="279.50" cy="226.79" r="1.35" fill="#ff0000"/>
<circle cx="285.15" cy="227.21" r="1.35" fill="#ff0000"/>
<circle cx="290.80" cy="227.64" r="1.35" fill="#ff0000"/>
<circle cx="296.45" cy="228.06" r="1.35" fill="#ff0000"/>
<circle cx="302.10" cy="228.35" r="1.35" fill="#ff0000"/>
<circle cx="307.75" cy="228.63" r="1.35" fill="#ff0000"/>
<circle cx="313.40" cy="228.91" r="1.35" fill="#ff0000"/>
<circle cx="319.05" cy="229.20" r="1.35" fill="#ff0000"/>
<circle cx="324.70" cy="229.34" r="1.35" fill="#ff0000"/>
<circle cx="330.35" cy="229.48" r="1.35" fill="#ff0000"/>
<circle cx="336.00" cy="229.62" r="1.35" fill="#ff0000"/>
<circle cx="341.65" cy="229.77" r="1.35" fill="#ff0000"/>
<circle cx="347.30" cy="229.91" r="1.35" fill="#ff0000"/>
<circle cx="352.95" cy="230.05" r="1.35" fill="#ff0000"/>
<circle cx="358.60" cy="230.05" r="1.35" fill="#ff0000"/>
<circle cx="364.25" cy="230.05" r="1.35" fill="#ff0000"/>
<circle cx="369.90" cy="230.05" r="1.35" fill="#ff0000"/>
<circle cx="375.55" cy="230.05" r="1.35" fill="#ff0000"/>
<circle cx="381.20" cy="230.05" r="1.35" fill="#ff0000"/>
<circle cx="386.85" cy="230.05" r="1.35" fill="#ff0000"/>
<circle cx="392.50" cy="229.68" r="1.35" fill="#ff0000"/>
<circle cx="398.15" cy="229.31" r="1.35" fill="#ff0000"/>
<circle cx="403.80" cy="229.11" r="1.35" fill="#ff0000"/>
<circle cx="409.45" cy="228.91" r="1.35" fill="#ff0000"/>
<circle cx="415.10" cy="228.16" r="1.35" fill="#ff0000"/>
<circle cx="420.75" cy="227.41" r="1.35" fill="#ff0000"/>
<circle cx="426.40" cy="226.36" r="1.35" fill="#ff0000"/>
<polygon points="277.85,159.76 280.49,158.19 280.49,161.33" fill="#000080"/>
<polygon points="283.50,163.44 286.14,161.88 286.14,165.01" fill="#000080"/>
<polygon points="289.15,165.14 291.79,163.58 291.79,166.71" fill="#000080"/>
<polygon points="294.80,168.83 297.44,167.26 297.44,170.40" fill="#000080"/>
<polygon points="300.45,170.25 303.09,168.68 303.09,171.81" fill="#000080"/>
<polygon points="306.10,172.57 308.74,171.00 308.74,174.14" fill="#000080"/>
<polygon points="311.75,174.07 314.39,172.50 314.39,175.64" fill="#000080"/>
<polygon points="317.40,175.35 320.04,173.78 320.04,176.91" fill="#000080"/>
<polygon points="323.05,176.57 325.69,175.00 325.69,178.13" fill="#000080"/>
<polygon points="328.70,178.07 331.34,176.50 331.34,179.64" fill="#000080"/>
<polygon points="334.35,179.60 336.99,178.03 336.99,181.17" fill="#000080"/>
<polygon points="340.00,180.45 342.64,178.88 342.64,182.02" fill="#000080"/>
<polygon points="345.65,181.19 348.29,179.62 348.29,182.75" fill="#000080"/>
<polygon points="351.30,182.29 353.94,180.72 353.94,183.86" fill="#000080"/>
<polygon points="356.95,182.72 359.59,181.15 359.59,184.28" fill="#000080"/>
<polygon points="362.60,181.78 365.24,180.21 365.24,183.35" fill="#000080"/>
<polygon points="368.25,180.28 370.89,178.71 370.89,181.85" fill="#000080"/>
<polygon points="373.90,179.03 376.54,177.46 376.54,180.60" fill="#000080"/>
<polygon points="379.55,174.38 382.19,172.82 382.19,175.95" fill="#000080"/>
<polygon points="385.20,173.93 387.84,172.36 387.84,175.50" fill="#000080"/>
<polygon points="390.85,172.23 393.49,170.66 393.49,173.80" fill="#000080"/>
<polygon points="396.50,171.38 399.14,169.81 399.14,172.95" fill="#000080"/>
<polygon points="402.15,169.76 404.79,168.20 404.79,171.33" fill="#000080"/>
<polygon points="407.80,168.83 410.44,167.26 410.44,170.40" fill="#000080"/>
<polygon points="413.45,168.26 416.09,166.69 416.09,169.83" fill="#000080"/>
<polygon points="419.10,166.08 421.74,164.51 421.74,167.65" fill="#000080"/>
<polygon points="424.75,163.44 427.39,161.88 427.39,165.01" fill="#000080"/>
<polygon points="279.50,194.85 277.93,192.21 281.07,192.21" fill="#ff00ff"/>
<polygon points="285.15,197.23 283.58,194.59 286.72,194.59" fill="#ff00ff"/>
<polygon points="290.80,199.10 289.23,196.46 292.37,196.46" fill="#ff00ff"/>
<polygon points="296.45,201.43 294.88,198.79 298.02,198.79" fill="#ff00ff"/>
<polygon points="302.10,202.73 300.53,200.09 303.67,200.09" fill="#ff00ff"/>
<polygon points="307.75,205.14 306.18,202.50 309.32,202.50" fill="#ff00ff"/>
<polygon points="313.40,206.47 311.83,203.83 314.97,203.83" fill="#ff00ff"/>
<polygon points="319.05,207.75 317.48,205.11 320.62,205.11" fill="#ff00ff"/>
<polygon points="324.70,209.53 323.13,206.89 326.27,206.89" fill="#ff00ff"/>
<polygon points="330.35,210.64 328.78,208.00 331.92,208.00" fill="#ff00ff"/>
<polygon points="336.00,211.04 334.43,208.40 337.57,208.40" fill="#ff00ff"/>
<polygon points="341.65,211.94 340.08,209.30 343.22,209.30" fill="#ff00ff"/>
<polygon points="347.30,211.94 345.73,209.30 348.87,209.30" fill="#ff00ff"/>
<polygon points="352.95,211.35 351.38,208.71 354.52,208.71" fill="#ff00ff"/>
<polygon points="358.60,211.94 357.03,209.30 360.17,209.30" fill="#ff00ff"/>
<polygon points="364.25,211.94 362.68,209.30 365.82,209.30" fill="#ff00ff"/>
<polygon points="369.90,211.94 368.33,209.30 371.47,209.30" fill="#ff00ff"/>
<polygon points="375.55,211.04 373.98,208.40 377.12,208.40" fill="#ff00ff"/>
<polygon points="381.20,210.04 379.63,207.40 382.77,207.40" fill="#ff00ff"/>
<polygon points="386.85,209.14 385.28,206.50 388.42,206.50" fill="#ff00ff"/>
<polygon points="392.50,205.62 390.93,202.98 394.07,202.98" fill="#ff00ff"/>
<polygon points="398.15,205.34 396.58,202.70 399.72,202.70" fill="#ff00ff"/>
<polygon points="403.80,203.24 402.23,200.60 405.37,200.60" fill="#ff00ff"/>
<polygon points="409.45,201.43 407.88,198.79 411.02,198.79" fill="#ff00ff"/>
<polygon points="415.10,199.95 413.53,197.31 416.67,197.31" fill="#ff00ff"/>
<polygon points="420.75,197.23 419.18,194.59 422.32,194.59" fill="#ff00ff"/>
<polygon points="426.40,194.85 424.83,192.21 427.97,192.21" fill="#ff00ff"/>
<circle cx="279.50" cy="155.05" r="1.35" fill="#800080"/>
<circle cx="285.15" cy="156.36" r="1.35" fill="#800080"/>
<circle cx="290.80" cy="157.49" r="1.35" fill="#800080"/>
<circle cx="296.45" cy="158.17" r="1.35" fill="#800080"/>
<circle cx="302.10" cy="160.04" r="1.35" fill="#800080"/>
<circle cx="307.75" cy="162.48" r="1.35" fill="#800080"/>
<circle cx="313.40" cy="163.44" r="1.35" fill="#800080"/>
<circle cx="319.05" cy="164.29" r="1.35" fill="#800080"/>
<circle cx="324.70" cy="165.57" r="1.35" fill="#800080"/>
<circle cx="330.35" cy="166.08" r="1.35" fill="#800080"/>
<circle cx="336.00" cy="167.98" r="1.35" fill="#800080"/>
<circle cx="341.65" cy="169.76" r="1.35" fill="#800080"/>
<circle cx="347.30" cy="171.66" r="1.35" fill="#800080"/>
<circle cx="352.95" cy="172.23" r="1.35" fill="#800080"/>
<circle cx="358.60" cy="168.83" r="1.35" fill="#800080"/>
<circle cx="364.25" cy="167.41" r="1.35" fill="#800080"/>
<circle cx="369.90" cy="166.08" r="1.35" fill="#800080"/>
<circle cx="375.55" cy="164.86" r="1.35" fill="#800080"/>
<circle cx="381.20" cy="163.78" r="1.35" fill="#800080"/>
<circle cx="386.85" cy="162.96" r="1.35" fill="#800080"/>
<circle cx="392.50" cy="162.48" r="1.35" fill="#800080"/>
<circle cx="398.15" cy="161.18" r="1.35" fill="#800080"/>
<circle cx="403.80" cy="159.28" r="1.35" fill="#800080"/>
<circle cx="409.45" cy="158.17" r="1.35" fill="#800080"/>
<circle cx="415.10" cy="157.49" r="1.35" fill="#800080"/>
<circle cx="420.75" cy="155.96" r="1.35" fill="#800080"/>
<circle cx="426.40" cy="155.05" r="1.35" fill="#800080"/>
<line x1="296.45" y1="234.30" x2="296.45" y2="232.30" stroke="#9a9a9a" stroke-width="0.9"/>
<text x="0" y="0" class="t" text-anchor="middle" transform="translate(296.45,245.30) scale(1,1.1)">-50</text>
<line x1="324.70" y1="234.30" x2="324.70" y2="232.30" stroke="#9a9a9a" stroke-width="0.9"/>
<text x="0" y="0" class="t" text-anchor="middle" transform="translate(324.70,245.30) scale(1,1.1)">-25</text>
<line x1="352.95" y1="234.30" x2="352.95" y2="232.30" stroke="#9a9a9a" stroke-width="0.9"/>
<text x="0" y="0" class="t" text-anchor="middle" transform="translate(352.95,245.30) scale(1,1.1)">0</text>
<line x1="381.20" y1="234.30" x2="381.20" y2="232.30" stroke="#9a9a9a" stroke-width="0.9"/>
<text x="0" y="0" class="t" text-anchor="middle" transform="translate(381.20,245.30) scale(1,1.1)">25</text>
<line x1="409.45" y1="234.30" x2="409.45" y2="232.30" stroke="#9a9a9a" stroke-width="0.9"/>
<text x="0" y="0" class="t" text-anchor="middle" transform="translate(409.45,245.30) scale(1,1.1)">50</text>
<line x1="282.32" y1="234.30" x2="282.32" y2="233.10" stroke="#9a9a9a" stroke-width="0.8"/>
<line x1="310.57" y1="234.30" x2="310.57" y2="233.10" stroke="#9a9a9a" stroke-width="0.8"/>
<line x1="338.82" y1="234.30" x2="338.82" y2="233.10" stroke="#9a9a9a" stroke-width="0.8"/>
<line x1="367.07" y1="234.30" x2="367.07" y2="233.10" stroke="#9a9a9a" stroke-width="0.8"/>
<line x1="395.32" y1="234.30" x2="395.32" y2="233.10" stroke="#9a9a9a" stroke-width="0.8"/>
<line x1="423.57" y1="234.30" x2="423.57" y2="233.10" stroke="#9a9a9a" stroke-width="0.8"/>
<line x1="279.50" y1="234.30" x2="281.50" y2="234.30" stroke="#9a9a9a" stroke-width="0.9"/>
<text x="0" y="0" class="t" text-anchor="end" transform="translate(276.90,237.70) scale(1,1.1)">0.0</text>
<line x1="279.50" y1="205.96" x2="281.50" y2="205.96" stroke="#9a9a9a" stroke-width="0.9"/>
<text x="0" y="0" class="t" text-anchor="end" transform="translate(276.90,209.36) scale(1,1.1)">0.1</text>
<line x1="279.50" y1="177.61" x2="281.50" y2="177.61" stroke="#9a9a9a" stroke-width="0.9"/>
<text x="0" y="0" class="t" text-anchor="end" transform="translate(276.90,181.01) scale(1,1.1)">0.2</text>
<line x1="279.50" y1="149.27" x2="281.50" y2="149.27" stroke="#9a9a9a" stroke-width="0.9"/>
<text x="0" y="0" class="t" text-anchor="end" transform="translate(276.90,152.67) scale(1,1.1)">0.3</text>
<line x1="279.50" y1="220.13" x2="280.70" y2="220.13" stroke="#9a9a9a" stroke-width="0.8"/>
<line x1="279.50" y1="191.79" x2="280.70" y2="191.79" stroke="#9a9a9a" stroke-width="0.8"/>
<line x1="279.50" y1="163.44" x2="280.70" y2="163.44" stroke="#9a9a9a" stroke-width="0.8"/>
<line x1="279.50" y1="135.10" x2="280.70" y2="135.10" stroke="#9a9a9a" stroke-width="0.8"/>
<text x="224.40" y="145.20" class="pl">(d)</text>
<text x="0" y="0" class="al" text-anchor="middle" transform="translate(253.10,189.80) rotate(-90)">Reflectance</text>
<text x="0" y="0" class="al" text-anchor="middle" transform="translate(353.50,258.30) scale(1,1.1)">VZA (&#176;)</text>
<line x1="59.30" y1="358.00" x2="205.00" y2="358.00" stroke="#8a8a8a" stroke-width="1.1"/>
<line x1="59.30" y1="358.50" x2="59.30" y2="261.90" stroke="#b2b2b2" stroke-width="1.4"/>
<path d="M59.30,336.09 L64.90,337.37 L70.51,337.88 L76.11,337.88 L81.72,338.14 L87.32,338.52 L92.92,338.52 L98.53,338.91 L104.13,338.91 L109.73,338.91 L115.34,338.52 L120.94,338.52 L126.55,338.52 L132.15,337.88 L137.75,338.52 L143.36,337.88 L148.96,337.88 L154.57,338.91 L160.17,339.23 L165.77,339.81 L171.38,341.60 L176.98,341.34 L182.58,340.70 L188.19,341.60 L193.79,341.60 L199.40,340.32 L205.00,339.23" fill="none" stroke="#c4c4c4" stroke-width="0.7"/>
<path d="M59.30,301.69 L64.90,302.97 L70.51,304.31 L76.11,305.47 L81.72,306.11 L87.32,306.11 L92.92,305.72 L98.53,306.11 L104.13,305.47 L109.73,305.72 L115.34,305.72 L120.94,305.72 L126.55,305.47 L132.15,302.39 L137.75,302.90 L143.36,302.58 L148.96,302.26 L154.57,304.18 L160.17,304.50 L165.77,305.47 L171.38,306.11 L176.98,306.75 L182.58,306.11 L188.19,305.47 L193.79,304.82 L199.40,304.18 L205.00,300.34" fill="none" stroke="#b0dcb0" stroke-width="0.7"/>
<path d="M59.30,312.70 L64.90,314.56 L70.51,315.91 L76.11,317.13 L81.72,317.70 L87.32,318.60 L92.92,318.98 L98.53,319.56 L104.13,320.07 L109.73,320.07 L115.34,320.46 L120.94,320.46 L126.55,320.07 L132.15,320.07 L137.75,320.07 L143.36,320.46 L148.96,321.42 L154.57,322.31 L160.17,322.12 L165.77,323.21 L171.38,324.49 L176.98,325.97 L182.58,325.77 L188.19,326.29 L193.79,326.86 L199.40,325.65 L205.00,320.46" fill="none" stroke="#b8b8ff" stroke-width="0.7"/>
<path d="M59.30,307.20 L64.90,308.03 L70.51,309.12 L76.11,309.12 L81.72,309.12 L87.32,308.48 L92.92,308.48 L98.53,308.03 L104.13,308.03 L109.73,308.28 L115.34,308.03 L120.94,308.48 L126.55,309.12 L132.15,308.03 L137.75,302.97 L143.36,302.01 L148.96,301.69 L154.57,300.60 L160.17,300.60 L165.77,301.69 L171.38,302.39 L176.98,302.39 L182.58,302.01 L188.19,301.69 L193.79,301.11 L199.40,300.60 L205.00,299.89" fill="none" stroke="#d8b8ff" stroke-width="0.7"/>
<path d="M59.30,333.65 L64.90,334.81 L70.51,336.09 L76.11,336.60 L81.72,337.37 L87.32,338.52 L92.92,338.52 L98.53,338.91 L104.13,338.91 L109.73,338.91 L115.34,338.52 L120.94,338.52 L126.55,338.52 L132.15,337.88 L137.75,338.52 L143.36,337.88 L148.96,337.88 L154.57,338.91 L160.17,339.23 L165.77,339.81 L171.38,340.32 L176.98,340.70 L182.58,340.70 L188.19,341.60 L193.79,341.60 L199.40,340.32 L205.00,339.23" fill="none" stroke="#ffb8b8" stroke-width="0.7"/>
<path d="M59.30,294.32 L64.90,301.11 L70.51,303.54 L76.11,304.82 L81.72,304.38 L87.32,305.72 L92.92,305.72 L98.53,305.72 L104.13,304.31 L109.73,305.14 L115.34,305.14 L120.94,305.72 L126.55,304.82 L132.15,300.60 L137.75,302.26 L143.36,302.01 L148.96,301.69 L154.57,303.54 L160.17,303.86 L165.77,304.82 L171.38,305.72 L176.98,306.11 L182.58,305.72 L188.19,304.82 L193.79,304.31 L199.40,303.86 L205.00,302.13" fill="none" stroke="#b8b8e0" stroke-width="0.7"/>
<path d="M59.30,310.27 L64.90,311.62 L70.51,313.99 L76.11,316.81 L81.72,317.64 L87.32,319.56 L92.92,319.56 L98.53,319.56 L104.13,322.31 L109.73,320.84 L115.34,320.84 L120.94,320.46 L126.55,320.07 L132.15,320.07 L137.75,320.07 L143.36,320.84 L148.96,321.80 L154.57,322.44 L160.17,321.93 L165.77,323.21 L171.38,325.07 L176.98,326.29 L182.58,325.97 L188.19,326.86 L193.79,326.86 L199.40,325.97 L205.00,322.31" fill="none" stroke="#ffb8ff" stroke-width="0.7"/>
<path d="M59.30,307.58 L64.90,309.12 L70.51,309.82 L76.11,311.30 L81.72,312.70 L87.32,313.15 L92.92,311.62 L98.53,309.12 L104.13,309.12 L109.73,309.12 L115.34,308.03 L120.94,307.20 L126.55,307.20 L132.15,306.11 L137.75,302.97 L143.36,302.39 L148.96,301.11 L154.57,299.89 L160.17,298.03 L165.77,296.62 L171.38,296.94 L176.98,293.23 L182.58,294.32 L188.19,296.18 L193.79,296.94 L199.40,297.52 L205.00,295.60" fill="none" stroke="#dcb4dc" stroke-width="0.7"/>
<circle cx="59.30" cy="336.09" r="1.35" fill="#000000"/>
<circle cx="64.90" cy="337.37" r="1.35" fill="#000000"/>
<circle cx="70.51" cy="337.88" r="1.35" fill="#000000"/>
<circle cx="76.11" cy="337.88" r="1.35" fill="#000000"/>
<circle cx="81.72" cy="338.14" r="1.35" fill="#000000"/>
<circle cx="87.32" cy="338.52" r="1.35" fill="#000000"/>
<circle cx="92.92" cy="338.52" r="1.35" fill="#000000"/>
<circle cx="98.53" cy="338.91" r="1.35" fill="#000000"/>
<circle cx="104.13" cy="338.91" r="1.35" fill="#000000"/>
<circle cx="109.73" cy="338.91" r="1.35" fill="#000000"/>
<circle cx="115.34" cy="338.52" r="1.35" fill="#000000"/>
<circle cx="120.94" cy="338.52" r="1.35" fill="#000000"/>
<circle cx="126.55" cy="338.52" r="1.35" fill="#000000"/>
<circle cx="132.15" cy="337.88" r="1.35" fill="#000000"/>
<circle cx="137.75" cy="338.52" r="1.35" fill="#000000"/>
<circle cx="143.36" cy="337.88" r="1.35" fill="#000000"/>
<circle cx="148.96" cy="337.88" r="1.35" fill="#000000"/>
<circle cx="154.57" cy="338.91" r="1.35" fill="#000000"/>
<circle cx="160.17" cy="339.23" r="1.35" fill="#000000"/>
<circle cx="165.77" cy="339.81" r="1.35" fill="#000000"/>
<circle cx="171.38" cy="341.60" r="1.35" fill="#000000"/>
<circle cx="176.98" cy="341.34" r="1.35" fill="#000000"/>
<circle cx="182.58" cy="340.70" r="1.35" fill="#000000"/>
<circle cx="188.19" cy="341.60" r="1.35" fill="#000000"/>
<circle cx="193.79" cy="341.60" r="1.35" fill="#000000"/>
<circle cx="199.40" cy="340.32" r="1.35" fill="#000000"/>
<circle cx="205.00" cy="339.23" r="1.35" fill="#000000"/>
<circle cx="59.30" cy="301.69" r="1.35" fill="#008000"/>
<circle cx="64.90" cy="302.97" r="1.35" fill="#008000"/>
<circle cx="70.51" cy="304.31" r="1.35" fill="#008000"/>
<circle cx="76.11" cy="305.47" r="1.35" fill="#008000"/>
<circle cx="81.72" cy="306.11" r="1.35" fill="#008000"/>
<circle cx="87.32" cy="306.11" r="1.35" fill="#008000"/>
<circle cx="92.92" cy="305.72" r="1.35" fill="#008000"/>
<circle cx="98.53" cy="306.11" r="1.35" fill="#008000"/>
<circle cx="104.13" cy="305.47" r="1.35" fill="#008000"/>
<circle cx="109.73" cy="305.72" r="1.35" fill="#008000"/>
<circle cx="115.34" cy="305.72" r="1.35" fill="#008000"/>
<circle cx="120.94" cy="305.72" r="1.35" fill="#008000"/>
<circle cx="126.55" cy="305.47" r="1.35" fill="#008000"/>
<circle cx="132.15" cy="302.39" r="1.35" fill="#008000"/>
<circle cx="137.75" cy="302.90" r="1.35" fill="#008000"/>
<circle cx="143.36" cy="302.58" r="1.35" fill="#008000"/>
<circle cx="148.96" cy="302.26" r="1.35" fill="#008000"/>
<circle cx="154.57" cy="304.18" r="1.35" fill="#008000"/>
<circle cx="160.17" cy="304.50" r="1.35" fill="#008000"/>
<circle cx="165.77" cy="305.47" r="1.35" fill="#008000"/>
<circle cx="171.38" cy="306.11" r="1.35" fill="#008000"/>
<circle cx="176.98" cy="306.75" r="1.35" fill="#008000"/>
<circle cx="182.58" cy="306.11" r="1.35" fill="#008000"/>
<circle cx="188.19" cy="305.47" r="1.35" fill="#008000"/>
<circle cx="193.79" cy="304.82" r="1.35" fill="#008000"/>
<circle cx="199.40" cy="304.18" r="1.35" fill="#008000"/>
<circle cx="205.00" cy="300.34" r="1.35" fill="#008000"/>
<polygon points="59.30,311.05 57.73,313.69 60.87,313.69" fill="#0000ff"/>
<polygon points="64.90,312.91 63.34,315.55 66.47,315.55" fill="#0000ff"/>
<polygon points="70.51,314.26 68.94,316.90 72.08,316.90" fill="#0000ff"/>
<polygon points="76.11,315.48 74.54,318.12 77.68,318.12" fill="#0000ff"/>
<polygon points="81.72,316.05 80.15,318.69 83.28,318.69" fill="#0000ff"/>
<polygon points="87.32,316.95 85.75,319.59 88.89,319.59" fill="#0000ff"/>
<polygon points="92.92,317.33 91.36,319.97 94.49,319.97" fill="#0000ff"/>
<polygon points="98.53,317.91 96.96,320.55 100.09,320.55" fill="#0000ff"/>
<polygon points="104.13,318.42 102.56,321.06 105.70,321.06" fill="#0000ff"/>
<polygon points="109.73,318.42 108.17,321.06 111.30,321.06" fill="#0000ff"/>
<polygon points="115.34,318.81 113.77,321.45 116.91,321.45" fill="#0000ff"/>
<polygon points="120.94,318.81 119.37,321.45 122.51,321.45" fill="#0000ff"/>
<polygon points="126.55,318.42 124.98,321.06 128.11,321.06" fill="#0000ff"/>
<polygon points="132.15,318.42 130.58,321.06 133.72,321.06" fill="#0000ff"/>
<polygon points="137.75,318.42 136.19,321.06 139.32,321.06" fill="#0000ff"/>
<polygon points="143.36,318.81 141.79,321.45 144.93,321.45" fill="#0000ff"/>
<polygon points="148.96,319.77 147.39,322.41 150.53,322.41" fill="#0000ff"/>
<polygon points="154.57,320.66 153.00,323.30 156.13,323.30" fill="#0000ff"/>
<polygon points="160.17,320.47 158.60,323.11 161.74,323.11" fill="#0000ff"/>
<polygon points="165.77,321.56 164.21,324.20 167.34,324.20" fill="#0000ff"/>
<polygon points="171.38,322.84 169.81,325.48 172.94,325.48" fill="#0000ff"/>
<polygon points="176.98,324.32 175.41,326.96 178.55,326.96" fill="#0000ff"/>
<polygon points="182.58,324.12 181.02,326.76 184.15,326.76" fill="#0000ff"/>
<polygon points="188.19,324.64 186.62,327.28 189.76,327.28" fill="#0000ff"/>
<polygon points="193.79,325.21 192.22,327.85 195.36,327.85" fill="#0000ff"/>
<polygon points="199.40,324.00 197.83,326.64 200.96,326.64" fill="#0000ff"/>
<polygon points="205.00,318.81 203.43,321.45 206.57,321.45" fill="#0000ff"/>
<polygon points="60.95,307.20 58.31,305.63 58.31,308.76" fill="#8a00ff"/>
<polygon points="66.55,308.03 63.91,306.46 63.91,309.60" fill="#8a00ff"/>
<polygon points="72.16,309.12 69.52,307.55 69.52,310.68" fill="#8a00ff"/>
<polygon points="77.76,309.12 75.12,307.55 75.12,310.68" fill="#8a00ff"/>
<polygon points="83.37,309.12 80.73,307.55 80.73,310.68" fill="#8a00ff"/>
<polygon points="88.97,308.48 86.33,306.91 86.33,310.04" fill="#8a00ff"/>
<polygon points="94.57,308.48 91.93,306.91 91.93,310.04" fill="#8a00ff"/>
<polygon points="100.18,308.03 97.54,306.46 97.54,309.60" fill="#8a00ff"/>
<polygon points="105.78,308.03 103.14,306.46 103.14,309.60" fill="#8a00ff"/>
<polygon points="111.38,308.28 108.74,306.72 108.74,309.85" fill="#8a00ff"/>
<polygon points="116.99,308.03 114.35,306.46 114.35,309.60" fill="#8a00ff"/>
<polygon points="122.59,308.48 119.95,306.91 119.95,310.04" fill="#8a00ff"/>
<polygon points="128.20,309.12 125.56,307.55 125.56,310.68" fill="#8a00ff"/>
<polygon points="133.80,308.03 131.16,306.46 131.16,309.60" fill="#8a00ff"/>
<polygon points="139.40,302.97 136.76,301.40 136.76,304.53" fill="#8a00ff"/>
<polygon points="145.01,302.01 142.37,300.44 142.37,303.57" fill="#8a00ff"/>
<polygon points="150.61,301.69 147.97,300.12 147.97,303.25" fill="#8a00ff"/>
<polygon points="156.22,300.60 153.58,299.03 153.58,302.16" fill="#8a00ff"/>
<polygon points="161.82,300.60 159.18,299.03 159.18,302.16" fill="#8a00ff"/>
<polygon points="167.42,301.69 164.78,300.12 164.78,303.25" fill="#8a00ff"/>
<polygon points="173.03,302.39 170.39,300.82 170.39,303.96" fill="#8a00ff"/>
<polygon points="178.63,302.39 175.99,300.82 175.99,303.96" fill="#8a00ff"/>
<polygon points="184.23,302.01 181.59,300.44 181.59,303.57" fill="#8a00ff"/>
<polygon points="189.84,301.69 187.20,300.12 187.20,303.25" fill="#8a00ff"/>
<polygon points="195.44,301.11 192.80,299.54 192.80,302.68" fill="#8a00ff"/>
<polygon points="201.05,300.60 198.41,299.03 198.41,302.16" fill="#8a00ff"/>
<polygon points="206.65,299.89 204.01,298.32 204.01,301.46" fill="#8a00ff"/>
<circle cx="59.30" cy="333.65" r="1.35" fill="#ff0000"/>
<circle cx="64.90" cy="334.81" r="1.35" fill="#ff0000"/>
<circle cx="70.51" cy="336.09" r="1.35" fill="#ff0000"/>
<circle cx="76.11" cy="336.60" r="1.35" fill="#ff0000"/>
<circle cx="81.72" cy="337.37" r="1.35" fill="#ff0000"/>
<circle cx="87.32" cy="338.52" r="1.35" fill="#ff0000"/>
<circle cx="92.92" cy="338.52" r="1.35" fill="#ff0000"/>
<circle cx="98.53" cy="338.91" r="1.35" fill="#ff0000"/>
<circle cx="104.13" cy="338.91" r="1.35" fill="#ff0000"/>
<circle cx="109.73" cy="338.91" r="1.35" fill="#ff0000"/>
<circle cx="115.34" cy="338.52" r="1.35" fill="#ff0000"/>
<circle cx="120.94" cy="338.52" r="1.35" fill="#ff0000"/>
<circle cx="126.55" cy="338.52" r="1.35" fill="#ff0000"/>
<circle cx="132.15" cy="337.88" r="1.35" fill="#ff0000"/>
<circle cx="137.75" cy="338.52" r="1.35" fill="#ff0000"/>
<circle cx="143.36" cy="337.88" r="1.35" fill="#ff0000"/>
<circle cx="148.96" cy="337.88" r="1.35" fill="#ff0000"/>
<circle cx="154.57" cy="338.91" r="1.35" fill="#ff0000"/>
<circle cx="160.17" cy="339.23" r="1.35" fill="#ff0000"/>
<circle cx="165.77" cy="339.81" r="1.35" fill="#ff0000"/>
<circle cx="171.38" cy="340.32" r="1.35" fill="#ff0000"/>
<circle cx="176.98" cy="340.70" r="1.35" fill="#ff0000"/>
<circle cx="182.58" cy="340.70" r="1.35" fill="#ff0000"/>
<circle cx="188.19" cy="341.60" r="1.35" fill="#ff0000"/>
<circle cx="193.79" cy="341.60" r="1.35" fill="#ff0000"/>
<circle cx="199.40" cy="340.32" r="1.35" fill="#ff0000"/>
<circle cx="205.00" cy="339.23" r="1.35" fill="#ff0000"/>
<polygon points="57.65,294.32 60.29,292.75 60.29,295.89" fill="#000080"/>
<polygon points="63.25,301.11 65.89,299.54 65.89,302.68" fill="#000080"/>
<polygon points="68.86,303.54 71.50,301.98 71.50,305.11" fill="#000080"/>
<polygon points="74.46,304.82 77.10,303.26 77.10,306.39" fill="#000080"/>
<polygon points="80.07,304.38 82.71,302.81 82.71,305.94" fill="#000080"/>
<polygon points="85.67,305.72 88.31,304.15 88.31,307.29" fill="#000080"/>
<polygon points="91.27,305.72 93.91,304.15 93.91,307.29" fill="#000080"/>
<polygon points="96.88,305.72 99.52,304.15 99.52,307.29" fill="#000080"/>
<polygon points="102.48,304.31 105.12,302.74 105.12,305.88" fill="#000080"/>
<polygon points="108.08,305.14 110.72,303.58 110.72,306.71" fill="#000080"/>
<polygon points="113.69,305.14 116.33,303.58 116.33,306.71" fill="#000080"/>
<polygon points="119.29,305.72 121.93,304.15 121.93,307.29" fill="#000080"/>
<polygon points="124.90,304.82 127.54,303.26 127.54,306.39" fill="#000080"/>
<polygon points="130.50,300.60 133.14,299.03 133.14,302.16" fill="#000080"/>
<polygon points="136.10,302.26 138.74,300.69 138.74,303.83" fill="#000080"/>
<polygon points="141.71,302.01 144.35,300.44 144.35,303.57" fill="#000080"/>
<polygon points="147.31,301.69 149.95,300.12 149.95,303.25" fill="#000080"/>
<polygon points="152.92,303.54 155.56,301.98 155.56,305.11" fill="#000080"/>
<polygon points="158.52,303.86 161.16,302.30 161.16,305.43" fill="#000080"/>
<polygon points="164.12,304.82 166.76,303.26 166.76,306.39" fill="#000080"/>
<polygon points="169.73,305.72 172.37,304.15 172.37,307.29" fill="#000080"/>
<polygon points="175.33,306.11 177.97,304.54 177.97,307.67" fill="#000080"/>
<polygon points="180.93,305.72 183.57,304.15 183.57,307.29" fill="#000080"/>
<polygon points="186.54,304.82 189.18,303.26 189.18,306.39" fill="#000080"/>
<polygon points="192.14,304.31 194.78,302.74 194.78,305.88" fill="#000080"/>
<polygon points="197.75,303.86 200.39,302.30 200.39,305.43" fill="#000080"/>
<polygon points="203.35,302.13 205.99,300.57 205.99,303.70" fill="#000080"/>
<polygon points="59.30,311.92 57.73,309.28 60.87,309.28" fill="#ff00ff"/>
<polygon points="64.90,313.27 63.34,310.63 66.47,310.63" fill="#ff00ff"/>
<polygon points="70.51,315.64 68.94,313.00 72.08,313.00" fill="#ff00ff"/>
<polygon points="76.11,318.46 74.54,315.82 77.68,315.82" fill="#ff00ff"/>
<polygon points="81.72,319.29 80.15,316.65 83.28,316.65" fill="#ff00ff"/>
<polygon points="87.32,321.21 85.75,318.57 88.89,318.57" fill="#ff00ff"/>
<polygon points="92.92,321.21 91.36,318.57 94.49,318.57" fill="#ff00ff"/>
<polygon points="98.53,321.21 96.96,318.57 100.09,318.57" fill="#ff00ff"/>
<polygon points="104.13,323.96 102.56,321.32 105.70,321.32" fill="#ff00ff"/>
<polygon points="109.73,322.49 108.17,319.85 111.30,319.85" fill="#ff00ff"/>
<polygon points="115.34,322.49 113.77,319.85 116.91,319.85" fill="#ff00ff"/>
<polygon points="120.94,322.11 119.37,319.47 122.51,319.47" fill="#ff00ff"/>
<polygon points="126.55,321.72 124.98,319.08 128.11,319.08" fill="#ff00ff"/>
<polygon points="132.15,321.72 130.58,319.08 133.72,319.08" fill="#ff00ff"/>
<polygon points="137.75,321.72 136.19,319.08 139.32,319.08" fill="#ff00ff"/>
<polygon points="143.36,322.49 141.79,319.85 144.93,319.85" fill="#ff00ff"/>
<polygon points="148.96,323.45 147.39,320.81 150.53,320.81" fill="#ff00ff"/>
<polygon points="154.57,324.09 153.00,321.45 156.13,321.45" fill="#ff00ff"/>
<polygon points="160.17,323.58 158.60,320.94 161.74,320.94" fill="#ff00ff"/>
<polygon points="165.77,324.86 164.21,322.22 167.34,322.22" fill="#ff00ff"/>
<polygon points="171.38,326.72 169.81,324.08 172.94,324.08" fill="#ff00ff"/>
<polygon points="176.98,327.94 175.41,325.30 178.55,325.30" fill="#ff00ff"/>
<polygon points="182.58,327.62 181.02,324.98 184.15,324.98" fill="#ff00ff"/>
<polygon points="188.19,328.51 186.62,325.87 189.76,325.87" fill="#ff00ff"/>
<polygon points="193.79,328.51 192.22,325.87 195.36,325.87" fill="#ff00ff"/>
<polygon points="199.40,327.62 197.83,324.98 200.96,324.98" fill="#ff00ff"/>
<polygon points="205.00,323.96 203.43,321.32 206.57,321.32" fill="#ff00ff"/>
<circle cx="59.30" cy="307.58" r="1.35" fill="#800080"/>
<circle cx="64.90" cy="309.12" r="1.35" fill="#800080"/>
<circle cx="70.51" cy="309.82" r="1.35" fill="#800080"/>
<circle cx="76.11" cy="311.30" r="1.35" fill="#800080"/>
<circle cx="81.72" cy="312.70" r="1.35" fill="#800080"/>
<circle cx="87.32" cy="313.15" r="1.35" fill="#800080"/>
<circle cx="92.92" cy="311.62" r="1.35" fill="#800080"/>
<circle cx="98.53" cy="309.12" r="1.35" fill="#800080"/>
<circle cx="104.13" cy="309.12" r="1.35" fill="#800080"/>
<circle cx="109.73" cy="309.12" r="1.35" fill="#800080"/>
<circle cx="115.34" cy="308.03" r="1.35" fill="#800080"/>
<circle cx="120.94" cy="307.20" r="1.35" fill="#800080"/>
<circle cx="126.55" cy="307.20" r="1.35" fill="#800080"/>
<circle cx="132.15" cy="306.11" r="1.35" fill="#800080"/>
<circle cx="137.75" cy="302.97" r="1.35" fill="#800080"/>
<circle cx="143.36" cy="302.39" r="1.35" fill="#800080"/>
<circle cx="148.96" cy="301.11" r="1.35" fill="#800080"/>
<circle cx="154.57" cy="299.89" r="1.35" fill="#800080"/>
<circle cx="160.17" cy="298.03" r="1.35" fill="#800080"/>
<circle cx="165.77" cy="296.62" r="1.35" fill="#800080"/>
<circle cx="171.38" cy="296.94" r="1.35" fill="#800080"/>
<circle cx="176.98" cy="293.23" r="1.35" fill="#800080"/>
<circle cx="182.58" cy="294.32" r="1.35" fill="#800080"/>
<circle cx="188.19" cy="296.18" r="1.35" fill="#800080"/>
<circle cx="193.79" cy="296.94" r="1.35" fill="#800080"/>
<circle cx="199.40" cy="297.52" r="1.35" fill="#800080"/>
<circle cx="205.00" cy="295.60" r="1.35" fill="#800080"/>
<line x1="76.11" y1="358.00" x2="76.11" y2="356.00" stroke="#9a9a9a" stroke-width="0.9"/>
<text x="0" y="0" class="t" text-anchor="middle" transform="translate(76.11,369.00) scale(1,1.1)">-50</text>
<line x1="104.13" y1="358.00" x2="104.13" y2="356.00" stroke="#9a9a9a" stroke-width="0.9"/>
<text x="0" y="0" class="t" text-anchor="middle" transform="translate(104.13,369.00) scale(1,1.1)">-25</text>
<line x1="132.15" y1="358.00" x2="132.15" y2="356.00" stroke="#9a9a9a" stroke-width="0.9"/>
<text x="0" y="0" class="t" text-anchor="middle" transform="translate(132.15,369.00) scale(1,1.1)">0</text>
<line x1="160.17" y1="358.00" x2="160.17" y2="356.00" stroke="#9a9a9a" stroke-width="0.9"/>
<text x="0" y="0" class="t" text-anchor="middle" transform="translate(160.17,369.00) scale(1,1.1)">25</text>
<line x1="188.19" y1="358.00" x2="188.19" y2="356.00" stroke="#9a9a9a" stroke-width="0.9"/>
<text x="0" y="0" class="t" text-anchor="middle" transform="translate(188.19,369.00) scale(1,1.1)">50</text>
<line x1="62.10" y1="358.00" x2="62.10" y2="356.80" stroke="#9a9a9a" stroke-width="0.8"/>
<line x1="90.12" y1="358.00" x2="90.12" y2="356.80" stroke="#9a9a9a" stroke-width="0.8"/>
<line x1="118.14" y1="358.00" x2="118.14" y2="356.80" stroke="#9a9a9a" stroke-width="0.8"/>
<line x1="146.16" y1="358.00" x2="146.16" y2="356.80" stroke="#9a9a9a" stroke-width="0.8"/>
<line x1="174.18" y1="358.00" x2="174.18" y2="356.80" stroke="#9a9a9a" stroke-width="0.8"/>
<line x1="202.20" y1="358.00" x2="202.20" y2="356.80" stroke="#9a9a9a" stroke-width="0.8"/>
<line x1="59.30" y1="358.00" x2="61.30" y2="358.00" stroke="#9a9a9a" stroke-width="0.9"/>
<text x="0" y="0" class="t" text-anchor="end" transform="translate(56.70,361.40) scale(1,1.1)">0.10</text>
<line x1="59.30" y1="325.97" x2="61.30" y2="325.97" stroke="#9a9a9a" stroke-width="0.9"/>
<text x="0" y="0" class="t" text-anchor="end" transform="translate(56.70,329.37) scale(1,1.1)">0.15</text>
<line x1="59.30" y1="293.93" x2="61.30" y2="293.93" stroke="#9a9a9a" stroke-width="0.9"/>
<text x="0" y="0" class="t" text-anchor="end" transform="translate(56.70,297.33) scale(1,1.1)">0.20</text>
<line x1="59.30" y1="261.90" x2="61.30" y2="261.90" stroke="#9a9a9a" stroke-width="0.9"/>
<text x="0" y="0" class="t" text-anchor="end" transform="translate(56.70,265.30) scale(1,1.1)">0.25</text>
<line x1="59.30" y1="341.98" x2="60.50" y2="341.98" stroke="#9a9a9a" stroke-width="0.8"/>
<line x1="59.30" y1="309.95" x2="60.50" y2="309.95" stroke="#9a9a9a" stroke-width="0.8"/>
<line x1="59.30" y1="277.92" x2="60.50" y2="277.92" stroke="#9a9a9a" stroke-width="0.8"/>
<line x1="59.30" y1="261.90" x2="60.50" y2="261.90" stroke="#9a9a9a" stroke-width="0.8"/>
<text x="4.10" y="271.10" class="pl">(e)</text>
<text x="0" y="0" class="al" text-anchor="middle" transform="translate(32.40,314.90) rotate(-90)">Reflectance</text>
<text x="0" y="0" class="al" text-anchor="middle" transform="translate(130.50,383.00) scale(1,1.1)">VZA (&#176;)</text>
<line x1="279.60" y1="359.90" x2="426.40" y2="359.90" stroke="#8a8a8a" stroke-width="1.1"/>
<line x1="279.60" y1="360.40" x2="279.60" y2="262.40" stroke="#b2b2b2" stroke-width="1.4"/>
<path d="M279.60,353.30 L285.25,353.88 L290.89,354.34 L296.54,354.80 L302.18,354.89 L307.83,354.98 L313.48,355.07 L319.12,355.16 L324.77,355.26 L330.42,355.35 L336.06,355.44 L341.71,355.54 L347.35,355.63 L353.00,355.72 L358.65,355.72 L364.29,355.72 L369.94,355.72 L375.58,355.72 L381.23,355.72 L386.88,355.72 L392.52,355.72 L398.17,355.72 L403.82,355.47 L409.46,355.22 L415.11,354.97 L420.75,354.72 L426.40,352.99" fill="none" stroke="#c4c4c4" stroke-width="0.7"/>
<path d="M279.60,293.04 L285.25,294.35 L290.89,297.28 L296.54,298.61 L302.18,299.87 L307.83,301.68 L313.48,302.79 L319.12,304.07 L324.77,305.02 L330.42,306.50 L336.06,307.25 L341.71,307.81 L347.35,308.36 L353.00,308.70 L358.65,309.09 L364.29,308.36 L369.94,307.81 L375.58,306.97 L381.23,306.00 L386.88,305.02 L392.52,304.19 L398.17,302.79 L403.82,300.98 L409.46,299.17 L415.11,297.28 L420.75,294.85 L426.40,294.85" fill="none" stroke="#b0dcb0" stroke-width="0.7"/>
<path d="M279.60,322.57 L285.25,324.94 L290.89,326.75 L296.54,329.95 L302.18,331.21 L307.83,332.60 L313.48,333.55 L319.12,334.83 L324.77,335.44 L330.42,335.94 L336.06,335.94 L341.71,336.36 L347.35,336.78 L353.00,336.78 L358.65,337.34 L364.29,336.36 L369.94,335.44 L375.58,335.44 L381.23,334.55 L386.88,333.44 L392.52,332.60 L398.17,332.60 L403.82,332.04 L409.46,330.65 L415.11,329.81 L420.75,326.19 L426.40,323.82" fill="none" stroke="#b8b8ff" stroke-width="0.7"/>
<path d="M279.60,283.01 L285.25,283.85 L290.89,285.24 L296.54,287.75 L302.18,288.86 L307.83,289.70 L313.48,291.09 L319.12,293.32 L324.77,294.44 L330.42,295.69 L336.06,296.66 L341.71,298.11 L347.35,299.45 L353.00,298.50 L358.65,297.61 L364.29,294.80 L369.94,293.88 L375.58,291.98 L381.23,291.98 L386.88,291.09 L392.52,290.20 L398.17,288.86 L403.82,288.39 L409.46,287.08 L415.11,285.52 L420.75,284.13 L426.40,282.87" fill="none" stroke="#d8b8ff" stroke-width="0.7"/>
<path d="M279.60,353.30 L285.25,353.88 L290.89,354.34 L296.54,354.80 L302.18,354.89 L307.83,354.98 L313.48,355.07 L319.12,355.16 L324.77,355.26 L330.42,355.35 L336.06,355.44 L341.71,355.54 L347.35,355.63 L353.00,355.72 L358.65,355.72 L364.29,355.72 L369.94,355.72 L375.58,355.72 L381.23,355.72 L386.88,355.72 L392.52,355.72 L398.17,355.72 L403.82,355.47 L409.46,355.22 L415.11,354.97 L420.75,354.72 L426.40,352.99" fill="none" stroke="#ffb8b8" stroke-width="0.7"/>
<path d="M279.60,291.15 L285.25,294.35 L290.89,297.28 L296.54,298.61 L302.18,299.87 L307.83,301.68 L313.48,302.79 L319.12,304.07 L324.77,305.02 L330.42,306.50 L336.06,307.25 L341.71,307.81 L347.35,308.36 L353.00,308.70 L358.65,309.09 L364.29,308.36 L369.94,307.81 L375.58,306.97 L381.23,306.00 L386.88,305.02 L392.52,304.19 L398.17,302.79 L403.82,300.98 L409.46,299.17 L415.11,297.28 L420.75,294.85 L426.40,292.49" fill="none" stroke="#b8b8e0" stroke-width="0.7"/>
<path d="M279.60,322.57 L285.25,323.82 L290.89,325.36 L296.54,328.70 L302.18,329.95 L307.83,332.60 L313.48,333.55 L319.12,334.83 L324.77,335.44 L330.42,335.94 L336.06,335.94 L341.71,336.36 L347.35,336.78 L353.00,336.78 L358.65,337.34 L364.29,336.36 L369.94,335.44 L375.58,333.55 L381.23,332.60 L386.88,332.04 L392.52,331.21 L398.17,330.65 L403.82,330.37 L409.46,329.81 L415.11,328.70 L420.75,326.19 L426.40,323.82" fill="none" stroke="#ffb8ff" stroke-width="0.7"/>
<path d="M279.60,278.84 L285.25,281.45 L290.89,284.69 L296.54,286.91 L302.18,288.03 L307.83,288.86 L313.48,290.26 L319.12,292.49 L324.77,293.60 L330.42,294.85 L336.06,295.83 L341.71,297.28 L347.35,298.61 L353.00,297.67 L358.65,296.78 L364.29,293.96 L369.94,293.04 L375.58,291.15 L381.23,291.15 L386.88,290.26 L392.52,289.37 L398.17,288.03 L403.82,287.55 L409.46,286.25 L415.11,284.69 L420.75,283.29 L426.40,282.04" fill="none" stroke="#dcb4dc" stroke-width="0.7"/>
<circle cx="279.60" cy="353.30" r="1.35" fill="#000000"/>
<circle cx="285.25" cy="353.88" r="1.35" fill="#000000"/>
<circle cx="290.89" cy="354.34" r="1.35" fill="#000000"/>
<circle cx="296.54" cy="354.80" r="1.35" fill="#000000"/>
<circle cx="302.18" cy="354.89" r="1.35" fill="#000000"/>
<circle cx="307.83" cy="354.98" r="1.35" fill="#000000"/>
<circle cx="313.48" cy="355.07" r="1.35" fill="#000000"/>
<circle cx="319.12" cy="355.16" r="1.35" fill="#000000"/>
<circle cx="324.77" cy="355.26" r="1.35" fill="#000000"/>
<circle cx="330.42" cy="355.35" r="1.35" fill="#000000"/>
<circle cx="336.06" cy="355.44" r="1.35" fill="#000000"/>
<circle cx="341.71" cy="355.54" r="1.35" fill="#000000"/>
<circle cx="347.35" cy="355.63" r="1.35" fill="#000000"/>
<circle cx="353.00" cy="355.72" r="1.35" fill="#000000"/>
<circle cx="358.65" cy="355.72" r="1.35" fill="#000000"/>
<circle cx="364.29" cy="355.72" r="1.35" fill="#000000"/>
<circle cx="369.94" cy="355.72" r="1.35" fill="#000000"/>
<circle cx="375.58" cy="355.72" r="1.35" fill="#000000"/>
<circle cx="381.23" cy="355.72" r="1.35" fill="#000000"/>
<circle cx="386.88" cy="355.72" r="1.35" fill="#000000"/>
<circle cx="392.52" cy="355.72" r="1.35" fill="#000000"/>
<circle cx="398.17" cy="355.72" r="1.35" fill="#000000"/>
<circle cx="403.82" cy="355.47" r="1.35" fill="#000000"/>
<circle cx="409.46" cy="355.22" r="1.35" fill="#000000"/>
<circle cx="415.11" cy="354.97" r="1.35" fill="#000000"/>
<circle cx="420.75" cy="354.72" r="1.35" fill="#000000"/>
<circle cx="426.40" cy="352.99" r="1.35" fill="#000000"/>
<circle cx="279.60" cy="293.04" r="1.35" fill="#008000"/>
<circle cx="285.25" cy="294.35" r="1.35" fill="#008000"/>
<circle cx="290.89" cy="297.28" r="1.35" fill="#008000"/>
<circle cx="296.54" cy="298.61" r="1.35" fill="#008000"/>
<circle cx="302.18" cy="299.87" r="1.35" fill="#008000"/>
<circle cx="307.83" cy="301.68" r="1.35" fill="#008000"/>
<circle cx="313.48" cy="302.79" r="1.35" fill="#008000"/>
<circle cx="319.12" cy="304.07" r="1.35" fill="#008000"/>
<circle cx="324.77" cy="305.02" r="1.35" fill="#008000"/>
<circle cx="330.42" cy="306.50" r="1.35" fill="#008000"/>
<circle cx="336.06" cy="307.25" r="1.35" fill="#008000"/>
<circle cx="341.71" cy="307.81" r="1.35" fill="#008000"/>
<circle cx="347.35" cy="308.36" r="1.35" fill="#008000"/>
<circle cx="353.00" cy="308.70" r="1.35" fill="#008000"/>
<circle cx="358.65" cy="309.09" r="1.35" fill="#008000"/>
<circle cx="364.29" cy="308.36" r="1.35" fill="#008000"/>
<circle cx="369.94" cy="307.81" r="1.35" fill="#008000"/>
<circle cx="375.58" cy="306.97" r="1.35" fill="#008000"/>
<circle cx="381.23" cy="306.00" r="1.35" fill="#008000"/>
<circle cx="386.88" cy="305.02" r="1.35" fill="#008000"/>
<circle cx="392.52" cy="304.19" r="1.35" fill="#008000"/>
<circle cx="398.17" cy="302.79" r="1.35" fill="#008000"/>
<circle cx="403.82" cy="300.98" r="1.35" fill="#008000"/>
<circle cx="409.46" cy="299.17" r="1.35" fill="#008000"/>
<circle cx="415.11" cy="297.28" r="1.35" fill="#008000"/>
<circle cx="420.75" cy="294.85" r="1.35" fill="#008000"/>
<circle cx="426.40" cy="294.85" r="1.35" fill="#008000"/>
<polygon points="279.60,320.92 278.03,323.56 281.17,323.56" fill="#0000ff"/>
<polygon points="285.25,323.29 283.68,325.93 286.81,325.93" fill="#0000ff"/>
<polygon points="290.89,325.10 289.32,327.74 292.46,327.74" fill="#0000ff"/>
<polygon points="296.54,328.30 294.97,330.94 298.11,330.94" fill="#0000ff"/>
<polygon points="302.18,329.56 300.62,332.20 303.75,332.20" fill="#0000ff"/>
<polygon points="307.83,330.95 306.26,333.59 309.40,333.59" fill="#0000ff"/>
<polygon points="313.48,331.90 311.91,334.54 315.04,334.54" fill="#0000ff"/>
<polygon points="319.12,333.18 317.56,335.82 320.69,335.82" fill="#0000ff"/>
<polygon points="324.77,333.79 323.20,336.43 326.34,336.43" fill="#0000ff"/>
<polygon points="330.42,334.29 328.85,336.93 331.98,336.93" fill="#0000ff"/>
<polygon points="336.06,334.29 334.49,336.93 337.63,336.93" fill="#0000ff"/>
<polygon points="341.71,334.71 340.14,337.35 343.28,337.35" fill="#0000ff"/>
<polygon points="347.35,335.13 345.79,337.77 348.92,337.77" fill="#0000ff"/>
<polygon points="353.00,335.13 351.43,337.77 354.57,337.77" fill="#0000ff"/>
<polygon points="358.65,335.69 357.08,338.33 360.21,338.33" fill="#0000ff"/>
<polygon points="364.29,334.71 362.72,337.35 365.86,337.35" fill="#0000ff"/>
<polygon points="369.94,333.79 368.37,336.43 371.51,336.43" fill="#0000ff"/>
<polygon points="375.58,333.79 374.02,336.43 377.15,336.43" fill="#0000ff"/>
<polygon points="381.23,332.90 379.66,335.54 382.80,335.54" fill="#0000ff"/>
<polygon points="386.88,331.79 385.31,334.43 388.44,334.43" fill="#0000ff"/>
<polygon points="392.52,330.95 390.96,333.59 394.09,333.59" fill="#0000ff"/>
<polygon points="398.17,330.95 396.60,333.59 399.74,333.59" fill="#0000ff"/>
<polygon points="403.82,330.39 402.25,333.03 405.38,333.03" fill="#0000ff"/>
<polygon points="409.46,329.00 407.89,331.64 411.03,331.64" fill="#0000ff"/>
<polygon points="415.11,328.16 413.54,330.80 416.68,330.80" fill="#0000ff"/>
<polygon points="420.75,324.54 419.19,327.18 422.32,327.18" fill="#0000ff"/>
<polygon points="426.40,322.18 424.83,324.81 427.97,324.81" fill="#0000ff"/>
<polygon points="281.25,283.01 278.61,281.45 278.61,284.58" fill="#8a00ff"/>
<polygon points="286.90,283.85 284.26,282.28 284.26,285.42" fill="#8a00ff"/>
<polygon points="292.54,285.24 289.90,283.68 289.90,286.81" fill="#8a00ff"/>
<polygon points="298.19,287.75 295.55,286.18 295.55,289.32" fill="#8a00ff"/>
<polygon points="303.83,288.86 301.19,287.30 301.19,290.43" fill="#8a00ff"/>
<polygon points="309.48,289.70 306.84,288.13 306.84,291.27" fill="#8a00ff"/>
<polygon points="315.13,291.09 312.49,289.53 312.49,292.66" fill="#8a00ff"/>
<polygon points="320.77,293.32 318.13,291.75 318.13,294.89" fill="#8a00ff"/>
<polygon points="326.42,294.44 323.78,292.87 323.78,296.00" fill="#8a00ff"/>
<polygon points="332.07,295.69 329.43,294.12 329.43,297.26" fill="#8a00ff"/>
<polygon points="337.71,296.66 335.07,295.10 335.07,298.23" fill="#8a00ff"/>
<polygon points="343.36,298.11 340.72,296.55 340.72,299.68" fill="#8a00ff"/>
<polygon points="349.00,299.45 346.36,297.88 346.36,301.02" fill="#8a00ff"/>
<polygon points="354.65,298.50 352.01,296.94 352.01,300.07" fill="#8a00ff"/>
<polygon points="360.30,297.61 357.66,296.04 357.66,299.18" fill="#8a00ff"/>
<polygon points="365.94,294.80 363.30,293.23 363.30,296.37" fill="#8a00ff"/>
<polygon points="371.59,293.88 368.95,292.31 368.95,295.45" fill="#8a00ff"/>
<polygon points="377.23,291.98 374.59,290.42 374.59,293.55" fill="#8a00ff"/>
<polygon points="382.88,291.98 380.24,290.42 380.24,293.55" fill="#8a00ff"/>
<polygon points="388.53,291.09 385.89,289.53 385.89,292.66" fill="#8a00ff"/>
<polygon points="394.17,290.20 391.53,288.63 391.53,291.77" fill="#8a00ff"/>
<polygon points="399.82,288.86 397.18,287.30 397.18,290.43" fill="#8a00ff"/>
<polygon points="405.47,288.39 402.83,286.82 402.83,289.96" fill="#8a00ff"/>
<polygon points="411.11,287.08 408.47,285.51 408.47,288.65" fill="#8a00ff"/>
<polygon points="416.76,285.52 414.12,283.95 414.12,287.09" fill="#8a00ff"/>
<polygon points="422.40,284.13 419.76,282.56 419.76,285.70" fill="#8a00ff"/>
<polygon points="428.05,282.87 425.41,281.31 425.41,284.44" fill="#8a00ff"/>
<circle cx="279.60" cy="353.30" r="1.35" fill="#ff0000"/>
<circle cx="285.25" cy="353.88" r="1.35" fill="#ff0000"/>
<circle cx="290.89" cy="354.34" r="1.35" fill="#ff0000"/>
<circle cx="296.54" cy="354.80" r="1.35" fill="#ff0000"/>
<circle cx="302.18" cy="354.89" r="1.35" fill="#ff0000"/>
<circle cx="307.83" cy="354.98" r="1.35" fill="#ff0000"/>
<circle cx="313.48" cy="355.07" r="1.35" fill="#ff0000"/>
<circle cx="319.12" cy="355.16" r="1.35" fill="#ff0000"/>
<circle cx="324.77" cy="355.26" r="1.35" fill="#ff0000"/>
<circle cx="330.42" cy="355.35" r="1.35" fill="#ff0000"/>
<circle cx="336.06" cy="355.44" r="1.35" fill="#ff0000"/>
<circle cx="341.71" cy="355.54" r="1.35" fill="#ff0000"/>
<circle cx="347.35" cy="355.63" r="1.35" fill="#ff0000"/>
<circle cx="353.00" cy="355.72" r="1.35" fill="#ff0000"/>
<circle cx="358.65" cy="355.72" r="1.35" fill="#ff0000"/>
<circle cx="364.29" cy="355.72" r="1.35" fill="#ff0000"/>
<circle cx="369.94" cy="355.72" r="1.35" fill="#ff0000"/>
<circle cx="375.58" cy="355.72" r="1.35" fill="#ff0000"/>
<circle cx="381.23" cy="355.72" r="1.35" fill="#ff0000"/>
<circle cx="386.88" cy="355.72" r="1.35" fill="#ff0000"/>
<circle cx="392.52" cy="355.72" r="1.35" fill="#ff0000"/>
<circle cx="398.17" cy="355.72" r="1.35" fill="#ff0000"/>
<circle cx="403.82" cy="355.47" r="1.35" fill="#ff0000"/>
<circle cx="409.46" cy="355.22" r="1.35" fill="#ff0000"/>
<circle cx="415.11" cy="354.97" r="1.35" fill="#ff0000"/>
<circle cx="420.75" cy="354.72" r="1.35" fill="#ff0000"/>
<circle cx="426.40" cy="352.99" r="1.35" fill="#ff0000"/>
<polygon points="277.95,291.15 280.59,289.58 280.59,292.72" fill="#000080"/>
<polygon points="283.60,294.35 286.24,292.78 286.24,295.92" fill="#000080"/>
<polygon points="289.24,297.28 291.88,295.71 291.88,298.84" fill="#000080"/>
<polygon points="294.89,298.61 297.53,297.05 297.53,300.18" fill="#000080"/>
<polygon points="300.53,299.87 303.17,298.30 303.17,301.44" fill="#000080"/>
<polygon points="306.18,301.68 308.82,300.11 308.82,303.25" fill="#000080"/>
<polygon points="311.83,302.79 314.47,301.23 314.47,304.36" fill="#000080"/>
<polygon points="317.47,304.07 320.11,302.51 320.11,305.64" fill="#000080"/>
<polygon points="323.12,305.02 325.76,303.45 325.76,306.59" fill="#000080"/>
<polygon points="328.77,306.50 331.41,304.93 331.41,308.07" fill="#000080"/>
<polygon points="334.41,307.25 337.05,305.68 337.05,308.82" fill="#000080"/>
<polygon points="340.06,307.81 342.70,306.24 342.70,309.37" fill="#000080"/>
<polygon points="345.70,308.36 348.34,306.80 348.34,309.93" fill="#000080"/>
<polygon points="351.35,308.70 353.99,307.13 353.99,310.27" fill="#000080"/>
<polygon points="357.00,309.09 359.64,307.52 359.64,310.66" fill="#000080"/>
<polygon points="362.64,308.36 365.28,306.80 365.28,309.93" fill="#000080"/>
<polygon points="368.29,307.81 370.93,306.24 370.93,309.37" fill="#000080"/>
<polygon points="373.93,306.97 376.57,305.40 376.57,308.54" fill="#000080"/>
<polygon points="379.58,306.00 382.22,304.43 382.22,307.56" fill="#000080"/>
<polygon points="385.23,305.02 387.87,303.45 387.87,306.59" fill="#000080"/>
<polygon points="390.87,304.19 393.51,302.62 393.51,305.75" fill="#000080"/>
<polygon points="396.52,302.79 399.16,301.23 399.16,304.36" fill="#000080"/>
<polygon points="402.17,300.98 404.81,299.41 404.81,302.55" fill="#000080"/>
<polygon points="407.81,299.17 410.45,297.60 410.45,300.74" fill="#000080"/>
<polygon points="413.46,297.28 416.10,295.71 416.10,298.84" fill="#000080"/>
<polygon points="419.10,294.85 421.74,293.29 421.74,296.42" fill="#000080"/>
<polygon points="424.75,292.49 427.39,290.92 427.39,294.05" fill="#000080"/>
<polygon points="279.60,324.22 278.03,321.58 281.17,321.58" fill="#ff00ff"/>
<polygon points="285.25,325.47 283.68,322.83 286.81,322.83" fill="#ff00ff"/>
<polygon points="290.89,327.01 289.32,324.37 292.46,324.37" fill="#ff00ff"/>
<polygon points="296.54,330.35 294.97,327.71 298.11,327.71" fill="#ff00ff"/>
<polygon points="302.18,331.60 300.62,328.96 303.75,328.96" fill="#ff00ff"/>
<polygon points="307.83,334.25 306.26,331.61 309.40,331.61" fill="#ff00ff"/>
<polygon points="313.48,335.20 311.91,332.56 315.04,332.56" fill="#ff00ff"/>
<polygon points="319.12,336.48 317.56,333.84 320.69,333.84" fill="#ff00ff"/>
<polygon points="324.77,337.09 323.20,334.45 326.34,334.45" fill="#ff00ff"/>
<polygon points="330.42,337.59 328.85,334.95 331.98,334.95" fill="#ff00ff"/>
<polygon points="336.06,337.59 334.49,334.95 337.63,334.95" fill="#ff00ff"/>
<polygon points="341.71,338.01 340.14,335.37 343.28,335.37" fill="#ff00ff"/>
<polygon points="347.35,338.43 345.79,335.79 348.92,335.79" fill="#ff00ff"/>
<polygon points="353.00,338.43 351.43,335.79 354.57,335.79" fill="#ff00ff"/>
<polygon points="358.65,338.99 357.08,336.35 360.21,336.35" fill="#ff00ff"/>
<polygon points="364.29,338.01 362.72,335.37 365.86,335.37" fill="#ff00ff"/>
<polygon points="369.94,337.09 368.37,334.45 371.51,334.45" fill="#ff00ff"/>
<polygon points="375.58,335.20 374.02,332.56 377.15,332.56" fill="#ff00ff"/>
<polygon points="381.23,334.25 379.66,331.61 382.80,331.61" fill="#ff00ff"/>
<polygon points="386.88,333.69 385.31,331.05 388.44,331.05" fill="#ff00ff"/>
<polygon points="392.52,332.86 390.96,330.22 394.09,330.22" fill="#ff00ff"/>
<polygon points="398.17,332.30 396.60,329.66 399.74,329.66" fill="#ff00ff"/>
<polygon points="403.82,332.02 402.25,329.38 405.38,329.38" fill="#ff00ff"/>
<polygon points="409.46,331.46 407.89,328.82 411.03,328.82" fill="#ff00ff"/>
<polygon points="415.11,330.35 413.54,327.71 416.68,327.71" fill="#ff00ff"/>
<polygon points="420.75,327.84 419.19,325.20 422.32,325.20" fill="#ff00ff"/>
<polygon points="426.40,325.47 424.83,322.83 427.97,322.83" fill="#ff00ff"/>
<circle cx="279.60" cy="278.84" r="1.35" fill="#800080"/>
<circle cx="285.25" cy="281.45" r="1.35" fill="#800080"/>
<circle cx="290.89" cy="284.69" r="1.35" fill="#800080"/>
<circle cx="296.54" cy="286.91" r="1.35" fill="#800080"/>
<circle cx="302.18" cy="288.03" r="1.35" fill="#800080"/>
<circle cx="307.83" cy="288.86" r="1.35" fill="#800080"/>
<circle cx="313.48" cy="290.26" r="1.35" fill="#800080"/>
<circle cx="319.12" cy="292.49" r="1.35" fill="#800080"/>
<circle cx="324.77" cy="293.60" r="1.35" fill="#800080"/>
<circle cx="330.42" cy="294.85" r="1.35" fill="#800080"/>
<circle cx="336.06" cy="295.83" r="1.35" fill="#800080"/>
<circle cx="341.71" cy="297.28" r="1.35" fill="#800080"/>
<circle cx="347.35" cy="298.61" r="1.35" fill="#800080"/>
<circle cx="353.00" cy="297.67" r="1.35" fill="#800080"/>
<circle cx="358.65" cy="296.78" r="1.35" fill="#800080"/>
<circle cx="364.29" cy="293.96" r="1.35" fill="#800080"/>
<circle cx="369.94" cy="293.04" r="1.35" fill="#800080"/>
<circle cx="375.58" cy="291.15" r="1.35" fill="#800080"/>
<circle cx="381.23" cy="291.15" r="1.35" fill="#800080"/>
<circle cx="386.88" cy="290.26" r="1.35" fill="#800080"/>
<circle cx="392.52" cy="289.37" r="1.35" fill="#800080"/>
<circle cx="398.17" cy="288.03" r="1.35" fill="#800080"/>
<circle cx="403.82" cy="287.55" r="1.35" fill="#800080"/>
<circle cx="409.46" cy="286.25" r="1.35" fill="#800080"/>
<circle cx="415.11" cy="284.69" r="1.35" fill="#800080"/>
<circle cx="420.75" cy="283.29" r="1.35" fill="#800080"/>
<circle cx="426.40" cy="282.04" r="1.35" fill="#800080"/>
<line x1="296.54" y1="359.90" x2="296.54" y2="357.90" stroke="#9a9a9a" stroke-width="0.9"/>
<text x="0" y="0" class="t" text-anchor="middle" transform="translate(296.54,370.90) scale(1,1.1)">-50</text>
<line x1="324.77" y1="359.90" x2="324.77" y2="357.90" stroke="#9a9a9a" stroke-width="0.9"/>
<text x="0" y="0" class="t" text-anchor="middle" transform="translate(324.77,370.90) scale(1,1.1)">-25</text>
<line x1="353.00" y1="359.90" x2="353.00" y2="357.90" stroke="#9a9a9a" stroke-width="0.9"/>
<text x="0" y="0" class="t" text-anchor="middle" transform="translate(353.00,370.90) scale(1,1.1)">0</text>
<line x1="381.23" y1="359.90" x2="381.23" y2="357.90" stroke="#9a9a9a" stroke-width="0.9"/>
<text x="0" y="0" class="t" text-anchor="middle" transform="translate(381.23,370.90) scale(1,1.1)">25</text>
<line x1="409.46" y1="359.90" x2="409.46" y2="357.90" stroke="#9a9a9a" stroke-width="0.9"/>
<text x="0" y="0" class="t" text-anchor="middle" transform="translate(409.46,370.90) scale(1,1.1)">50</text>
<line x1="282.42" y1="359.90" x2="282.42" y2="358.70" stroke="#9a9a9a" stroke-width="0.8"/>
<line x1="310.65" y1="359.90" x2="310.65" y2="358.70" stroke="#9a9a9a" stroke-width="0.8"/>
<line x1="338.88" y1="359.90" x2="338.88" y2="358.70" stroke="#9a9a9a" stroke-width="0.8"/>
<line x1="367.12" y1="359.90" x2="367.12" y2="358.70" stroke="#9a9a9a" stroke-width="0.8"/>
<line x1="395.35" y1="359.90" x2="395.35" y2="358.70" stroke="#9a9a9a" stroke-width="0.8"/>
<line x1="423.58" y1="359.90" x2="423.58" y2="358.70" stroke="#9a9a9a" stroke-width="0.8"/>
<line x1="279.60" y1="359.90" x2="281.60" y2="359.90" stroke="#9a9a9a" stroke-width="0.9"/>
<text x="0" y="0" class="t" text-anchor="end" transform="translate(277.00,363.30) scale(1,1.1)">0.0</text>
<line x1="279.60" y1="332.04" x2="281.60" y2="332.04" stroke="#9a9a9a" stroke-width="0.9"/>
<text x="0" y="0" class="t" text-anchor="end" transform="translate(277.00,335.44) scale(1,1.1)">0.1</text>
<line x1="279.60" y1="304.19" x2="281.60" y2="304.19" stroke="#9a9a9a" stroke-width="0.9"/>
<text x="0" y="0" class="t" text-anchor="end" transform="translate(277.00,307.59) scale(1,1.1)">0.2</text>
<line x1="279.60" y1="276.33" x2="281.60" y2="276.33" stroke="#9a9a9a" stroke-width="0.9"/>
<text x="0" y="0" class="t" text-anchor="end" transform="translate(277.00,279.73) scale(1,1.1)">0.3</text>
<line x1="279.60" y1="345.97" x2="280.80" y2="345.97" stroke="#9a9a9a" stroke-width="0.8"/>
<line x1="279.60" y1="318.11" x2="280.80" y2="318.11" stroke="#9a9a9a" stroke-width="0.8"/>
<line x1="279.60" y1="290.26" x2="280.80" y2="290.26" stroke="#9a9a9a" stroke-width="0.8"/>
<line x1="279.60" y1="262.40" x2="280.80" y2="262.40" stroke="#9a9a9a" stroke-width="0.8"/>
<text x="223.90" y="270.20" class="pl">(f)</text>
<text x="0" y="0" class="al" text-anchor="middle" transform="translate(252.90,318.90) rotate(-90)">Reflectance</text>
<text x="0" y="0" class="al" text-anchor="middle" transform="translate(353.10,386.10) scale(1,1.1)">VZA (&#176;)</text>
<line x1="57.20" y1="487.60" x2="205.20" y2="487.60" stroke="#8a8a8a" stroke-width="1.1"/>
<line x1="57.20" y1="488.10" x2="57.20" y2="389.10" stroke="#b2b2b2" stroke-width="1.4"/>
<path d="M57.20,463.42 L62.89,464.70 L68.58,465.29 L74.28,465.83 L79.97,466.23 L85.66,466.23 L91.35,465.29 L97.05,465.44 L102.74,465.19 L108.43,465.83 L114.12,467.70 L119.82,469.53 L125.51,471.40 L131.20,471.69 L136.89,473.22 L142.58,474.50 L148.28,474.99 L153.97,475.78 L159.66,476.27 L165.35,476.86 L171.05,477.21 L176.74,477.60 L182.43,477.21 L188.12,476.52 L193.82,475.04 L199.51,473.56 L205.20,471.40" fill="none" stroke="#c4c4c4" stroke-width="0.7"/>
<path d="M57.20,427.61 L62.89,428.50 L68.58,429.09 L74.28,429.39 L79.97,429.09 L85.66,426.09 L91.35,424.81 L97.05,422.39 L102.74,419.88 L108.43,422.98 L114.12,428.50 L119.82,436.82 L125.51,443.77 L131.20,447.41 L136.89,449.19 L142.58,451.40 L148.28,453.62 L153.97,454.80 L159.66,455.34 L165.35,455.83 L171.05,456.33 L176.74,456.82 L182.43,457.31 L188.12,456.82 L193.82,456.08 L199.51,455.10 L205.20,453.12" fill="none" stroke="#b0dcb0" stroke-width="0.7"/>
<path d="M57.20,440.12 L62.89,441.40 L68.58,442.29 L74.28,443.18 L79.97,443.18 L85.66,440.81 L91.35,439.48 L97.05,438.60 L102.74,438.60 L108.43,441.40 L114.12,446.92 L119.82,451.50 L125.51,455.19 L131.20,458.49 L136.89,460.71 L142.58,463.42 L148.28,466.23 L153.97,468.39 L159.66,469.53 L165.35,469.92 L171.05,469.92 L176.74,468.98 L182.43,467.70 L188.12,465.83 L193.82,464.70 L199.51,463.42 L205.20,461.60" fill="none" stroke="#b8b8ff" stroke-width="0.7"/>
<path d="M57.20,433.13 L62.89,434.02 L68.58,434.61 L74.28,434.61 L79.97,434.90 L85.66,434.61 L91.35,433.52 L97.05,432.19 L102.74,433.13 L108.43,434.61 L114.12,438.60 L119.82,441.40 L125.51,445.10 L131.20,446.92 L136.89,449.19 L142.58,452.14 L148.28,454.11 L153.97,455.10 L159.66,455.59 L165.35,456.33 L171.05,456.82 L176.74,457.31 L182.43,457.56 L188.12,457.31 L193.82,456.57 L199.51,455.10 L205.20,453.12" fill="none" stroke="#d8b8ff" stroke-width="0.7"/>
<path d="M57.20,453.27 L62.89,454.80 L68.58,459.18 L74.28,464.40 L79.97,466.23 L85.66,466.62 L91.35,465.29 L97.05,465.29 L102.74,464.70 L108.43,465.83 L114.12,467.70 L119.82,469.53 L125.51,471.40 L131.20,471.69 L136.89,473.22 L142.58,474.50 L148.28,474.99 L153.97,475.78 L159.66,476.27 L165.35,476.86 L171.05,477.21 L176.74,477.60 L182.43,477.21 L188.12,476.27 L193.82,474.50 L199.51,472.09 L205.20,468.98" fill="none" stroke="#ffb8b8" stroke-width="0.7"/>
<path d="M57.20,421.70 L62.89,428.50 L68.58,429.39 L74.28,429.24 L79.97,429.39 L85.66,426.09 L91.35,424.81 L97.05,421.11 L102.74,418.80 L108.43,420.18 L114.12,428.50 L119.82,434.02 L125.51,443.77 L131.20,445.10 L136.89,448.20 L142.58,451.11 L148.28,453.27 L153.97,454.31 L159.66,454.80 L165.35,455.49 L171.05,456.08 L176.74,456.57 L182.43,457.02 L188.12,456.57 L193.82,455.49 L199.51,453.72 L205.20,449.68" fill="none" stroke="#b8b8e0" stroke-width="0.7"/>
<path d="M57.20,440.81 L62.89,441.90 L68.58,442.68 L74.28,443.77 L79.97,443.77 L85.66,445.59 L91.35,442.29 L97.05,438.60 L102.74,437.71 L108.43,439.48 L114.12,443.77 L119.82,448.69 L125.51,452.39 L131.20,454.31 L136.89,457.90 L142.58,460.71 L148.28,465.83 L153.97,468.39 L159.66,469.53 L165.35,469.92 L171.05,470.31 L176.74,469.53 L182.43,468.15 L188.12,465.83 L193.82,464.95 L199.51,463.42 L205.20,461.60" fill="none" stroke="#ffb8ff" stroke-width="0.7"/>
<path d="M57.20,427.61 L62.89,429.09 L68.58,429.83 L74.28,434.02 L79.97,433.52 L85.66,434.61 L91.35,433.52 L97.05,432.19 L102.74,433.13 L108.43,434.02 L114.12,438.99 L119.82,441.90 L125.51,444.11 L131.20,445.98 L136.89,448.20 L142.58,451.11 L148.28,453.27 L153.97,454.31 L159.66,454.80 L165.35,455.49 L171.05,456.08 L176.74,456.57 L182.43,457.02 L188.12,456.57 L193.82,455.49 L199.51,453.72 L205.20,452.14" fill="none" stroke="#dcb4dc" stroke-width="0.7"/>
<circle cx="57.20" cy="463.42" r="1.35" fill="#000000"/>
<circle cx="62.89" cy="464.70" r="1.35" fill="#000000"/>
<circle cx="68.58" cy="465.29" r="1.35" fill="#000000"/>
<circle cx="74.28" cy="465.83" r="1.35" fill="#000000"/>
<circle cx="79.97" cy="466.23" r="1.35" fill="#000000"/>
<circle cx="85.66" cy="466.23" r="1.35" fill="#000000"/>
<circle cx="91.35" cy="465.29" r="1.35" fill="#000000"/>
<circle cx="97.05" cy="465.44" r="1.35" fill="#000000"/>
<circle cx="102.74" cy="465.19" r="1.35" fill="#000000"/>
<circle cx="108.43" cy="465.83" r="1.35" fill="#000000"/>
<circle cx="114.12" cy="467.70" r="1.35" fill="#000000"/>
<circle cx="119.82" cy="469.53" r="1.35" fill="#000000"/>
<circle cx="125.51" cy="471.40" r="1.35" fill="#000000"/>
<circle cx="131.20" cy="471.69" r="1.35" fill="#000000"/>
<circle cx="136.89" cy="473.22" r="1.35" fill="#000000"/>
<circle cx="142.58" cy="474.50" r="1.35" fill="#000000"/>
<circle cx="148.28" cy="474.99" r="1.35" fill="#000000"/>
<circle cx="153.97" cy="475.78" r="1.35" fill="#000000"/>
<circle cx="159.66" cy="476.27" r="1.35" fill="#000000"/>
<circle cx="165.35" cy="476.86" r="1.35" fill="#000000"/>
<circle cx="171.05" cy="477.21" r="1.35" fill="#000000"/>
<circle cx="176.74" cy="477.60" r="1.35" fill="#000000"/>
<circle cx="182.43" cy="477.21" r="1.35" fill="#000000"/>
<circle cx="188.12" cy="476.52" r="1.35" fill="#000000"/>
<circle cx="193.82" cy="475.04" r="1.35" fill="#000000"/>
<circle cx="199.51" cy="473.56" r="1.35" fill="#000000"/>
<circle cx="205.20" cy="471.40" r="1.35" fill="#000000"/>
<circle cx="57.20" cy="427.61" r="1.35" fill="#008000"/>
<circle cx="62.89" cy="428.50" r="1.35" fill="#008000"/>
<circle cx="68.58" cy="429.09" r="1.35" fill="#008000"/>
<circle cx="74.28" cy="429.39" r="1.35" fill="#008000"/>
<circle cx="79.97" cy="429.09" r="1.35" fill="#008000"/>
<circle cx="85.66" cy="426.09" r="1.35" fill="#008000"/>
<circle cx="91.35" cy="424.81" r="1.35" fill="#008000"/>
<circle cx="97.05" cy="422.39" r="1.35" fill="#008000"/>
<circle cx="102.74" cy="419.88" r="1.35" fill="#008000"/>
<circle cx="108.43" cy="422.98" r="1.35" fill="#008000"/>
<circle cx="114.12" cy="428.50" r="1.35" fill="#008000"/>
<circle cx="119.82" cy="436.82" r="1.35" fill="#008000"/>
<circle cx="125.51" cy="443.77" r="1.35" fill="#008000"/>
<circle cx="131.20" cy="447.41" r="1.35" fill="#008000"/>
<circle cx="136.89" cy="449.19" r="1.35" fill="#008000"/>
<circle cx="142.58" cy="451.40" r="1.35" fill="#008000"/>
<circle cx="148.28" cy="453.62" r="1.35" fill="#008000"/>
<circle cx="153.97" cy="454.80" r="1.35" fill="#008000"/>
<circle cx="159.66" cy="455.34" r="1.35" fill="#008000"/>
<circle cx="165.35" cy="455.83" r="1.35" fill="#008000"/>
<circle cx="171.05" cy="456.33" r="1.35" fill="#008000"/>
<circle cx="176.74" cy="456.82" r="1.35" fill="#008000"/>
<circle cx="182.43" cy="457.31" r="1.35" fill="#008000"/>
<circle cx="188.12" cy="456.82" r="1.35" fill="#008000"/>
<circle cx="193.82" cy="456.08" r="1.35" fill="#008000"/>
<circle cx="199.51" cy="455.10" r="1.35" fill="#008000"/>
<circle cx="205.20" cy="453.12" r="1.35" fill="#008000"/>
<polygon points="57.20,438.47 55.63,441.11 58.77,441.11" fill="#0000ff"/>
<polygon points="62.89,439.75 61.32,442.39 64.46,442.39" fill="#0000ff"/>
<polygon points="68.58,440.64 67.02,443.28 70.15,443.28" fill="#0000ff"/>
<polygon points="74.28,441.53 72.71,444.17 75.84,444.17" fill="#0000ff"/>
<polygon points="79.97,441.53 78.40,444.17 81.54,444.17" fill="#0000ff"/>
<polygon points="85.66,439.16 84.09,441.80 87.23,441.80" fill="#0000ff"/>
<polygon points="91.35,437.83 89.79,440.47 92.92,440.47" fill="#0000ff"/>
<polygon points="97.05,436.95 95.48,439.59 98.61,439.59" fill="#0000ff"/>
<polygon points="102.74,436.95 101.17,439.59 104.31,439.59" fill="#0000ff"/>
<polygon points="108.43,439.75 106.86,442.39 110.00,442.39" fill="#0000ff"/>
<polygon points="114.12,445.27 112.56,447.91 115.69,447.91" fill="#0000ff"/>
<polygon points="119.82,449.85 118.25,452.49 121.38,452.49" fill="#0000ff"/>
<polygon points="125.51,453.54 123.94,456.18 127.08,456.18" fill="#0000ff"/>
<polygon points="131.20,456.84 129.63,459.48 132.77,459.48" fill="#0000ff"/>
<polygon points="136.89,459.06 135.32,461.70 138.46,461.70" fill="#0000ff"/>
<polygon points="142.58,461.77 141.02,464.41 144.15,464.41" fill="#0000ff"/>
<polygon points="148.28,464.58 146.71,467.22 149.84,467.22" fill="#0000ff"/>
<polygon points="153.97,466.74 152.40,469.38 155.54,469.38" fill="#0000ff"/>
<polygon points="159.66,467.88 158.09,470.52 161.23,470.52" fill="#0000ff"/>
<polygon points="165.35,468.27 163.79,470.91 166.92,470.91" fill="#0000ff"/>
<polygon points="171.05,468.27 169.48,470.91 172.61,470.91" fill="#0000ff"/>
<polygon points="176.74,467.33 175.17,469.97 178.31,469.97" fill="#0000ff"/>
<polygon points="182.43,466.05 180.86,468.69 184.00,468.69" fill="#0000ff"/>
<polygon points="188.12,464.18 186.56,466.82 189.69,466.82" fill="#0000ff"/>
<polygon points="193.82,463.05 192.25,465.69 195.38,465.69" fill="#0000ff"/>
<polygon points="199.51,461.77 197.94,464.41 201.08,464.41" fill="#0000ff"/>
<polygon points="205.20,459.95 203.63,462.59 206.77,462.59" fill="#0000ff"/>
<polygon points="58.85,433.13 56.21,431.56 56.21,434.70" fill="#8a00ff"/>
<polygon points="64.54,434.02 61.90,432.45 61.90,435.58" fill="#8a00ff"/>
<polygon points="70.23,434.61 67.59,433.04 67.59,436.17" fill="#8a00ff"/>
<polygon points="75.93,434.61 73.29,433.04 73.29,436.17" fill="#8a00ff"/>
<polygon points="81.62,434.90 78.98,433.34 78.98,436.47" fill="#8a00ff"/>
<polygon points="87.31,434.61 84.67,433.04 84.67,436.17" fill="#8a00ff"/>
<polygon points="93.00,433.52 90.36,431.96 90.36,435.09" fill="#8a00ff"/>
<polygon points="98.70,432.19 96.06,430.63 96.06,433.76" fill="#8a00ff"/>
<polygon points="104.39,433.13 101.75,431.56 101.75,434.70" fill="#8a00ff"/>
<polygon points="110.08,434.61 107.44,433.04 107.44,436.17" fill="#8a00ff"/>
<polygon points="115.77,438.60 113.13,437.03 113.13,440.16" fill="#8a00ff"/>
<polygon points="121.47,441.40 118.83,439.84 118.83,442.97" fill="#8a00ff"/>
<polygon points="127.16,445.10 124.52,443.53 124.52,446.66" fill="#8a00ff"/>
<polygon points="132.85,446.92 130.21,445.35 130.21,448.49" fill="#8a00ff"/>
<polygon points="138.54,449.19 135.90,447.62 135.90,450.75" fill="#8a00ff"/>
<polygon points="144.23,452.14 141.59,450.57 141.59,453.71" fill="#8a00ff"/>
<polygon points="149.93,454.11 147.29,452.54 147.29,455.68" fill="#8a00ff"/>
<polygon points="155.62,455.10 152.98,453.53 152.98,456.66" fill="#8a00ff"/>
<polygon points="161.31,455.59 158.67,454.02 158.67,457.16" fill="#8a00ff"/>
<polygon points="167.00,456.33 164.36,454.76 164.36,457.89" fill="#8a00ff"/>
<polygon points="172.70,456.82 170.06,455.25 170.06,458.39" fill="#8a00ff"/>
<polygon points="178.39,457.31 175.75,455.74 175.75,458.88" fill="#8a00ff"/>
<polygon points="184.08,457.56 181.44,455.99 181.44,459.12" fill="#8a00ff"/>
<polygon points="189.77,457.31 187.13,455.74 187.13,458.88" fill="#8a00ff"/>
<polygon points="195.47,456.57 192.83,455.00 192.83,458.14" fill="#8a00ff"/>
<polygon points="201.16,455.10 198.52,453.53 198.52,456.66" fill="#8a00ff"/>
<polygon points="206.85,453.12 204.21,451.56 204.21,454.69" fill="#8a00ff"/>
<circle cx="57.20" cy="453.27" r="1.35" fill="#ff0000"/>
<circle cx="62.89" cy="454.80" r="1.35" fill="#ff0000"/>
<circle cx="68.58" cy="459.18" r="1.35" fill="#ff0000"/>
<circle cx="74.28" cy="464.40" r="1.35" fill="#ff0000"/>
<circle cx="79.97" cy="466.23" r="1.35" fill="#ff0000"/>
<circle cx="85.66" cy="466.62" r="1.35" fill="#ff0000"/>
<circle cx="91.35" cy="465.29" r="1.35" fill="#ff0000"/>
<circle cx="97.05" cy="465.29" r="1.35" fill="#ff0000"/>
<circle cx="102.74" cy="464.70" r="1.35" fill="#ff0000"/>
<circle cx="108.43" cy="465.83" r="1.35" fill="#ff0000"/>
<circle cx="114.12" cy="467.70" r="1.35" fill="#ff0000"/>
<circle cx="119.82" cy="469.53" r="1.35" fill="#ff0000"/>
<circle cx="125.51" cy="471.40" r="1.35" fill="#ff0000"/>
<circle cx="131.20" cy="471.69" r="1.35" fill="#ff0000"/>
<circle cx="136.89" cy="473.22" r="1.35" fill="#ff0000"/>
<circle cx="142.58" cy="474.50" r="1.35" fill="#ff0000"/>
<circle cx="148.28" cy="474.99" r="1.35" fill="#ff0000"/>
<circle cx="153.97" cy="475.78" r="1.35" fill="#ff0000"/>
<circle cx="159.66" cy="476.27" r="1.35" fill="#ff0000"/>
<circle cx="165.35" cy="476.86" r="1.35" fill="#ff0000"/>
<circle cx="171.05" cy="477.21" r="1.35" fill="#ff0000"/>
<circle cx="176.74" cy="477.60" r="1.35" fill="#ff0000"/>
<circle cx="182.43" cy="477.21" r="1.35" fill="#ff0000"/>
<circle cx="188.12" cy="476.27" r="1.35" fill="#ff0000"/>
<circle cx="193.82" cy="474.50" r="1.35" fill="#ff0000"/>
<circle cx="199.51" cy="472.09" r="1.35" fill="#ff0000"/>
<circle cx="205.20" cy="468.98" r="1.35" fill="#ff0000"/>
<polygon points="55.55,421.70 58.19,420.14 58.19,423.27" fill="#000080"/>
<polygon points="61.24,428.50 63.88,426.93 63.88,430.07" fill="#000080"/>
<polygon points="66.93,429.39 69.57,427.82 69.57,430.95" fill="#000080"/>
<polygon points="72.63,429.24 75.27,427.67 75.27,430.81" fill="#000080"/>
<polygon points="78.32,429.39 80.96,427.82 80.96,430.95" fill="#000080"/>
<polygon points="84.01,426.09 86.65,424.52 86.65,427.65" fill="#000080"/>
<polygon points="89.70,424.81 92.34,423.24 92.34,426.37" fill="#000080"/>
<polygon points="95.40,421.11 98.04,419.55 98.04,422.68" fill="#000080"/>
<polygon points="101.09,418.80 103.73,417.23 103.73,420.37" fill="#000080"/>
<polygon points="106.78,420.18 109.42,418.61 109.42,421.74" fill="#000080"/>
<polygon points="112.47,428.50 115.11,426.93 115.11,430.07" fill="#000080"/>
<polygon points="118.17,434.02 120.81,432.45 120.81,435.58" fill="#000080"/>
<polygon points="123.86,443.77 126.50,442.20 126.50,445.34" fill="#000080"/>
<polygon points="129.55,445.10 132.19,443.53 132.19,446.66" fill="#000080"/>
<polygon points="135.24,448.20 137.88,446.63 137.88,449.77" fill="#000080"/>
<polygon points="140.93,451.11 143.57,449.54 143.57,452.67" fill="#000080"/>
<polygon points="146.63,453.27 149.27,451.71 149.27,454.84" fill="#000080"/>
<polygon points="152.32,454.31 154.96,452.74 154.96,455.87" fill="#000080"/>
<polygon points="158.01,454.80 160.65,453.23 160.65,456.37" fill="#000080"/>
<polygon points="163.70,455.49 166.34,453.92 166.34,457.06" fill="#000080"/>
<polygon points="169.40,456.08 172.04,454.51 172.04,457.65" fill="#000080"/>
<polygon points="175.09,456.57 177.73,455.00 177.73,458.14" fill="#000080"/>
<polygon points="180.78,457.02 183.42,455.45 183.42,458.58" fill="#000080"/>
<polygon points="186.47,456.57 189.11,455.00 189.11,458.14" fill="#000080"/>
<polygon points="192.17,455.49 194.81,453.92 194.81,457.06" fill="#000080"/>
<polygon points="197.86,453.72 200.50,452.15 200.50,455.28" fill="#000080"/>
<polygon points="203.55,449.68 206.19,448.11 206.19,451.25" fill="#000080"/>
<polygon points="57.20,442.46 55.63,439.82 58.77,439.82" fill="#ff00ff"/>
<polygon points="62.89,443.55 61.32,440.91 64.46,440.91" fill="#ff00ff"/>
<polygon points="68.58,444.33 67.02,441.69 70.15,441.69" fill="#ff00ff"/>
<polygon points="74.28,445.42 72.71,442.78 75.84,442.78" fill="#ff00ff"/>
<polygon points="79.97,445.42 78.40,442.78 81.54,442.78" fill="#ff00ff"/>
<polygon points="85.66,447.24 84.09,444.60 87.23,444.60" fill="#ff00ff"/>
<polygon points="91.35,443.94 89.79,441.30 92.92,441.30" fill="#ff00ff"/>
<polygon points="97.05,440.25 95.48,437.61 98.61,437.61" fill="#ff00ff"/>
<polygon points="102.74,439.36 101.17,436.72 104.31,436.72" fill="#ff00ff"/>
<polygon points="108.43,441.13 106.86,438.49 110.00,438.49" fill="#ff00ff"/>
<polygon points="114.12,445.42 112.56,442.78 115.69,442.78" fill="#ff00ff"/>
<polygon points="119.82,450.34 118.25,447.70 121.38,447.70" fill="#ff00ff"/>
<polygon points="125.51,454.04 123.94,451.40 127.08,451.40" fill="#ff00ff"/>
<polygon points="131.20,455.96 129.63,453.32 132.77,453.32" fill="#ff00ff"/>
<polygon points="136.89,459.55 135.32,456.91 138.46,456.91" fill="#ff00ff"/>
<polygon points="142.58,462.36 141.02,459.72 144.15,459.72" fill="#ff00ff"/>
<polygon points="148.28,467.48 146.71,464.84 149.84,464.84" fill="#ff00ff"/>
<polygon points="153.97,470.04 152.40,467.40 155.54,467.40" fill="#ff00ff"/>
<polygon points="159.66,471.18 158.09,468.54 161.23,468.54" fill="#ff00ff"/>
<polygon points="165.35,471.57 163.79,468.93 166.92,468.93" fill="#ff00ff"/>
<polygon points="171.05,471.96 169.48,469.32 172.61,469.32" fill="#ff00ff"/>
<polygon points="176.74,471.18 175.17,468.54 178.31,468.54" fill="#ff00ff"/>
<polygon points="182.43,469.80 180.86,467.16 184.00,467.16" fill="#ff00ff"/>
<polygon points="188.12,467.48 186.56,464.84 189.69,464.84" fill="#ff00ff"/>
<polygon points="193.82,466.60 192.25,463.96 195.38,463.96" fill="#ff00ff"/>
<polygon points="199.51,465.07 197.94,462.43 201.08,462.43" fill="#ff00ff"/>
<polygon points="205.20,463.25 203.63,460.61 206.77,460.61" fill="#ff00ff"/>
<circle cx="57.20" cy="427.61" r="1.35" fill="#800080"/>
<circle cx="62.89" cy="429.09" r="1.35" fill="#800080"/>
<circle cx="68.58" cy="429.83" r="1.35" fill="#800080"/>
<circle cx="74.28" cy="434.02" r="1.35" fill="#800080"/>
<circle cx="79.97" cy="433.52" r="1.35" fill="#800080"/>
<circle cx="85.66" cy="434.61" r="1.35" fill="#800080"/>
<circle cx="91.35" cy="433.52" r="1.35" fill="#800080"/>
<circle cx="97.05" cy="432.19" r="1.35" fill="#800080"/>
<circle cx="102.74" cy="433.13" r="1.35" fill="#800080"/>
<circle cx="108.43" cy="434.02" r="1.35" fill="#800080"/>
<circle cx="114.12" cy="438.99" r="1.35" fill="#800080"/>
<circle cx="119.82" cy="441.90" r="1.35" fill="#800080"/>
<circle cx="125.51" cy="444.11" r="1.35" fill="#800080"/>
<circle cx="131.20" cy="445.98" r="1.35" fill="#800080"/>
<circle cx="136.89" cy="448.20" r="1.35" fill="#800080"/>
<circle cx="142.58" cy="451.11" r="1.35" fill="#800080"/>
<circle cx="148.28" cy="453.27" r="1.35" fill="#800080"/>
<circle cx="153.97" cy="454.31" r="1.35" fill="#800080"/>
<circle cx="159.66" cy="454.80" r="1.35" fill="#800080"/>
<circle cx="165.35" cy="455.49" r="1.35" fill="#800080"/>
<circle cx="171.05" cy="456.08" r="1.35" fill="#800080"/>
<circle cx="176.74" cy="456.57" r="1.35" fill="#800080"/>
<circle cx="182.43" cy="457.02" r="1.35" fill="#800080"/>
<circle cx="188.12" cy="456.57" r="1.35" fill="#800080"/>
<circle cx="193.82" cy="455.49" r="1.35" fill="#800080"/>
<circle cx="199.51" cy="453.72" r="1.35" fill="#800080"/>
<circle cx="205.20" cy="452.14" r="1.35" fill="#800080"/>
<line x1="74.28" y1="487.60" x2="74.28" y2="485.60" stroke="#9a9a9a" stroke-width="0.9"/>
<text x="0" y="0" class="t" text-anchor="middle" transform="translate(74.28,498.60) scale(1,1.1)">-50</text>
<line x1="102.74" y1="487.60" x2="102.74" y2="485.60" stroke="#9a9a9a" stroke-width="0.9"/>
<text x="0" y="0" class="t" text-anchor="middle" transform="translate(102.74,498.60) scale(1,1.1)">-25</text>
<line x1="131.20" y1="487.60" x2="131.20" y2="485.60" stroke="#9a9a9a" stroke-width="0.9"/>
<text x="0" y="0" class="t" text-anchor="middle" transform="translate(131.20,498.60) scale(1,1.1)">0</text>
<line x1="159.66" y1="487.60" x2="159.66" y2="485.60" stroke="#9a9a9a" stroke-width="0.9"/>
<text x="0" y="0" class="t" text-anchor="middle" transform="translate(159.66,498.60) scale(1,1.1)">25</text>
<line x1="188.12" y1="487.60" x2="188.12" y2="485.60" stroke="#9a9a9a" stroke-width="0.9"/>
<text x="0" y="0" class="t" text-anchor="middle" transform="translate(188.12,498.60) scale(1,1.1)">50</text>
<line x1="60.05" y1="487.60" x2="60.05" y2="486.40" stroke="#9a9a9a" stroke-width="0.8"/>
<line x1="88.51" y1="487.60" x2="88.51" y2="486.40" stroke="#9a9a9a" stroke-width="0.8"/>
<line x1="116.97" y1="487.60" x2="116.97" y2="486.40" stroke="#9a9a9a" stroke-width="0.8"/>
<line x1="145.43" y1="487.60" x2="145.43" y2="486.40" stroke="#9a9a9a" stroke-width="0.8"/>
<line x1="173.89" y1="487.60" x2="173.89" y2="486.40" stroke="#9a9a9a" stroke-width="0.8"/>
<line x1="202.35" y1="487.60" x2="202.35" y2="486.40" stroke="#9a9a9a" stroke-width="0.8"/>
<line x1="57.20" y1="487.60" x2="59.20" y2="487.60" stroke="#9a9a9a" stroke-width="0.9"/>
<text x="0" y="0" class="t" text-anchor="end" transform="translate(54.60,491.00) scale(1,1.1)">0.10</text>
<line x1="57.20" y1="462.98" x2="59.20" y2="462.98" stroke="#9a9a9a" stroke-width="0.9"/>
<text x="0" y="0" class="t" text-anchor="end" transform="translate(54.60,466.38) scale(1,1.1)">0.15</text>
<line x1="57.20" y1="438.35" x2="59.20" y2="438.35" stroke="#9a9a9a" stroke-width="0.9"/>
<text x="0" y="0" class="t" text-anchor="end" transform="translate(54.60,441.75) scale(1,1.1)">0.20</text>
<line x1="57.20" y1="413.73" x2="59.20" y2="413.73" stroke="#9a9a9a" stroke-width="0.9"/>
<text x="0" y="0" class="t" text-anchor="end" transform="translate(54.60,417.12) scale(1,1.1)">0.25</text>
<line x1="57.20" y1="389.10" x2="59.20" y2="389.10" stroke="#9a9a9a" stroke-width="0.9"/>
<text x="0" y="0" class="t" text-anchor="end" transform="translate(54.60,392.50) scale(1,1.1)">0.30</text>
<line x1="57.20" y1="475.29" x2="58.40" y2="475.29" stroke="#9a9a9a" stroke-width="0.8"/>
<line x1="57.20" y1="450.66" x2="58.40" y2="450.66" stroke="#9a9a9a" stroke-width="0.8"/>
<line x1="57.20" y1="426.04" x2="58.40" y2="426.04" stroke="#9a9a9a" stroke-width="0.8"/>
<line x1="57.20" y1="401.41" x2="58.40" y2="401.41" stroke="#9a9a9a" stroke-width="0.8"/>
<line x1="57.20" y1="389.10" x2="58.40" y2="389.10" stroke="#9a9a9a" stroke-width="0.8"/>
<text x="3.10" y="396.10" class="pl">(g)</text>
<text x="0" y="0" class="al" text-anchor="middle" transform="translate(31.10,443.20) rotate(-90)">Reflectance</text>
<text x="0" y="0" class="al" text-anchor="middle" transform="translate(130.90,511.50) scale(1,1.1)">VZA (&#176;)</text>
<line x1="279.60" y1="485.50" x2="424.00" y2="485.50" stroke="#8a8a8a" stroke-width="1.1"/>
<line x1="279.60" y1="486.00" x2="279.60" y2="388.30" stroke="#b2b2b2" stroke-width="1.4"/>
<path d="M279.60,478.92 L285.15,479.21 L290.71,479.51 L296.26,479.81 L301.82,480.03 L307.37,480.25 L312.92,480.47 L318.48,480.70 L324.03,480.78 L329.58,480.86 L335.14,480.95 L340.69,481.03 L346.25,481.11 L351.80,481.20 L357.35,481.20 L362.91,481.20 L368.46,481.20 L374.02,481.20 L379.57,481.20 L385.12,481.20 L390.68,480.95 L396.23,480.70 L401.78,480.25 L407.34,479.81 L412.89,479.36 L418.45,478.92 L424.00,477.92" fill="none" stroke="#c4c4c4" stroke-width="0.7"/>
<path d="M279.60,418.57 L285.15,419.18 L290.71,420.51 L296.26,420.96 L301.82,423.38 L307.37,423.85 L312.92,425.57 L318.48,427.07 L324.03,428.85 L329.58,431.07 L335.14,432.04 L340.69,432.57 L346.25,434.76 L351.80,434.76 L357.35,434.40 L362.91,432.57 L368.46,431.07 L374.02,429.68 L379.57,428.85 L385.12,427.46 L390.68,426.46 L396.23,425.24 L401.78,424.40 L407.34,423.38 L412.89,421.90 L418.45,420.96 L424.00,419.18" fill="none" stroke="#b0dcb0" stroke-width="0.7"/>
<path d="M279.60,447.23 L285.15,449.40 L290.71,450.42 L296.26,452.17 L301.82,452.73 L307.37,454.67 L312.92,455.92 L318.48,457.23 L324.03,458.62 L329.58,460.12 L335.14,460.78 L340.69,461.42 L346.25,462.31 L351.80,461.89 L357.35,462.31 L362.91,461.89 L368.46,460.81 L374.02,460.12 L379.57,458.62 L385.12,457.73 L390.68,455.92 L396.23,454.67 L401.78,453.15 L407.34,450.92 L412.89,449.40 L418.45,447.65 L424.00,446.15" fill="none" stroke="#b8b8ff" stroke-width="0.7"/>
<path d="M279.60,408.18 L285.15,409.41 L290.71,411.35 L296.26,413.57 L301.82,414.52 L307.37,415.79 L312.92,416.90 L318.48,418.13 L324.03,419.13 L329.58,420.51 L335.14,421.35 L340.69,421.79 L346.25,424.21 L351.80,424.96 L357.35,422.74 L362.91,421.35 L368.46,420.01 L374.02,420.01 L379.57,418.71 L385.12,418.13 L390.68,417.18 L396.23,415.79 L401.78,414.52 L407.34,413.57 L412.89,412.18 L418.45,410.24 L424.00,408.41" fill="none" stroke="#d8b8ff" stroke-width="0.7"/>
<path d="M279.60,478.92 L285.15,479.21 L290.71,479.51 L296.26,479.81 L301.82,480.03 L307.37,480.25 L312.92,480.47 L318.48,480.70 L324.03,480.78 L329.58,480.86 L335.14,480.95 L340.69,481.03 L346.25,481.11 L351.80,481.20 L357.35,481.20 L362.91,481.20 L368.46,481.20 L374.02,481.20 L379.57,481.20 L385.12,481.20 L390.68,480.95 L396.23,480.70 L401.78,480.25 L407.34,479.81 L412.89,479.36 L418.45,478.92 L424.00,477.92" fill="none" stroke="#ffb8b8" stroke-width="0.7"/>
<path d="M279.60,416.07 L285.15,419.18 L290.71,420.51 L296.26,420.96 L301.82,421.63 L307.37,420.96 L312.92,425.57 L318.48,427.07 L324.03,428.85 L329.58,429.26 L335.14,430.79 L340.69,432.57 L346.25,434.76 L351.80,434.76 L357.35,434.40 L362.91,432.57 L368.46,431.07 L374.02,429.68 L379.57,428.85 L385.12,427.46 L390.68,426.46 L396.23,425.24 L401.78,423.85 L407.34,420.96 L412.89,420.10 L418.45,419.18 L424.00,417.88" fill="none" stroke="#b8b8e0" stroke-width="0.7"/>
<path d="M279.60,447.23 L285.15,449.40 L290.71,450.42 L296.26,452.17 L301.82,452.73 L307.37,454.67 L312.92,455.92 L318.48,457.23 L324.03,458.62 L329.58,461.42 L335.14,461.62 L340.69,464.12 L346.25,465.12 L351.80,463.84 L357.35,462.31 L362.91,461.89 L368.46,460.81 L374.02,460.12 L379.57,458.62 L385.12,457.73 L390.68,455.92 L396.23,454.67 L401.78,453.15 L407.34,450.92 L412.89,449.40 L418.45,447.65 L424.00,444.40" fill="none" stroke="#ffb8ff" stroke-width="0.7"/>
<path d="M279.60,406.35 L285.15,408.30 L290.71,410.52 L296.26,412.74 L301.82,413.68 L307.37,414.96 L312.92,416.07 L318.48,417.29 L324.03,418.29 L329.58,419.68 L335.14,420.51 L340.69,420.96 L346.25,423.38 L351.80,424.13 L357.35,421.90 L362.91,420.51 L368.46,419.18 L374.02,419.18 L379.57,417.88 L385.12,417.29 L390.68,416.35 L396.23,414.96 L401.78,413.68 L407.34,412.74 L412.89,411.35 L418.45,409.41 L424.00,407.57" fill="none" stroke="#dcb4dc" stroke-width="0.7"/>
<circle cx="279.60" cy="478.92" r="1.35" fill="#000000"/>
<circle cx="285.15" cy="479.21" r="1.35" fill="#000000"/>
<circle cx="290.71" cy="479.51" r="1.35" fill="#000000"/>
<circle cx="296.26" cy="479.81" r="1.35" fill="#000000"/>
<circle cx="301.82" cy="480.03" r="1.35" fill="#000000"/>
<circle cx="307.37" cy="480.25" r="1.35" fill="#000000"/>
<circle cx="312.92" cy="480.47" r="1.35" fill="#000000"/>
<circle cx="318.48" cy="480.70" r="1.35" fill="#000000"/>
<circle cx="324.03" cy="480.78" r="1.35" fill="#000000"/>
<circle cx="329.58" cy="480.86" r="1.35" fill="#000000"/>
<circle cx="335.14" cy="480.95" r="1.35" fill="#000000"/>
<circle cx="340.69" cy="481.03" r="1.35" fill="#000000"/>
<circle cx="346.25" cy="481.11" r="1.35" fill="#000000"/>
<circle cx="351.80" cy="481.20" r="1.35" fill="#000000"/>
<circle cx="357.35" cy="481.20" r="1.35" fill="#000000"/>
<circle cx="362.91" cy="481.20" r="1.35" fill="#000000"/>
<circle cx="368.46" cy="481.20" r="1.35" fill="#000000"/>
<circle cx="374.02" cy="481.20" r="1.35" fill="#000000"/>
<circle cx="379.57" cy="481.20" r="1.35" fill="#000000"/>
<circle cx="385.12" cy="481.20" r="1.35" fill="#000000"/>
<circle cx="390.68" cy="480.95" r="1.35" fill="#000000"/>
<circle cx="396.23" cy="480.70" r="1.35" fill="#000000"/>
<circle cx="401.78" cy="480.25" r="1.35" fill="#000000"/>
<circle cx="407.34" cy="479.81" r="1.35" fill="#000000"/>
<circle cx="412.89" cy="479.36" r="1.35" fill="#000000"/>
<circle cx="418.45" cy="478.92" r="1.35" fill="#000000"/>
<circle cx="424.00" cy="477.92" r="1.35" fill="#000000"/>
<circle cx="279.60" cy="418.57" r="1.35" fill="#008000"/>
<circle cx="285.15" cy="419.18" r="1.35" fill="#008000"/>
<circle cx="290.71" cy="420.51" r="1.35" fill="#008000"/>
<circle cx="296.26" cy="420.96" r="1.35" fill="#008000"/>
<circle cx="301.82" cy="423.38" r="1.35" fill="#008000"/>
<circle cx="307.37" cy="423.85" r="1.35" fill="#008000"/>
<circle cx="312.92" cy="425.57" r="1.35" fill="#008000"/>
<circle cx="318.48" cy="427.07" r="1.35" fill="#008000"/>
<circle cx="324.03" cy="428.85" r="1.35" fill="#008000"/>
<circle cx="329.58" cy="431.07" r="1.35" fill="#008000"/>
<circle cx="335.14" cy="432.04" r="1.35" fill="#008000"/>
<circle cx="340.69" cy="432.57" r="1.35" fill="#008000"/>
<circle cx="346.25" cy="434.76" r="1.35" fill="#008000"/>
<circle cx="351.80" cy="434.76" r="1.35" fill="#008000"/>
<circle cx="357.35" cy="434.40" r="1.35" fill="#008000"/>
<circle cx="362.91" cy="432.57" r="1.35" fill="#008000"/>
<circle cx="368.46" cy="431.07" r="1.35" fill="#008000"/>
<circle cx="374.02" cy="429.68" r="1.35" fill="#008000"/>
<circle cx="379.57" cy="428.85" r="1.35" fill="#008000"/>
<circle cx="385.12" cy="427.46" r="1.35" fill="#008000"/>
<circle cx="390.68" cy="426.46" r="1.35" fill="#008000"/>
<circle cx="396.23" cy="425.24" r="1.35" fill="#008000"/>
<circle cx="401.78" cy="424.40" r="1.35" fill="#008000"/>
<circle cx="407.34" cy="423.38" r="1.35" fill="#008000"/>
<circle cx="412.89" cy="421.90" r="1.35" fill="#008000"/>
<circle cx="418.45" cy="420.96" r="1.35" fill="#008000"/>
<circle cx="424.00" cy="419.18" r="1.35" fill="#008000"/>
<polygon points="279.60,445.58 278.03,448.22 281.17,448.22" fill="#0000ff"/>
<polygon points="285.15,447.75 283.59,450.39 286.72,450.39" fill="#0000ff"/>
<polygon points="290.71,448.77 289.14,451.41 292.28,451.41" fill="#0000ff"/>
<polygon points="296.26,450.52 294.69,453.16 297.83,453.16" fill="#0000ff"/>
<polygon points="301.82,451.08 300.25,453.72 303.38,453.72" fill="#0000ff"/>
<polygon points="307.37,453.02 305.80,455.66 308.94,455.66" fill="#0000ff"/>
<polygon points="312.92,454.27 311.36,456.91 314.49,456.91" fill="#0000ff"/>
<polygon points="318.48,455.58 316.91,458.22 320.04,458.22" fill="#0000ff"/>
<polygon points="324.03,456.97 322.46,459.61 325.60,459.61" fill="#0000ff"/>
<polygon points="329.58,458.47 328.02,461.11 331.15,461.11" fill="#0000ff"/>
<polygon points="335.14,459.13 333.57,461.77 336.71,461.77" fill="#0000ff"/>
<polygon points="340.69,459.77 339.12,462.41 342.26,462.41" fill="#0000ff"/>
<polygon points="346.25,460.66 344.68,463.30 347.81,463.30" fill="#0000ff"/>
<polygon points="351.80,460.24 350.23,462.88 353.37,462.88" fill="#0000ff"/>
<polygon points="357.35,460.66 355.79,463.30 358.92,463.30" fill="#0000ff"/>
<polygon points="362.91,460.24 361.34,462.88 364.48,462.88" fill="#0000ff"/>
<polygon points="368.46,459.16 366.89,461.80 370.03,461.80" fill="#0000ff"/>
<polygon points="374.02,458.47 372.45,461.11 375.58,461.11" fill="#0000ff"/>
<polygon points="379.57,456.97 378.00,459.61 381.14,459.61" fill="#0000ff"/>
<polygon points="385.12,456.08 383.56,458.72 386.69,458.72" fill="#0000ff"/>
<polygon points="390.68,454.27 389.11,456.91 392.24,456.91" fill="#0000ff"/>
<polygon points="396.23,453.02 394.66,455.66 397.80,455.66" fill="#0000ff"/>
<polygon points="401.78,451.50 400.22,454.14 403.35,454.14" fill="#0000ff"/>
<polygon points="407.34,449.27 405.77,451.91 408.91,451.91" fill="#0000ff"/>
<polygon points="412.89,447.75 411.32,450.39 414.46,450.39" fill="#0000ff"/>
<polygon points="418.45,446.00 416.88,448.64 420.01,448.64" fill="#0000ff"/>
<polygon points="424.00,444.50 422.43,447.14 425.57,447.14" fill="#0000ff"/>
<polygon points="281.25,408.18 278.61,406.62 278.61,409.75" fill="#8a00ff"/>
<polygon points="286.80,409.41 284.16,407.84 284.16,410.97" fill="#8a00ff"/>
<polygon points="292.36,411.35 289.72,409.78 289.72,412.92" fill="#8a00ff"/>
<polygon points="297.91,413.57 295.27,412.00 295.27,415.14" fill="#8a00ff"/>
<polygon points="303.47,414.52 300.83,412.95 300.83,416.08" fill="#8a00ff"/>
<polygon points="309.02,415.79 306.38,414.23 306.38,417.36" fill="#8a00ff"/>
<polygon points="314.57,416.90 311.93,415.34 311.93,418.47" fill="#8a00ff"/>
<polygon points="320.13,418.13 317.49,416.56 317.49,419.69" fill="#8a00ff"/>
<polygon points="325.68,419.13 323.04,417.56 323.04,420.69" fill="#8a00ff"/>
<polygon points="331.23,420.51 328.59,418.95 328.59,422.08" fill="#8a00ff"/>
<polygon points="336.79,421.35 334.15,419.78 334.15,422.92" fill="#8a00ff"/>
<polygon points="342.34,421.79 339.70,420.22 339.70,423.36" fill="#8a00ff"/>
<polygon points="347.90,424.21 345.26,422.64 345.26,425.78" fill="#8a00ff"/>
<polygon points="353.45,424.96 350.81,423.39 350.81,426.53" fill="#8a00ff"/>
<polygon points="359.00,422.74 356.36,421.17 356.36,424.30" fill="#8a00ff"/>
<polygon points="364.56,421.35 361.92,419.78 361.92,422.92" fill="#8a00ff"/>
<polygon points="370.11,420.01 367.47,418.45 367.47,421.58" fill="#8a00ff"/>
<polygon points="375.67,420.01 373.03,418.45 373.03,421.58" fill="#8a00ff"/>
<polygon points="381.22,418.71 378.58,417.14 378.58,420.28" fill="#8a00ff"/>
<polygon points="386.77,418.13 384.13,416.56 384.13,419.69" fill="#8a00ff"/>
<polygon points="392.33,417.18 389.69,415.61 389.69,418.75" fill="#8a00ff"/>
<polygon points="397.88,415.79 395.24,414.23 395.24,417.36" fill="#8a00ff"/>
<polygon points="403.43,414.52 400.79,412.95 400.79,416.08" fill="#8a00ff"/>
<polygon points="408.99,413.57 406.35,412.00 406.35,415.14" fill="#8a00ff"/>
<polygon points="414.54,412.18 411.90,410.62 411.90,413.75" fill="#8a00ff"/>
<polygon points="420.10,410.24 417.46,408.67 417.46,411.81" fill="#8a00ff"/>
<polygon points="425.65,408.41 423.01,406.84 423.01,409.97" fill="#8a00ff"/>
<circle cx="279.60" cy="478.92" r="1.35" fill="#ff0000"/>
<circle cx="285.15" cy="479.21" r="1.35" fill="#ff0000"/>
<circle cx="290.71" cy="479.51" r="1.35" fill="#ff0000"/>
<circle cx="296.26" cy="479.81" r="1.35" fill="#ff0000"/>
<circle cx="301.82" cy="480.03" r="1.35" fill="#ff0000"/>
<circle cx="307.37" cy="480.25" r="1.35" fill="#ff0000"/>
<circle cx="312.92" cy="480.47" r="1.35" fill="#ff0000"/>
<circle cx="318.48" cy="480.70" r="1.35" fill="#ff0000"/>
<circle cx="324.03" cy="480.78" r="1.35" fill="#ff0000"/>
<circle cx="329.58" cy="480.86" r="1.35" fill="#ff0000"/>
<circle cx="335.14" cy="480.95" r="1.35" fill="#ff0000"/>
<circle cx="340.69" cy="481.03" r="1.35" fill="#ff0000"/>
<circle cx="346.25" cy="481.11" r="1.35" fill="#ff0000"/>
<circle cx="351.80" cy="481.20" r="1.35" fill="#ff0000"/>
<circle cx="357.35" cy="481.20" r="1.35" fill="#ff0000"/>
<circle cx="362.91" cy="481.20" r="1.35" fill="#ff0000"/>
<circle cx="368.46" cy="481.20" r="1.35" fill="#ff0000"/>
<circle cx="374.02" cy="481.20" r="1.35" fill="#ff0000"/>
<circle cx="379.57" cy="481.20" r="1.35" fill="#ff0000"/>
<circle cx="385.12" cy="481.20" r="1.35" fill="#ff0000"/>
<circle cx="390.68" cy="480.95" r="1.35" fill="#ff0000"/>
<circle cx="396.23" cy="480.70" r="1.35" fill="#ff0000"/>
<circle cx="401.78" cy="480.25" r="1.35" fill="#ff0000"/>
<circle cx="407.34" cy="479.81" r="1.35" fill="#ff0000"/>
<circle cx="412.89" cy="479.36" r="1.35" fill="#ff0000"/>
<circle cx="418.45" cy="478.92" r="1.35" fill="#ff0000"/>
<circle cx="424.00" cy="477.92" r="1.35" fill="#ff0000"/>
<polygon points="277.95,416.07 280.59,414.50 280.59,417.64" fill="#000080"/>
<polygon points="283.50,419.18 286.14,417.61 286.14,420.75" fill="#000080"/>
<polygon points="289.06,420.51 291.70,418.95 291.70,422.08" fill="#000080"/>
<polygon points="294.61,420.96 297.25,419.39 297.25,422.53" fill="#000080"/>
<polygon points="300.17,421.63 302.81,420.06 302.81,423.19" fill="#000080"/>
<polygon points="305.72,420.96 308.36,419.39 308.36,422.53" fill="#000080"/>
<polygon points="311.27,425.57 313.91,424.00 313.91,427.14" fill="#000080"/>
<polygon points="316.83,427.07 319.47,425.50 319.47,428.64" fill="#000080"/>
<polygon points="322.38,428.85 325.02,427.28 325.02,430.41" fill="#000080"/>
<polygon points="327.93,429.26 330.57,427.70 330.57,430.83" fill="#000080"/>
<polygon points="333.49,430.79 336.13,429.22 336.13,432.36" fill="#000080"/>
<polygon points="339.04,432.57 341.68,431.00 341.68,434.14" fill="#000080"/>
<polygon points="344.60,434.76 347.24,433.19 347.24,436.33" fill="#000080"/>
<polygon points="350.15,434.76 352.79,433.19 352.79,436.33" fill="#000080"/>
<polygon points="355.70,434.40 358.34,432.83 358.34,435.97" fill="#000080"/>
<polygon points="361.26,432.57 363.90,431.00 363.90,434.14" fill="#000080"/>
<polygon points="366.81,431.07 369.45,429.50 369.45,432.64" fill="#000080"/>
<polygon points="372.37,429.68 375.01,428.11 375.01,431.25" fill="#000080"/>
<polygon points="377.92,428.85 380.56,427.28 380.56,430.41" fill="#000080"/>
<polygon points="383.47,427.46 386.11,425.89 386.11,429.03" fill="#000080"/>
<polygon points="389.03,426.46 391.67,424.89 391.67,428.03" fill="#000080"/>
<polygon points="394.58,425.24 397.22,423.67 397.22,426.80" fill="#000080"/>
<polygon points="400.13,423.85 402.77,422.28 402.77,425.41" fill="#000080"/>
<polygon points="405.69,420.96 408.33,419.39 408.33,422.53" fill="#000080"/>
<polygon points="411.24,420.10 413.88,418.53 413.88,421.67" fill="#000080"/>
<polygon points="416.80,419.18 419.44,417.61 419.44,420.75" fill="#000080"/>
<polygon points="422.35,417.88 424.99,416.31 424.99,419.44" fill="#000080"/>
<polygon points="279.60,448.88 278.03,446.24 281.17,446.24" fill="#ff00ff"/>
<polygon points="285.15,451.05 283.59,448.41 286.72,448.41" fill="#ff00ff"/>
<polygon points="290.71,452.07 289.14,449.43 292.28,449.43" fill="#ff00ff"/>
<polygon points="296.26,453.82 294.69,451.18 297.83,451.18" fill="#ff00ff"/>
<polygon points="301.82,454.38 300.25,451.74 303.38,451.74" fill="#ff00ff"/>
<polygon points="307.37,456.32 305.80,453.68 308.94,453.68" fill="#ff00ff"/>
<polygon points="312.92,457.57 311.36,454.93 314.49,454.93" fill="#ff00ff"/>
<polygon points="318.48,458.88 316.91,456.24 320.04,456.24" fill="#ff00ff"/>
<polygon points="324.03,460.27 322.46,457.63 325.60,457.63" fill="#ff00ff"/>
<polygon points="329.58,463.07 328.02,460.43 331.15,460.43" fill="#ff00ff"/>
<polygon points="335.14,463.27 333.57,460.63 336.71,460.63" fill="#ff00ff"/>
<polygon points="340.69,465.77 339.12,463.13 342.26,463.13" fill="#ff00ff"/>
<polygon points="346.25,466.77 344.68,464.13 347.81,464.13" fill="#ff00ff"/>
<polygon points="351.80,465.49 350.23,462.85 353.37,462.85" fill="#ff00ff"/>
<polygon points="357.35,463.96 355.79,461.32 358.92,461.32" fill="#ff00ff"/>
<polygon points="362.91,463.54 361.34,460.90 364.48,460.90" fill="#ff00ff"/>
<polygon points="368.46,462.46 366.89,459.82 370.03,459.82" fill="#ff00ff"/>
<polygon points="374.02,461.77 372.45,459.13 375.58,459.13" fill="#ff00ff"/>
<polygon points="379.57,460.27 378.00,457.63 381.14,457.63" fill="#ff00ff"/>
<polygon points="385.12,459.38 383.56,456.74 386.69,456.74" fill="#ff00ff"/>
<polygon points="390.68,457.57 389.11,454.93 392.24,454.93" fill="#ff00ff"/>
<polygon points="396.23,456.32 394.66,453.68 397.80,453.68" fill="#ff00ff"/>
<polygon points="401.78,454.80 400.22,452.16 403.35,452.16" fill="#ff00ff"/>
<polygon points="407.34,452.57 405.77,449.93 408.91,449.93" fill="#ff00ff"/>
<polygon points="412.89,451.05 411.32,448.41 414.46,448.41" fill="#ff00ff"/>
<polygon points="418.45,449.30 416.88,446.66 420.01,446.66" fill="#ff00ff"/>
<polygon points="424.00,446.05 422.43,443.41 425.57,443.41" fill="#ff00ff"/>
<circle cx="279.60" cy="406.35" r="1.35" fill="#800080"/>
<circle cx="285.15" cy="408.30" r="1.35" fill="#800080"/>
<circle cx="290.71" cy="410.52" r="1.35" fill="#800080"/>
<circle cx="296.26" cy="412.74" r="1.35" fill="#800080"/>
<circle cx="301.82" cy="413.68" r="1.35" fill="#800080"/>
<circle cx="307.37" cy="414.96" r="1.35" fill="#800080"/>
<circle cx="312.92" cy="416.07" r="1.35" fill="#800080"/>
<circle cx="318.48" cy="417.29" r="1.35" fill="#800080"/>
<circle cx="324.03" cy="418.29" r="1.35" fill="#800080"/>
<circle cx="329.58" cy="419.68" r="1.35" fill="#800080"/>
<circle cx="335.14" cy="420.51" r="1.35" fill="#800080"/>
<circle cx="340.69" cy="420.96" r="1.35" fill="#800080"/>
<circle cx="346.25" cy="423.38" r="1.35" fill="#800080"/>
<circle cx="351.80" cy="424.13" r="1.35" fill="#800080"/>
<circle cx="357.35" cy="421.90" r="1.35" fill="#800080"/>
<circle cx="362.91" cy="420.51" r="1.35" fill="#800080"/>
<circle cx="368.46" cy="419.18" r="1.35" fill="#800080"/>
<circle cx="374.02" cy="419.18" r="1.35" fill="#800080"/>
<circle cx="379.57" cy="417.88" r="1.35" fill="#800080"/>
<circle cx="385.12" cy="417.29" r="1.35" fill="#800080"/>
<circle cx="390.68" cy="416.35" r="1.35" fill="#800080"/>
<circle cx="396.23" cy="414.96" r="1.35" fill="#800080"/>
<circle cx="401.78" cy="413.68" r="1.35" fill="#800080"/>
<circle cx="407.34" cy="412.74" r="1.35" fill="#800080"/>
<circle cx="412.89" cy="411.35" r="1.35" fill="#800080"/>
<circle cx="418.45" cy="409.41" r="1.35" fill="#800080"/>
<circle cx="424.00" cy="407.57" r="1.35" fill="#800080"/>
<line x1="296.26" y1="485.50" x2="296.26" y2="483.50" stroke="#9a9a9a" stroke-width="0.9"/>
<text x="0" y="0" class="t" text-anchor="middle" transform="translate(296.26,496.50) scale(1,1.1)">-50</text>
<line x1="324.03" y1="485.50" x2="324.03" y2="483.50" stroke="#9a9a9a" stroke-width="0.9"/>
<text x="0" y="0" class="t" text-anchor="middle" transform="translate(324.03,496.50) scale(1,1.1)">-25</text>
<line x1="351.80" y1="485.50" x2="351.80" y2="483.50" stroke="#9a9a9a" stroke-width="0.9"/>
<text x="0" y="0" class="t" text-anchor="middle" transform="translate(351.80,496.50) scale(1,1.1)">0</text>
<line x1="379.57" y1="485.50" x2="379.57" y2="483.50" stroke="#9a9a9a" stroke-width="0.9"/>
<text x="0" y="0" class="t" text-anchor="middle" transform="translate(379.57,496.50) scale(1,1.1)">25</text>
<line x1="407.34" y1="485.50" x2="407.34" y2="483.50" stroke="#9a9a9a" stroke-width="0.9"/>
<text x="0" y="0" class="t" text-anchor="middle" transform="translate(407.34,496.50) scale(1,1.1)">50</text>
<line x1="282.38" y1="485.50" x2="282.38" y2="484.30" stroke="#9a9a9a" stroke-width="0.8"/>
<line x1="310.15" y1="485.50" x2="310.15" y2="484.30" stroke="#9a9a9a" stroke-width="0.8"/>
<line x1="337.92" y1="485.50" x2="337.92" y2="484.30" stroke="#9a9a9a" stroke-width="0.8"/>
<line x1="365.68" y1="485.50" x2="365.68" y2="484.30" stroke="#9a9a9a" stroke-width="0.8"/>
<line x1="393.45" y1="485.50" x2="393.45" y2="484.30" stroke="#9a9a9a" stroke-width="0.8"/>
<line x1="421.22" y1="485.50" x2="421.22" y2="484.30" stroke="#9a9a9a" stroke-width="0.8"/>
<line x1="279.60" y1="485.50" x2="281.60" y2="485.50" stroke="#9a9a9a" stroke-width="0.9"/>
<text x="0" y="0" class="t" text-anchor="end" transform="translate(277.00,488.90) scale(1,1.1)">0.0</text>
<line x1="279.60" y1="457.73" x2="281.60" y2="457.73" stroke="#9a9a9a" stroke-width="0.9"/>
<text x="0" y="0" class="t" text-anchor="end" transform="translate(277.00,461.13) scale(1,1.1)">0.1</text>
<line x1="279.60" y1="429.96" x2="281.60" y2="429.96" stroke="#9a9a9a" stroke-width="0.9"/>
<text x="0" y="0" class="t" text-anchor="end" transform="translate(277.00,433.36) scale(1,1.1)">0.2</text>
<line x1="279.60" y1="402.19" x2="281.60" y2="402.19" stroke="#9a9a9a" stroke-width="0.9"/>
<text x="0" y="0" class="t" text-anchor="end" transform="translate(277.00,405.59) scale(1,1.1)">0.3</text>
<line x1="279.60" y1="471.61" x2="280.80" y2="471.61" stroke="#9a9a9a" stroke-width="0.8"/>
<line x1="279.60" y1="443.84" x2="280.80" y2="443.84" stroke="#9a9a9a" stroke-width="0.8"/>
<line x1="279.60" y1="416.07" x2="280.80" y2="416.07" stroke="#9a9a9a" stroke-width="0.8"/>
<line x1="279.60" y1="388.30" x2="280.80" y2="388.30" stroke="#9a9a9a" stroke-width="0.8"/>
<text x="223.30" y="397.90" class="pl">(h)</text>
<text x="0" y="0" class="al" text-anchor="middle" transform="translate(252.70,444.30) rotate(-90)">Reflectance</text>
<text x="0" y="0" class="al" text-anchor="middle" transform="translate(354.00,511.60) scale(1,1.1)">VZA (&#176;)</text>
<line x1="2.0" y1="525.6" x2="28.3" y2="525.6" stroke="#d4d4d4" stroke-width="0.9"/>
<circle cx="15.60" cy="525.60" r="1.28" fill="#000000"/>
<text x="0" y="0" class="lg" transform="translate(32.00,528.80) scale(1,1.1)">RGM-Stage_rc1</text>
<line x1="113.2" y1="525.6" x2="140.0" y2="525.6" stroke="#c8c8ff" stroke-width="0.9"/>
<polygon points="127.00,524.03 125.51,526.54 128.49,526.54" fill="#0000ff"/>
<text x="0" y="0" class="lg" transform="translate(143.60,528.80) scale(1,1.1)">RGM-Stage_rc2</text>
<line x1="223.3" y1="525.6" x2="249.5" y2="525.6" stroke="#c8e8c8" stroke-width="0.9"/>
<circle cx="236.50" cy="525.60" r="1.28" fill="#008000"/>
<text x="0" y="0" class="lg" transform="translate(253.10,528.80) scale(1,1.1)">RGM-Stage_rc3</text>
<line x1="334.3" y1="525.6" x2="359.1" y2="525.6" stroke="#e0c8ff" stroke-width="0.9"/>
<polygon points="348.27,525.60 345.76,524.11 345.76,527.09" fill="#8a00ff"/>
<text x="0" y="0" class="lg" transform="translate(362.40,528.80) scale(1,1.1)">RGM-Stage_cc</text>
<line x1="2.0" y1="540.2" x2="28.3" y2="540.2" stroke="#ffc8c8" stroke-width="0.9"/>
<circle cx="15.60" cy="540.20" r="1.28" fill="#ff0000"/>
<text x="0" y="0" class="lg" transform="translate(32.00,543.30) scale(1,1.1)">Row-Stage_rc1</text>
<line x1="113.2" y1="540.2" x2="140.0" y2="540.2" stroke="#ffc8ff" stroke-width="0.9"/>
<polygon points="127.00,541.77 125.51,539.26 128.49,539.26" fill="#ff00ff"/>
<text x="0" y="0" class="lg" transform="translate(143.60,543.30) scale(1,1.1)">Row-Stage_rc2</text>
<line x1="223.3" y1="540.2" x2="249.5" y2="540.2" stroke="#c8c8e8" stroke-width="0.9"/>
<polygon points="234.93,540.20 237.44,538.71 237.44,541.69" fill="#000080"/>
<text x="0" y="0" class="lg" transform="translate(253.10,543.30) scale(1,1.1)">Row-Stage_rc3</text>
<line x1="334.3" y1="540.2" x2="359.1" y2="540.2" stroke="#e8c4e8" stroke-width="0.9"/>
<circle cx="346.70" cy="540.20" r="1.28" fill="#800080"/>
<text x="0" y="0" class="lg" transform="translate(362.40,543.30) scale(1,1.1)">Row-Stage_cc</text>
</svg>
</body></html>
